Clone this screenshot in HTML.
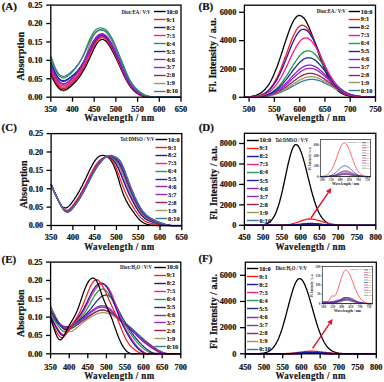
<!DOCTYPE html>
<html><head><meta charset="utf-8"><style>
html,body{margin:0;padding:0;background:#fff;}
svg{display:block;}
text{font-family:"Liberation Serif", serif;font-weight:bold;}
.b{stroke:#111;stroke-width:0.2px;}
</style></head><body>
<svg width="384" height="382" viewBox="0 0 384 382" fill="#111">
<rect width="384" height="382" fill="#fff"/>
<g><polyline fill="none" stroke="#9a9a60" stroke-width="1.25" stroke-linejoin="round" points="50.8,75.1 51.7,76.9 52.5,78.7 53.4,80.4 54.3,82.0 55.1,83.6 56.0,85.0 56.9,86.3 57.7,87.5 58.6,88.4 59.5,89.2 60.3,89.9 61.2,90.4 62.1,90.7 63.0,90.8 63.8,90.8 64.7,90.7 65.6,90.4 66.4,90.0 67.3,89.4 68.2,88.8 69.0,88.0 69.9,87.1 70.8,86.1 71.6,85.1 72.5,84.0 73.4,82.8 74.2,81.5 75.1,80.2 76.0,78.7 76.8,77.2 77.7,75.6 78.6,73.9 79.4,72.1 80.3,70.2 81.2,68.3 82.0,66.2 82.9,64.0 83.8,61.7 84.7,59.4 85.5,56.9 86.4,54.4 87.3,51.8 88.1,49.3 89.0,46.8 89.9,44.4 90.7,42.2 91.6,40.1 92.5,38.1 93.3,36.4 94.2,35.0 95.1,33.7 95.9,32.7 96.8,32.0 97.7,31.3 98.5,30.9 99.4,30.5 100.3,30.4 101.1,30.3 102.0,30.3 102.9,30.5 103.7,30.8 104.6,31.2 105.5,31.8 106.4,32.6 107.2,33.4 108.1,34.5 109.0,35.6 109.8,36.9 110.7,38.3 111.6,39.9 112.4,41.5 113.3,43.3 114.2,45.1 115.0,47.0 115.9,49.0 116.8,51.1 117.6,53.1 118.5,55.2 119.4,57.3 120.2,59.4 121.1,61.5 122.0,63.5 122.8,65.6 123.7,67.7 124.6,69.8 125.4,71.8 126.3,73.8 127.2,75.8 128.1,77.6 128.9,79.4 129.8,80.9 130.7,82.4 131.5,83.8 132.4,85.0 133.3,86.1 134.1,87.2 135.0,88.1 135.9,89.0 136.7,89.8 137.6,90.6 138.5,91.3 139.3,92.0 140.2,92.7 141.1,93.3 141.9,93.8 142.8,94.3 143.7,94.8 144.5,95.2 145.4,95.5 146.3,95.8 147.1,96.0 148.0,96.2 148.9,96.4 149.8,96.5 150.6,96.6 151.5,96.7 152.4,96.8 153.2,96.9 154.1,96.9 155.0,97.0 155.8,97.0 156.7,97.1 157.6,97.1 158.4,97.2 159.3,97.2 160.2,97.2 161.0,97.2 161.9,97.2 162.8,97.2 163.6,97.2 164.5,97.2 165.4,97.2 166.2,97.2 167.1,97.2 168.0,97.2 168.8,97.2 169.7,97.2 170.6,97.2 171.5,97.2 172.3,97.2 173.2,97.2 174.1,97.2 174.9,97.2 175.8,97.2 176.7,97.2 177.5,97.2 178.4,97.2 179.3,97.2 180.1,97.2 181.0,97.2"/>
<polyline fill="none" stroke="#000000" stroke-width="1.25" stroke-linejoin="round" points="50.8,74.1 51.7,76.0 52.5,77.8 53.4,79.5 54.3,81.2 55.1,82.8 56.0,84.3 56.9,85.6 57.7,86.7 58.6,87.7 59.5,88.5 60.3,89.2 61.2,89.6 62.1,90.0 63.0,90.1 63.8,90.1 64.7,90.0 65.6,89.7 66.4,89.3 67.3,88.8 68.2,88.2 69.0,87.6 69.9,86.9 70.8,86.2 71.6,85.5 72.5,84.8 73.4,84.0 74.2,83.1 75.1,82.2 76.0,81.3 76.8,80.3 77.7,79.2 78.6,78.1 79.4,76.9 80.3,75.6 81.2,74.3 82.0,72.9 82.9,71.4 83.8,69.9 84.7,68.4 85.5,66.7 86.4,65.1 87.3,63.3 88.1,61.5 89.0,59.7 89.9,57.8 90.7,55.9 91.6,53.9 92.5,52.0 93.3,50.1 94.2,48.3 95.1,46.6 95.9,45.1 96.8,43.7 97.7,42.4 98.5,41.4 99.4,40.6 100.3,40.0 101.1,39.6 102.0,39.4 102.9,39.5 103.7,39.7 104.6,40.2 105.5,40.8 106.4,41.7 107.2,42.6 108.1,43.8 109.0,45.0 109.8,46.4 110.7,47.9 111.6,49.4 112.4,51.0 113.3,52.7 114.2,54.4 115.0,56.1 115.9,57.9 116.8,59.7 117.6,61.5 118.5,63.4 119.4,65.3 120.2,67.3 121.1,69.3 122.0,71.2 122.8,73.1 123.7,74.9 124.6,76.7 125.4,78.5 126.3,80.1 127.2,81.7 128.1,83.2 128.9,84.6 129.8,85.9 130.7,87.1 131.5,88.2 132.4,89.3 133.3,90.2 134.1,91.1 135.0,91.9 135.9,92.6 136.7,93.2 137.6,93.8 138.5,94.3 139.3,94.8 140.2,95.2 141.1,95.5 141.9,95.9 142.8,96.1 143.7,96.3 144.5,96.5 145.4,96.7 146.3,96.8 147.1,96.9 148.0,97.0 148.9,97.1 149.8,97.1 150.6,97.2 151.5,97.2 152.4,97.2 153.2,97.2 154.1,97.2 155.0,97.2 155.8,97.2 156.7,97.2 157.6,97.2 158.4,97.2 159.3,97.2 160.2,97.2 161.0,97.2 161.9,97.2 162.8,97.2 163.6,97.2 164.5,97.2 165.4,97.2 166.2,97.2 167.1,97.2 168.0,97.2 168.8,97.2 169.7,97.2 170.6,97.2 171.5,97.2 172.3,97.2 173.2,97.2 174.1,97.2 174.9,97.2 175.8,97.2 176.7,97.2 177.5,97.2 178.4,97.2 179.3,97.2 180.1,97.2 181.0,97.2"/>
<polyline fill="none" stroke="#a02050" stroke-width="1.25" stroke-linejoin="round" points="50.8,72.2 51.7,74.1 52.5,76.0 53.4,77.8 54.3,79.5 55.1,81.2 56.0,82.7 56.9,84.0 57.7,85.2 58.6,86.2 59.5,87.0 60.3,87.7 61.2,88.2 62.1,88.5 63.0,88.7 63.8,88.7 64.7,88.5 65.6,88.2 66.4,87.8 67.3,87.3 68.2,86.7 69.0,86.1 69.9,85.4 70.8,84.6 71.6,83.9 72.5,83.1 73.4,82.2 74.2,81.3 75.1,80.4 76.0,79.4 76.8,78.3 77.7,77.1 78.6,75.9 79.4,74.6 80.3,73.3 81.2,71.9 82.0,70.4 82.9,68.8 83.8,67.2 84.7,65.5 85.5,63.7 86.4,61.9 87.3,60.0 88.1,58.1 89.0,56.2 89.9,54.2 90.7,52.2 91.6,50.3 92.5,48.4 93.3,46.6 94.2,44.9 95.1,43.4 95.9,42.0 96.8,40.7 97.7,39.7 98.5,38.8 99.4,38.1 100.3,37.6 101.1,37.2 102.0,37.1 102.9,37.2 103.7,37.5 104.6,38.0 105.5,38.6 106.4,39.4 107.2,40.3 108.1,41.4 109.0,42.7 109.8,44.0 110.7,45.5 111.6,47.0 112.4,48.6 113.3,50.3 114.2,52.1 115.0,53.8 115.9,55.7 116.8,57.5 117.6,59.4 118.5,61.4 119.4,63.3 120.2,65.3 121.1,67.3 122.0,69.3 122.8,71.2 123.7,73.1 124.6,75.0 125.4,76.8 126.3,78.6 127.2,80.2 128.1,81.8 128.9,83.3 129.8,84.7 130.7,85.9 131.5,87.1 132.4,88.2 133.3,89.2 134.1,90.1 135.0,90.9 135.9,91.7 136.7,92.4 137.6,93.0 138.5,93.6 139.3,94.1 140.2,94.6 141.1,95.0 141.9,95.3 142.8,95.7 143.7,96.0 144.5,96.2 145.4,96.4 146.3,96.6 147.1,96.7 148.0,96.8 148.9,96.9 149.8,97.0 150.6,97.0 151.5,97.1 152.4,97.1 153.2,97.1 154.1,97.1 155.0,97.1 155.8,97.2 156.7,97.2 157.6,97.2 158.4,97.2 159.3,97.2 160.2,97.2 161.0,97.2 161.9,97.2 162.8,97.2 163.6,97.2 164.5,97.2 165.4,97.2 166.2,97.2 167.1,97.2 168.0,97.2 168.8,97.2 169.7,97.2 170.6,97.2 171.5,97.2 172.3,97.2 173.2,97.2 174.1,97.2 174.9,97.2 175.8,97.2 176.7,97.2 177.5,97.2 178.4,97.2 179.3,97.2 180.1,97.2 181.0,97.2"/>
<polyline fill="none" stroke="#ff1a1a" stroke-width="1.25" stroke-linejoin="round" points="50.8,70.3 51.7,72.3 52.5,74.2 53.4,76.1 54.3,77.9 55.1,79.6 56.0,81.1 56.9,82.5 57.7,83.7 58.6,84.7 59.5,85.6 60.3,86.2 61.2,86.7 62.1,87.1 63.0,87.2 63.8,87.2 64.7,87.1 65.6,86.8 66.4,86.4 67.3,85.9 68.2,85.3 69.0,84.7 69.9,84.0 70.8,83.3 71.6,82.6 72.5,81.8 73.4,81.0 74.2,80.2 75.1,79.3 76.0,78.3 76.8,77.3 77.7,76.2 78.6,75.1 79.4,73.9 80.3,72.6 81.2,71.3 82.0,69.9 82.9,68.4 83.8,66.9 84.7,65.2 85.5,63.6 86.4,61.8 87.3,60.0 88.1,58.2 89.0,56.4 89.9,54.5 90.7,52.6 91.6,50.7 92.5,48.9 93.3,47.1 94.2,45.4 95.1,43.8 95.9,42.4 96.8,41.2 97.7,40.1 98.5,39.2 99.4,38.4 100.3,37.9 101.1,37.6 102.0,37.5 102.9,37.6 103.7,37.8 104.6,38.3 105.5,38.9 106.4,39.7 107.2,40.7 108.1,41.8 109.0,43.0 109.8,44.4 110.7,45.8 111.6,47.4 112.4,49.0 113.3,50.7 114.2,52.4 115.0,54.2 115.9,56.0 116.8,57.8 117.6,59.7 118.5,61.7 119.4,63.6 120.2,65.6 121.1,67.6 122.0,69.6 122.8,71.5 123.7,73.4 124.6,75.3 125.4,77.1 126.3,78.8 127.2,80.5 128.1,82.0 128.9,83.5 129.8,84.8 130.7,86.1 131.5,87.3 132.4,88.3 133.3,89.3 134.1,90.2 135.0,91.1 135.9,91.8 136.7,92.5 137.6,93.1 138.5,93.7 139.3,94.2 140.2,94.7 141.1,95.1 141.9,95.4 142.8,95.7 143.7,96.0 144.5,96.2 145.4,96.4 146.3,96.6 147.1,96.7 148.0,96.8 148.9,96.9 149.8,97.0 150.6,97.0 151.5,97.1 152.4,97.1 153.2,97.1 154.1,97.1 155.0,97.2 155.8,97.2 156.7,97.2 157.6,97.2 158.4,97.2 159.3,97.2 160.2,97.2 161.0,97.2 161.9,97.2 162.8,97.2 163.6,97.2 164.5,97.2 165.4,97.2 166.2,97.2 167.1,97.2 168.0,97.2 168.8,97.2 169.7,97.2 170.6,97.2 171.5,97.2 172.3,97.2 173.2,97.2 174.1,97.2 174.9,97.2 175.8,97.2 176.7,97.2 177.5,97.2 178.4,97.2 179.3,97.2 180.1,97.2 181.0,97.2"/>
<polyline fill="none" stroke="#ff1a8c" stroke-width="1.25" stroke-linejoin="round" points="50.8,68.4 51.7,70.4 52.5,72.4 53.4,74.4 54.3,76.2 55.1,78.0 56.0,79.6 56.9,81.0 57.7,82.2 58.6,83.3 59.5,84.1 60.3,84.8 61.2,85.3 62.1,85.6 63.0,85.8 63.8,85.8 64.7,85.6 65.6,85.3 66.4,84.9 67.3,84.4 68.2,83.8 69.0,83.2 69.9,82.5 70.8,81.8 71.6,81.1 72.5,80.3 73.4,79.5 74.2,78.7 75.1,77.8 76.0,76.9 76.8,75.9 77.7,74.8 78.6,73.7 79.4,72.5 80.3,71.2 81.2,69.9 82.0,68.4 82.9,66.9 83.8,65.4 84.7,63.7 85.5,62.0 86.4,60.3 87.3,58.5 88.1,56.6 89.0,54.8 89.9,52.9 90.7,51.0 91.6,49.2 92.5,47.4 93.3,45.7 94.2,44.0 95.1,42.6 95.9,41.2 96.8,40.0 97.7,39.0 98.5,38.1 99.4,37.4 100.3,37.0 101.1,36.7 102.0,36.6 102.9,36.7 103.7,36.9 104.6,37.4 105.5,38.0 106.4,38.8 107.2,39.8 108.1,40.9 109.0,42.1 109.8,43.4 110.7,44.9 111.6,46.4 112.4,48.0 113.3,49.7 114.2,51.5 115.0,53.3 115.9,55.1 116.8,57.0 117.6,58.9 118.5,60.9 119.4,62.8 120.2,64.8 121.1,66.8 122.0,68.8 122.8,70.8 123.7,72.7 124.6,74.6 125.4,76.4 126.3,78.2 127.2,79.9 128.1,81.5 128.9,83.0 129.8,84.3 130.7,85.6 131.5,86.8 132.4,87.9 133.3,88.9 134.1,89.8 135.0,90.7 135.9,91.5 136.7,92.2 137.6,92.8 138.5,93.4 139.3,93.9 140.2,94.4 141.1,94.8 141.9,95.2 142.8,95.6 143.7,95.9 144.5,96.1 145.4,96.3 146.3,96.5 147.1,96.6 148.0,96.8 148.9,96.9 149.8,96.9 150.6,97.0 151.5,97.0 152.4,97.1 153.2,97.1 154.1,97.1 155.0,97.1 155.8,97.1 156.7,97.2 157.6,97.2 158.4,97.2 159.3,97.2 160.2,97.2 161.0,97.2 161.9,97.2 162.8,97.2 163.6,97.2 164.5,97.2 165.4,97.2 166.2,97.2 167.1,97.2 168.0,97.2 168.8,97.2 169.7,97.2 170.6,97.2 171.5,97.2 172.3,97.2 173.2,97.2 174.1,97.2 174.9,97.2 175.8,97.2 176.7,97.2 177.5,97.2 178.4,97.2 179.3,97.2 180.1,97.2 181.0,97.2"/>
<polyline fill="none" stroke="#1a1aa8" stroke-width="1.25" stroke-linejoin="round" points="50.8,61.7 51.7,63.9 52.5,66.2 53.4,68.3 54.3,70.4 55.1,72.3 56.0,74.1 56.9,75.6 57.7,77.0 58.6,78.1 59.5,79.0 60.3,79.7 61.2,80.2 62.1,80.5 63.0,80.7 63.8,80.7 64.7,80.5 65.6,80.2 66.4,79.8 67.3,79.3 68.2,78.8 69.0,78.2 69.9,77.5 70.8,76.9 71.6,76.2 72.5,75.5 73.4,74.8 74.2,74.1 75.1,73.3 76.0,72.4 76.8,71.6 77.7,70.6 78.6,69.6 79.4,68.6 80.3,67.5 81.2,66.2 82.0,65.0 82.9,63.6 83.8,62.1 84.7,60.6 85.5,58.9 86.4,57.3 87.3,55.6 88.1,53.9 89.0,52.2 89.9,50.4 90.7,48.7 91.6,47.0 92.5,45.4 93.3,43.8 94.2,42.3 95.1,40.9 95.9,39.7 96.8,38.5 97.7,37.6 98.5,36.8 99.4,36.2 100.3,35.8 101.1,35.5 102.0,35.4 102.9,35.5 103.7,35.8 104.6,36.3 105.5,36.9 106.4,37.7 107.2,38.6 108.1,39.7 109.0,40.9 109.8,42.2 110.7,43.7 111.6,45.2 112.4,46.9 113.3,48.6 114.2,50.3 115.0,52.1 115.9,54.0 116.8,55.9 117.6,57.9 118.5,59.8 119.4,61.8 120.2,63.8 121.1,65.8 122.0,67.8 122.8,69.8 123.7,71.8 124.6,73.7 125.4,75.6 126.3,77.4 127.2,79.1 128.1,80.8 128.9,82.3 129.8,83.7 130.7,85.0 131.5,86.3 132.4,87.4 133.3,88.4 134.1,89.4 135.0,90.2 135.9,91.0 136.7,91.7 137.6,92.4 138.5,93.0 139.3,93.6 140.2,94.1 141.1,94.6 141.9,95.0 142.8,95.3 143.7,95.7 144.5,95.9 145.4,96.2 146.3,96.4 147.1,96.5 148.0,96.7 148.9,96.8 149.8,96.9 150.6,96.9 151.5,97.0 152.4,97.0 153.2,97.1 154.1,97.1 155.0,97.1 155.8,97.1 156.7,97.1 157.6,97.2 158.4,97.2 159.3,97.2 160.2,97.2 161.0,97.2 161.9,97.2 162.8,97.2 163.6,97.2 164.5,97.2 165.4,97.2 166.2,97.2 167.1,97.2 168.0,97.2 168.8,97.2 169.7,97.2 170.6,97.2 171.5,97.2 172.3,97.2 173.2,97.2 174.1,97.2 174.9,97.2 175.8,97.2 176.7,97.2 177.5,97.2 178.4,97.2 179.3,97.2 180.1,97.2 181.0,97.2"/>
<polyline fill="none" stroke="#1a2a9a" stroke-width="1.25" stroke-linejoin="round" points="50.8,62.6 51.7,64.9 52.5,67.1 53.4,69.2 54.3,71.2 55.1,73.1 56.0,74.9 56.9,76.4 57.7,77.7 58.6,78.8 59.5,79.7 60.3,80.4 61.2,80.9 62.1,81.3 63.0,81.4 63.8,81.4 64.7,81.2 65.6,81.0 66.4,80.5 67.3,80.0 68.2,79.5 69.0,78.8 69.9,78.2 70.8,77.5 71.6,76.8 72.5,76.0 73.4,75.2 74.2,74.4 75.1,73.5 76.0,72.6 76.8,71.7 77.7,70.6 78.6,69.6 79.4,68.4 80.3,67.2 81.2,65.8 82.0,64.4 82.9,62.9 83.8,61.4 84.7,59.7 85.5,57.9 86.4,56.2 87.3,54.3 88.1,52.5 89.0,50.7 89.9,48.9 90.7,47.1 91.6,45.3 92.5,43.7 93.3,42.1 94.2,40.6 95.1,39.3 95.9,38.1 96.8,37.1 97.7,36.2 98.5,35.5 99.4,34.9 100.3,34.6 101.1,34.3 102.0,34.3 102.9,34.4 103.7,34.7 104.6,35.2 105.5,35.8 106.4,36.5 107.2,37.5 108.1,38.5 109.0,39.7 109.8,41.1 110.7,42.5 111.6,44.0 112.4,45.7 113.3,47.4 114.2,49.2 115.0,51.0 115.9,52.9 116.8,54.8 117.6,56.8 118.5,58.8 119.4,60.8 120.2,62.8 121.1,64.9 122.0,66.9 122.8,68.9 123.7,70.9 124.6,72.8 125.4,74.7 126.3,76.6 127.2,78.4 128.1,80.1 128.9,81.6 129.8,83.1 130.7,84.5 131.5,85.7 132.4,86.9 133.3,87.9 134.1,88.9 135.0,89.8 135.9,90.6 136.7,91.3 137.6,92.0 138.5,92.6 139.3,93.2 140.2,93.8 141.1,94.3 141.9,94.7 142.8,95.1 143.7,95.5 144.5,95.8 145.4,96.0 146.3,96.2 147.1,96.4 148.0,96.6 148.9,96.7 149.8,96.8 150.6,96.9 151.5,96.9 152.4,97.0 153.2,97.0 154.1,97.1 155.0,97.1 155.8,97.1 156.7,97.1 157.6,97.2 158.4,97.2 159.3,97.2 160.2,97.2 161.0,97.2 161.9,97.2 162.8,97.2 163.6,97.2 164.5,97.2 165.4,97.2 166.2,97.2 167.1,97.2 168.0,97.2 168.8,97.2 169.7,97.2 170.6,97.2 171.5,97.2 172.3,97.2 173.2,97.2 174.1,97.2 174.9,97.2 175.8,97.2 176.7,97.2 177.5,97.2 178.4,97.2 179.3,97.2 180.1,97.2 181.0,97.2"/>
<polyline fill="none" stroke="#8a30c8" stroke-width="1.25" stroke-linejoin="round" points="50.8,66.5 51.7,68.6 52.5,70.6 53.4,72.6 54.3,74.5 55.1,76.3 56.0,78.0 56.9,79.5 57.7,80.7 58.6,81.8 59.5,82.7 60.3,83.3 61.2,83.8 62.1,84.2 63.0,84.3 63.8,84.3 64.7,84.2 65.6,83.9 66.4,83.5 67.3,82.9 68.2,82.4 69.0,81.7 69.9,81.0 70.8,80.3 71.6,79.5 72.5,78.7 73.4,77.8 74.2,76.9 75.1,75.9 76.0,74.9 76.8,73.9 77.7,72.7 78.6,71.5 79.4,70.2 80.3,68.9 81.2,67.5 82.0,65.9 82.9,64.3 83.8,62.6 84.7,60.8 85.5,59.0 86.4,57.1 87.3,55.2 88.1,53.2 89.0,51.3 89.9,49.3 90.7,47.4 91.6,45.6 92.5,43.8 93.3,42.2 94.2,40.7 95.1,39.3 95.9,38.1 96.8,37.1 97.7,36.2 98.5,35.5 99.4,34.9 100.3,34.6 101.1,34.3 102.0,34.3 102.9,34.4 103.7,34.7 104.6,35.2 105.5,35.8 106.4,36.5 107.2,37.5 108.1,38.5 109.0,39.7 109.8,41.1 110.7,42.5 111.6,44.0 112.4,45.7 113.3,47.4 114.2,49.2 115.0,51.0 115.9,52.9 116.8,54.8 117.6,56.8 118.5,58.8 119.4,60.8 120.2,62.8 121.1,64.9 122.0,66.9 122.8,68.9 123.7,70.9 124.6,72.8 125.4,74.7 126.3,76.6 127.2,78.4 128.1,80.1 128.9,81.6 129.8,83.1 130.7,84.5 131.5,85.7 132.4,86.9 133.3,87.9 134.1,88.9 135.0,89.8 135.9,90.6 136.7,91.3 137.6,92.0 138.5,92.6 139.3,93.2 140.2,93.8 141.1,94.3 141.9,94.7 142.8,95.1 143.7,95.5 144.5,95.8 145.4,96.0 146.3,96.2 147.1,96.4 148.0,96.6 148.9,96.7 149.8,96.8 150.6,96.9 151.5,96.9 152.4,97.0 153.2,97.0 154.1,97.1 155.0,97.1 155.8,97.1 156.7,97.1 157.6,97.2 158.4,97.2 159.3,97.2 160.2,97.2 161.0,97.2 161.9,97.2 162.8,97.2 163.6,97.2 164.5,97.2 165.4,97.2 166.2,97.2 167.1,97.2 168.0,97.2 168.8,97.2 169.7,97.2 170.6,97.2 171.5,97.2 172.3,97.2 173.2,97.2 174.1,97.2 174.9,97.2 175.8,97.2 176.7,97.2 177.5,97.2 178.4,97.2 179.3,97.2 180.1,97.2 181.0,97.2"/>
<polyline fill="none" stroke="#9020c0" stroke-width="1.25" stroke-linejoin="round" points="50.8,65.5 51.7,67.6 52.5,69.7 53.4,71.8 54.3,73.7 55.1,75.5 56.0,77.2 56.9,78.7 57.7,80.0 58.6,81.0 59.5,81.9 60.3,82.6 61.2,83.1 62.1,83.4 63.0,83.6 63.8,83.6 64.7,83.4 65.6,83.1 66.4,82.7 67.3,82.2 68.2,81.6 69.0,81.0 69.9,80.3 70.8,79.5 71.6,78.7 72.5,77.9 73.4,77.0 74.2,76.1 75.1,75.2 76.0,74.2 76.8,73.1 77.7,71.9 78.6,70.7 79.4,69.5 80.3,68.1 81.2,66.7 82.0,65.1 82.9,63.5 83.8,61.8 84.7,60.0 85.5,58.1 86.4,56.2 87.3,54.2 88.1,52.3 89.0,50.3 89.9,48.4 90.7,46.5 91.6,44.7 92.5,42.9 93.3,41.3 94.2,39.8 95.1,38.5 95.9,37.3 96.8,36.3 97.7,35.5 98.5,34.8 99.4,34.3 100.3,34.0 101.1,33.8 102.0,33.7 102.9,33.9 103.7,34.2 104.6,34.6 105.5,35.2 106.4,36.0 107.2,36.9 108.1,37.9 109.0,39.1 109.8,40.5 110.7,41.9 111.6,43.4 112.4,45.1 113.3,46.8 114.2,48.6 115.0,50.4 115.9,52.3 116.8,54.3 117.6,56.3 118.5,58.3 119.4,60.3 120.2,62.3 121.1,64.4 122.0,66.4 122.8,68.4 123.7,70.4 124.6,72.4 125.4,74.3 126.3,76.2 127.2,78.0 128.1,79.7 128.9,81.3 129.8,82.8 130.7,84.2 131.5,85.4 132.4,86.6 133.3,87.6 134.1,88.6 135.0,89.5 135.9,90.3 136.7,91.1 137.6,91.8 138.5,92.5 139.3,93.1 140.2,93.6 141.1,94.1 141.9,94.6 142.8,95.0 143.7,95.4 144.5,95.7 145.4,95.9 146.3,96.2 147.1,96.4 148.0,96.5 148.9,96.6 149.8,96.7 150.6,96.8 151.5,96.9 152.4,96.9 153.2,97.0 154.1,97.0 155.0,97.1 155.8,97.1 156.7,97.1 157.6,97.2 158.4,97.2 159.3,97.2 160.2,97.2 161.0,97.2 161.9,97.2 162.8,97.2 163.6,97.2 164.5,97.2 165.4,97.2 166.2,97.2 167.1,97.2 168.0,97.2 168.8,97.2 169.7,97.2 170.6,97.2 171.5,97.2 172.3,97.2 173.2,97.2 174.1,97.2 174.9,97.2 175.8,97.2 176.7,97.2 177.5,97.2 178.4,97.2 179.3,97.2 180.1,97.2 181.0,97.2"/>
<polyline fill="none" stroke="#1f9a50" stroke-width="1.25" stroke-linejoin="round" points="50.8,57.9 51.7,60.2 52.5,62.6 53.4,64.9 54.3,67.0 55.1,69.1 56.0,70.9 56.9,72.6 57.7,74.0 58.6,75.1 59.5,76.1 60.3,76.8 61.2,77.3 62.1,77.6 63.0,77.8 63.8,77.8 64.7,77.6 65.6,77.3 66.4,76.9 67.3,76.4 68.2,75.8 69.0,75.1 69.9,74.3 70.8,73.5 71.6,72.6 72.5,71.7 73.4,70.8 74.2,69.8 75.1,68.7 76.0,67.6 76.8,66.4 77.7,65.2 78.6,63.9 79.4,62.5 80.3,61.0 81.2,59.4 82.0,57.7 82.9,55.9 83.8,53.9 84.7,51.8 85.5,49.7 86.4,47.5 87.3,45.3 88.1,43.1 89.0,41.0 89.9,39.0 90.7,37.2 91.6,35.5 92.5,33.9 93.3,32.6 94.2,31.4 95.1,30.4 95.9,29.6 96.8,29.0 97.7,28.6 98.5,28.2 99.4,28.0 100.3,27.9 101.1,28.0 102.0,28.1 102.9,28.3 103.7,28.6 104.6,29.0 105.5,29.6 106.4,30.3 107.2,31.1 108.1,32.1 109.0,33.3 109.8,34.5 110.7,36.0 111.6,37.5 112.4,39.1 113.3,40.9 114.2,42.8 115.0,44.8 115.9,46.8 116.8,48.9 117.6,51.0 118.5,53.2 119.4,55.3 120.2,57.4 121.1,59.5 122.0,61.6 122.8,63.7 123.7,65.9 124.6,68.0 125.4,70.2 126.3,72.3 127.2,74.3 128.1,76.2 128.9,78.0 129.8,79.7 130.7,81.2 131.5,82.6 132.4,83.9 133.3,85.1 134.1,86.2 135.0,87.2 135.9,88.1 136.7,89.0 137.6,89.8 138.5,90.6 139.3,91.3 140.2,92.1 141.1,92.7 141.9,93.3 142.8,93.9 143.7,94.4 144.5,94.8 145.4,95.2 146.3,95.5 147.1,95.8 148.0,96.0 148.9,96.2 149.8,96.3 150.6,96.5 151.5,96.6 152.4,96.7 153.2,96.8 154.1,96.9 155.0,96.9 155.8,97.0 156.7,97.1 157.6,97.1 158.4,97.2 159.3,97.2 160.2,97.2 161.0,97.2 161.9,97.2 162.8,97.2 163.6,97.2 164.5,97.2 165.4,97.2 166.2,97.2 167.1,97.2 168.0,97.2 168.8,97.2 169.7,97.2 170.6,97.2 171.5,97.2 172.3,97.2 173.2,97.2 174.1,97.2 174.9,97.2 175.8,97.2 176.7,97.2 177.5,97.2 178.4,97.2 179.3,97.2 180.1,97.2 181.0,97.2"/>
<polyline fill="none" stroke="#3a7a98" stroke-width="1.25" stroke-linejoin="round" points="50.8,55.9 51.7,58.4 52.5,60.8 53.4,63.2 54.3,65.4 55.1,67.5 56.0,69.4 56.9,71.0 57.7,72.5 58.6,73.6 59.5,74.6 60.3,75.3 61.2,75.9 62.1,76.2 63.0,76.3 63.8,76.3 64.7,76.2 65.6,75.9 66.4,75.4 67.3,74.9 68.2,74.3 69.0,73.7 69.9,73.0 70.8,72.2 71.6,71.5 72.5,70.7 73.4,69.8 74.2,68.9 75.1,68.0 76.0,67.0 76.8,66.0 77.7,64.9 78.6,63.8 79.4,62.6 80.3,61.2 81.2,59.8 82.0,58.3 82.9,56.7 83.8,54.9 84.7,53.0 85.5,51.1 86.4,49.1 87.3,47.1 88.1,45.1 89.0,43.2 89.9,41.3 90.7,39.6 91.6,38.0 92.5,36.5 93.3,35.1 94.2,33.9 95.1,32.8 95.9,32.0 96.8,31.2 97.7,30.6 98.5,30.2 99.4,29.9 100.3,29.7 101.1,29.7 102.0,29.8 102.9,29.9 103.7,30.2 104.6,30.7 105.5,31.3 106.4,32.0 107.2,32.9 108.1,33.9 109.0,35.0 109.8,36.3 110.7,37.7 111.6,39.3 112.4,40.9 113.3,42.7 114.2,44.5 115.0,46.5 115.9,48.5 116.8,50.5 117.6,52.6 118.5,54.7 119.4,56.8 120.2,58.9 121.1,61.0 122.0,63.1 122.8,65.1 123.7,67.2 124.6,69.3 125.4,71.4 126.3,73.4 127.2,75.4 128.1,77.3 128.9,79.0 129.8,80.6 130.7,82.1 131.5,83.5 132.4,84.7 133.3,85.9 134.1,86.9 135.0,87.9 135.9,88.8 136.7,89.6 137.6,90.4 138.5,91.1 139.3,91.9 140.2,92.5 141.1,93.1 141.9,93.7 142.8,94.2 143.7,94.7 144.5,95.1 145.4,95.4 146.3,95.7 147.1,95.9 148.0,96.1 148.9,96.3 149.8,96.5 150.6,96.6 151.5,96.7 152.4,96.8 153.2,96.8 154.1,96.9 155.0,97.0 155.8,97.0 156.7,97.1 157.6,97.1 158.4,97.2 159.3,97.2 160.2,97.2 161.0,97.2 161.9,97.2 162.8,97.2 163.6,97.2 164.5,97.2 165.4,97.2 166.2,97.2 167.1,97.2 168.0,97.2 168.8,97.2 169.7,97.2 170.6,97.2 171.5,97.2 172.3,97.2 173.2,97.2 174.1,97.2 174.9,97.2 175.8,97.2 176.7,97.2 177.5,97.2 178.4,97.2 179.3,97.2 180.1,97.2 181.0,97.2"/>
<polyline fill="none" stroke="#000000" stroke-width="1.30" stroke-linejoin="round" points="244.4,97.1 245.4,97.0 246.4,97.0 247.4,96.9 248.4,96.8 249.5,96.7 250.5,96.6 251.5,96.4 252.5,96.2 253.5,96.0 254.5,95.8 255.5,95.5 256.5,95.1 257.5,94.7 258.6,94.2 259.6,93.7 260.6,93.1 261.6,92.4 262.6,91.6 263.6,90.7 264.6,89.8 265.6,88.7 266.6,87.4 267.7,86.1 268.7,84.6 269.7,83.0 270.7,81.2 271.7,79.3 272.7,77.2 273.7,75.0 274.7,72.6 275.7,70.1 276.8,67.5 277.8,64.8 278.8,61.9 279.8,58.9 280.8,55.9 281.8,52.8 282.8,49.7 283.8,46.5 284.8,43.4 285.9,40.3 286.9,37.2 287.9,34.3 288.9,31.4 289.9,28.8 290.9,26.3 291.9,24.0 292.9,21.9 293.9,20.1 295.0,18.5 296.0,17.3 297.0,16.3 298.0,15.7 299.0,15.4 300.0,15.5 301.0,15.8 302.0,16.4 303.0,17.2 304.1,18.3 305.1,19.7 306.1,21.3 307.1,23.2 308.1,25.2 309.1,27.5 310.1,29.9 311.1,32.4 312.1,35.1 313.2,37.8 314.2,40.7 315.2,43.5 316.2,46.5 317.2,49.4 318.2,52.3 319.2,55.2 320.2,58.0 321.2,60.8 322.3,63.5 323.3,66.1 324.3,68.6 325.3,70.9 326.3,73.2 327.3,75.4 328.3,77.4 329.3,79.3 330.4,81.1 331.4,82.7 332.4,84.3 333.4,85.7 334.4,87.0 335.4,88.2 336.4,89.2 337.4,90.2 338.4,91.1 339.5,91.9 340.5,92.6 341.5,93.2 342.5,93.8 343.5,94.2 344.5,94.7 345.5,95.1 346.5,95.4 347.5,95.7 348.6,95.9 349.6,96.1 350.6,96.3 351.6,96.5 352.6,96.6 353.6,96.7 354.6,96.8 355.6,96.9 356.6,97.0 357.7,97.0 358.7,97.1 359.7,97.1 360.7,97.2 361.7,97.2 362.7,97.2 363.7,97.2 364.7,97.2 365.7,97.3 366.8,97.3 367.8,97.3 368.8,97.3 369.8,97.3 370.8,97.3 371.8,97.3 372.8,97.3 373.8,97.3 374.8,97.3"/>
<polyline fill="none" stroke="#ff1a1a" stroke-width="1.30" stroke-linejoin="round" points="244.4,97.2 245.4,97.2 246.4,97.2 247.4,97.1 248.4,97.1 249.5,97.0 250.5,97.0 251.5,96.9 252.5,96.8 253.5,96.7 254.5,96.6 255.5,96.4 256.5,96.3 257.5,96.1 258.6,95.8 259.6,95.5 260.6,95.2 261.6,94.8 262.6,94.3 263.6,93.8 264.6,93.2 265.6,92.5 266.6,91.8 267.7,90.9 268.7,90.0 269.7,88.9 270.7,87.7 271.7,86.4 272.7,85.0 273.7,83.4 274.7,81.7 275.7,79.9 276.8,78.0 277.8,75.9 278.8,73.7 279.8,71.3 280.8,68.9 281.8,66.3 282.8,63.7 283.8,61.0 284.8,58.2 285.9,55.4 286.9,52.6 287.9,49.8 288.9,47.0 289.9,44.3 290.9,41.6 291.9,39.1 292.9,36.7 293.9,34.5 295.0,32.5 296.0,30.6 297.0,29.1 298.0,27.7 299.0,26.7 300.0,25.9 301.0,25.4 302.0,25.2 303.0,25.3 304.1,25.6 305.1,26.2 306.1,27.0 307.1,28.1 308.1,29.3 309.1,30.8 310.1,32.5 311.1,34.3 312.1,36.3 313.2,38.5 314.2,40.7 315.2,43.1 316.2,45.5 317.2,48.1 318.2,50.6 319.2,53.2 320.2,55.7 321.2,58.3 322.3,60.8 323.3,63.3 324.3,65.7 325.3,68.1 326.3,70.3 327.3,72.5 328.3,74.6 329.3,76.6 330.4,78.5 331.4,80.2 332.4,81.9 333.4,83.4 334.4,84.8 335.4,86.2 336.4,87.4 337.4,88.5 338.4,89.5 339.5,90.4 340.5,91.3 341.5,92.0 342.5,92.7 343.5,93.3 344.5,93.8 345.5,94.3 346.5,94.7 347.5,95.1 348.6,95.4 349.6,95.7 350.6,95.9 351.6,96.1 352.6,96.3 353.6,96.5 354.6,96.6 355.6,96.7 356.6,96.8 357.7,96.9 358.7,97.0 359.7,97.0 360.7,97.1 361.7,97.1 362.7,97.2 363.7,97.2 364.7,97.2 365.7,97.2 366.8,97.2 367.8,97.3 368.8,97.3 369.8,97.3 370.8,97.3 371.8,97.3 372.8,97.3 373.8,97.3 374.8,97.3"/>
<polyline fill="none" stroke="#3a7a98" stroke-width="1.30" stroke-linejoin="round" points="244.4,97.3 245.4,97.3 246.4,97.2 247.4,97.2 248.4,97.2 249.5,97.2 250.5,97.2 251.5,97.2 252.5,97.1 253.5,97.1 254.5,97.1 255.5,97.0 256.5,97.0 257.5,97.0 258.6,96.9 259.6,96.8 260.6,96.8 261.6,96.7 262.6,96.6 263.6,96.5 264.6,96.4 265.6,96.3 266.6,96.1 267.7,96.0 268.7,95.8 269.7,95.6 270.7,95.4 271.7,95.2 272.7,95.0 273.7,94.7 274.7,94.4 275.7,94.1 276.8,93.8 277.8,93.5 278.8,93.1 279.8,92.7 280.8,92.3 281.8,91.9 282.8,91.4 283.8,91.0 284.8,90.5 285.9,90.0 286.9,89.4 287.9,88.9 288.9,88.4 289.9,87.8 290.9,87.2 291.9,86.7 292.9,86.1 293.9,85.5 295.0,85.0 296.0,84.4 297.0,83.9 298.0,83.3 299.0,82.8 300.0,82.3 301.0,81.9 302.0,81.4 303.0,81.0 304.1,80.7 305.1,80.4 306.1,80.1 307.1,79.9 308.1,79.7 309.1,79.5 310.1,79.4 311.1,79.4 312.1,79.4 313.2,79.4 314.2,79.5 315.2,79.7 316.2,79.9 317.2,80.1 318.2,80.4 319.2,80.7 320.2,81.0 321.2,81.4 322.3,81.8 323.3,82.3 324.3,82.8 325.3,83.2 326.3,83.8 327.3,84.3 328.3,84.8 329.3,85.4 330.4,85.9 331.4,86.5 332.4,87.0 333.4,87.6 334.4,88.1 335.4,88.7 336.4,89.2 337.4,89.7 338.4,90.2 339.5,90.7 340.5,91.2 341.5,91.6 342.5,92.1 343.5,92.5 344.5,92.9 345.5,93.2 346.5,93.6 347.5,93.9 348.6,94.2 349.6,94.5 350.6,94.8 351.6,95.0 352.6,95.2 353.6,95.5 354.6,95.7 355.6,95.8 356.6,96.0 357.7,96.1 358.7,96.3 359.7,96.4 360.7,96.5 361.7,96.6 362.7,96.7 363.7,96.8 364.7,96.8 365.7,96.9 366.8,96.9 367.8,97.0 368.8,97.0 369.8,97.1 370.8,97.1 371.8,97.1 372.8,97.2 373.8,97.2 374.8,97.2"/>
<polyline fill="none" stroke="#9a9a60" stroke-width="1.30" stroke-linejoin="round" points="244.4,97.3 245.4,97.3 246.4,97.2 247.4,97.2 248.4,97.2 249.5,97.2 250.5,97.2 251.5,97.2 252.5,97.1 253.5,97.1 254.5,97.1 255.5,97.0 256.5,97.0 257.5,96.9 258.6,96.9 259.6,96.8 260.6,96.7 261.6,96.7 262.6,96.6 263.6,96.4 264.6,96.3 265.6,96.2 266.6,96.0 267.7,95.9 268.7,95.7 269.7,95.5 270.7,95.2 271.7,95.0 272.7,94.7 273.7,94.4 274.7,94.1 275.7,93.7 276.8,93.4 277.8,93.0 278.8,92.5 279.8,92.1 280.8,91.6 281.8,91.1 282.8,90.6 283.8,90.0 284.8,89.4 285.9,88.8 286.9,88.2 287.9,87.6 288.9,86.9 289.9,86.2 290.9,85.6 291.9,84.9 292.9,84.2 293.9,83.5 295.0,82.9 296.0,82.2 297.0,81.6 298.0,81.0 299.0,80.4 300.0,79.8 301.0,79.3 302.0,78.8 303.0,78.4 304.1,78.0 305.1,77.6 306.1,77.3 307.1,77.1 308.1,76.9 309.1,76.8 310.1,76.7 311.1,76.7 312.1,76.7 313.2,76.8 314.2,77.0 315.2,77.2 316.2,77.5 317.2,77.8 318.2,78.2 319.2,78.6 320.2,79.0 321.2,79.5 322.3,80.1 323.3,80.6 324.3,81.2 325.3,81.8 326.3,82.4 327.3,83.1 328.3,83.7 329.3,84.4 330.4,85.0 331.4,85.7 332.4,86.3 333.4,87.0 334.4,87.6 335.4,88.2 336.4,88.8 337.4,89.4 338.4,90.0 339.5,90.5 340.5,91.0 341.5,91.5 342.5,92.0 343.5,92.5 344.5,92.9 345.5,93.3 346.5,93.6 347.5,94.0 348.6,94.3 349.6,94.6 350.6,94.9 351.6,95.1 352.6,95.4 353.6,95.6 354.6,95.8 355.6,95.9 356.6,96.1 357.7,96.2 358.7,96.4 359.7,96.5 360.7,96.6 361.7,96.7 362.7,96.8 363.7,96.8 364.7,96.9 365.7,97.0 366.8,97.0 367.8,97.0 368.8,97.1 369.8,97.1 370.8,97.1 371.8,97.2 372.8,97.2 373.8,97.2 374.8,97.2"/>
<polyline fill="none" stroke="#a02050" stroke-width="1.30" stroke-linejoin="round" points="244.4,97.3 245.4,97.2 246.4,97.2 247.4,97.2 248.4,97.2 249.5,97.2 250.5,97.2 251.5,97.1 252.5,97.1 253.5,97.1 254.5,97.0 255.5,97.0 256.5,96.9 257.5,96.8 258.6,96.8 259.6,96.7 260.6,96.6 261.6,96.5 262.6,96.4 263.6,96.2 264.6,96.1 265.6,95.9 266.6,95.7 267.7,95.5 268.7,95.3 269.7,95.0 270.7,94.7 271.7,94.4 272.7,94.1 273.7,93.8 274.7,93.4 275.7,92.9 276.8,92.5 277.8,92.0 278.8,91.5 279.8,91.0 280.8,90.4 281.8,89.8 282.8,89.1 283.8,88.5 284.8,87.8 285.9,87.1 286.9,86.4 287.9,85.6 288.9,84.8 289.9,84.1 290.9,83.3 291.9,82.5 292.9,81.7 293.9,80.9 295.0,80.2 296.0,79.4 297.0,78.7 298.0,78.0 299.0,77.3 300.0,76.7 301.0,76.1 302.0,75.6 303.0,75.1 304.1,74.6 305.1,74.3 306.1,73.9 307.1,73.7 308.1,73.5 309.1,73.4 310.1,73.4 311.1,73.4 312.1,73.5 313.2,73.6 314.2,73.8 315.2,74.1 316.2,74.5 317.2,74.9 318.2,75.3 319.2,75.8 320.2,76.4 321.2,77.0 322.3,77.6 323.3,78.2 324.3,78.9 325.3,79.7 326.3,80.4 327.3,81.1 328.3,81.9 329.3,82.7 330.4,83.4 331.4,84.2 332.4,84.9 333.4,85.7 334.4,86.4 335.4,87.1 336.4,87.8 337.4,88.5 338.4,89.1 339.5,89.7 340.5,90.3 341.5,90.9 342.5,91.4 343.5,91.9 344.5,92.4 345.5,92.8 346.5,93.3 347.5,93.6 348.6,94.0 349.6,94.3 350.6,94.6 351.6,94.9 352.6,95.2 353.6,95.4 354.6,95.6 355.6,95.8 356.6,96.0 357.7,96.2 358.7,96.3 359.7,96.4 360.7,96.5 361.7,96.6 362.7,96.7 363.7,96.8 364.7,96.9 365.7,96.9 366.8,97.0 367.8,97.0 368.8,97.1 369.8,97.1 370.8,97.1 371.8,97.2 372.8,97.2 373.8,97.2 374.8,97.2"/>
<polyline fill="none" stroke="#8a30c8" stroke-width="1.30" stroke-linejoin="round" points="244.4,97.3 245.4,97.2 246.4,97.2 247.4,97.2 248.4,97.2 249.5,97.2 250.5,97.2 251.5,97.1 252.5,97.1 253.5,97.1 254.5,97.0 255.5,97.0 256.5,96.9 257.5,96.8 258.6,96.7 259.6,96.7 260.6,96.5 261.6,96.4 262.6,96.3 263.6,96.1 264.6,96.0 265.6,95.8 266.6,95.5 267.7,95.3 268.7,95.0 269.7,94.7 270.7,94.4 271.7,94.0 272.7,93.6 273.7,93.2 274.7,92.7 275.7,92.2 276.8,91.7 277.8,91.1 278.8,90.5 279.8,89.8 280.8,89.1 281.8,88.4 282.8,87.6 283.8,86.8 284.8,85.9 285.9,85.0 286.9,84.1 287.9,83.2 288.9,82.3 289.9,81.3 290.9,80.3 291.9,79.3 292.9,78.4 293.9,77.4 295.0,76.4 296.0,75.5 297.0,74.6 298.0,73.7 299.0,72.9 300.0,72.1 301.0,71.4 302.0,70.8 303.0,70.2 304.1,69.6 305.1,69.2 306.1,68.8 307.1,68.6 308.1,68.4 309.1,68.3 310.1,68.3 311.1,68.3 312.1,68.5 313.2,68.7 314.2,69.0 315.2,69.4 316.2,69.9 317.2,70.5 318.2,71.1 319.2,71.7 320.2,72.5 321.2,73.2 322.3,74.1 323.3,74.9 324.3,75.8 325.3,76.7 326.3,77.6 327.3,78.6 328.3,79.5 329.3,80.5 330.4,81.4 331.4,82.4 332.4,83.3 333.4,84.2 334.4,85.1 335.4,85.9 336.4,86.8 337.4,87.6 338.4,88.3 339.5,89.0 340.5,89.7 341.5,90.4 342.5,91.0 343.5,91.6 344.5,92.1 345.5,92.6 346.5,93.1 347.5,93.5 348.6,93.9 349.6,94.3 350.6,94.6 351.6,94.9 352.6,95.2 353.6,95.4 354.6,95.7 355.6,95.9 356.6,96.0 357.7,96.2 358.7,96.3 359.7,96.5 360.7,96.6 361.7,96.7 362.7,96.8 363.7,96.8 364.7,96.9 365.7,97.0 366.8,97.0 367.8,97.1 368.8,97.1 369.8,97.1 370.8,97.2 371.8,97.2 372.8,97.2 373.8,97.2 374.8,97.2"/>
<polyline fill="none" stroke="#9020c0" stroke-width="1.30" stroke-linejoin="round" points="244.4,97.2 245.4,97.2 246.4,97.2 247.4,97.2 248.4,97.2 249.5,97.2 250.5,97.1 251.5,97.1 252.5,97.1 253.5,97.0 254.5,97.0 255.5,96.9 256.5,96.8 257.5,96.7 258.6,96.6 259.6,96.5 260.6,96.4 261.6,96.3 262.6,96.1 263.6,95.9 264.6,95.7 265.6,95.5 266.6,95.2 267.7,94.9 268.7,94.6 269.7,94.3 270.7,93.9 271.7,93.5 272.7,93.0 273.7,92.5 274.7,92.0 275.7,91.4 276.8,90.8 277.8,90.1 278.8,89.4 279.8,88.6 280.8,87.8 281.8,87.0 282.8,86.1 283.8,85.2 284.8,84.2 285.9,83.2 286.9,82.2 287.9,81.1 288.9,80.1 289.9,79.0 290.9,77.9 291.9,76.8 292.9,75.7 293.9,74.7 295.0,73.6 296.0,72.6 297.0,71.6 298.0,70.7 299.0,69.8 300.0,69.0 301.0,68.2 302.0,67.5 303.0,66.9 304.1,66.4 305.1,65.9 306.1,65.6 307.1,65.3 308.1,65.1 309.1,65.1 310.1,65.1 311.1,65.2 312.1,65.4 313.2,65.8 314.2,66.2 315.2,66.6 316.2,67.2 317.2,67.8 318.2,68.6 319.2,69.3 320.2,70.2 321.2,71.0 322.3,72.0 323.3,72.9 324.3,73.9 325.3,75.0 326.3,76.0 327.3,77.1 328.3,78.1 329.3,79.2 330.4,80.2 331.4,81.3 332.4,82.3 333.4,83.3 334.4,84.2 335.4,85.2 336.4,86.1 337.4,86.9 338.4,87.7 339.5,88.5 340.5,89.3 341.5,90.0 342.5,90.6 343.5,91.3 344.5,91.8 345.5,92.4 346.5,92.9 347.5,93.3 348.6,93.7 349.6,94.1 350.6,94.5 351.6,94.8 352.6,95.1 353.6,95.4 354.6,95.6 355.6,95.8 356.6,96.0 357.7,96.2 358.7,96.3 359.7,96.4 360.7,96.6 361.7,96.7 362.7,96.8 363.7,96.8 364.7,96.9 365.7,97.0 366.8,97.0 367.8,97.1 368.8,97.1 369.8,97.1 370.8,97.2 371.8,97.2 372.8,97.2 373.8,97.2 374.8,97.2"/>
<polyline fill="none" stroke="#1f9a50" stroke-width="1.30" stroke-linejoin="round" points="244.4,97.2 245.4,97.2 246.4,97.2 247.4,97.2 248.4,97.2 249.5,97.2 250.5,97.1 251.5,97.1 252.5,97.0 253.5,97.0 254.5,96.9 255.5,96.9 256.5,96.8 257.5,96.7 258.6,96.6 259.6,96.4 260.6,96.3 261.6,96.1 262.6,95.9 263.6,95.6 264.6,95.4 265.6,95.1 266.6,94.7 267.7,94.3 268.7,93.9 269.7,93.4 270.7,92.9 271.7,92.3 272.7,91.6 273.7,90.9 274.7,90.1 275.7,89.3 276.8,88.3 277.8,87.3 278.8,86.3 279.8,85.1 280.8,83.9 281.8,82.7 282.8,81.3 283.8,79.9 284.8,78.4 285.9,76.9 286.9,75.4 287.9,73.8 288.9,72.1 289.9,70.5 290.9,68.8 291.9,67.2 292.9,65.5 293.9,63.9 295.0,62.3 296.0,60.8 297.0,59.3 298.0,57.9 299.0,56.7 300.0,55.5 301.0,54.4 302.0,53.4 303.0,52.6 304.1,51.9 305.1,51.4 306.1,51.0 307.1,50.8 308.1,50.8 309.1,50.9 310.1,51.1 311.1,51.5 312.1,52.0 313.2,52.7 314.2,53.5 315.2,54.5 316.2,55.5 317.2,56.7 318.2,58.0 319.2,59.3 320.2,60.7 321.2,62.2 322.3,63.7 323.3,65.3 324.3,66.9 325.3,68.5 326.3,70.1 327.3,71.7 328.3,73.3 329.3,74.9 330.4,76.4 331.4,77.9 332.4,79.3 333.4,80.7 334.4,82.1 335.4,83.3 336.4,84.5 337.4,85.7 338.4,86.7 339.5,87.8 340.5,88.7 341.5,89.6 342.5,90.4 343.5,91.1 344.5,91.8 345.5,92.4 346.5,93.0 347.5,93.5 348.6,94.0 349.6,94.4 350.6,94.7 351.6,95.1 352.6,95.4 353.6,95.6 354.6,95.9 355.6,96.1 356.6,96.2 357.7,96.4 358.7,96.5 359.7,96.7 360.7,96.8 361.7,96.8 362.7,96.9 363.7,97.0 364.7,97.0 365.7,97.1 366.8,97.1 367.8,97.1 368.8,97.2 369.8,97.2 370.8,97.2 371.8,97.2 372.8,97.2 373.8,97.3 374.8,97.3"/>
<polyline fill="none" stroke="#1a1aa8" stroke-width="1.30" stroke-linejoin="round" points="244.4,97.2 245.4,97.2 246.4,97.2 247.4,97.1 248.4,97.1 249.5,97.0 250.5,97.0 251.5,96.9 252.5,96.8 253.5,96.7 254.5,96.6 255.5,96.5 256.5,96.3 257.5,96.1 258.6,95.9 259.6,95.6 260.6,95.3 261.6,94.9 262.6,94.5 263.6,94.0 264.6,93.5 265.6,92.9 266.6,92.2 267.7,91.4 268.7,90.6 269.7,89.6 270.7,88.5 271.7,87.4 272.7,86.1 273.7,84.7 274.7,83.2 275.7,81.6 276.8,79.9 277.8,78.0 278.8,76.0 279.8,74.0 280.8,71.8 281.8,69.5 282.8,67.1 283.8,64.7 284.8,62.2 285.9,59.6 286.9,57.1 287.9,54.5 288.9,51.9 289.9,49.4 290.9,46.9 291.9,44.5 292.9,42.2 293.9,40.1 295.0,38.0 296.0,36.2 297.0,34.5 298.0,33.1 299.0,31.8 300.0,30.8 301.0,30.0 302.0,29.5 303.0,29.3 304.1,29.3 305.1,29.6 306.1,30.1 307.1,30.8 308.1,31.7 309.1,32.9 310.1,34.2 311.1,35.8 312.1,37.5 313.2,39.3 314.2,41.3 315.2,43.4 316.2,45.6 317.2,47.9 318.2,50.3 319.2,52.7 320.2,55.1 321.2,57.5 322.3,59.9 323.3,62.3 324.3,64.7 325.3,67.0 326.3,69.2 327.3,71.4 328.3,73.4 329.3,75.4 330.4,77.3 331.4,79.1 332.4,80.8 333.4,82.4 334.4,83.8 335.4,85.2 336.4,86.5 337.4,87.7 338.4,88.7 339.5,89.7 340.5,90.6 341.5,91.4 342.5,92.1 343.5,92.8 344.5,93.4 345.5,93.9 346.5,94.4 347.5,94.8 348.6,95.1 349.6,95.4 350.6,95.7 351.6,96.0 352.6,96.2 353.6,96.3 354.6,96.5 355.6,96.6 356.6,96.7 357.7,96.8 358.7,96.9 359.7,97.0 360.7,97.0 361.7,97.1 362.7,97.1 363.7,97.2 364.7,97.2 365.7,97.2 366.8,97.2 367.8,97.2 368.8,97.3 369.8,97.3 370.8,97.3 371.8,97.3 372.8,97.3 373.8,97.3 374.8,97.3"/>
<polyline fill="none" stroke="#1a2a9a" stroke-width="1.30" stroke-linejoin="round" points="244.4,97.2 245.4,97.2 246.4,97.2 247.4,97.2 248.4,97.2 249.5,97.2 250.5,97.1 251.5,97.1 252.5,97.0 253.5,97.0 254.5,96.9 255.5,96.9 256.5,96.8 257.5,96.7 258.6,96.6 259.6,96.4 260.6,96.3 261.6,96.1 262.6,95.9 263.6,95.7 264.6,95.5 265.6,95.2 266.6,94.9 267.7,94.6 268.7,94.2 269.7,93.8 270.7,93.3 271.7,92.8 272.7,92.2 273.7,91.6 274.7,90.9 275.7,90.2 276.8,89.4 277.8,88.6 278.8,87.7 279.8,86.8 280.8,85.7 281.8,84.7 282.8,83.6 283.8,82.4 284.8,81.2 285.9,79.9 286.9,78.6 287.9,77.3 288.9,76.0 289.9,74.6 290.9,73.3 291.9,71.9 292.9,70.5 293.9,69.2 295.0,67.9 296.0,66.6 297.0,65.4 298.0,64.2 299.0,63.1 300.0,62.1 301.0,61.2 302.0,60.4 303.0,59.6 304.1,59.0 305.1,58.5 306.1,58.2 307.1,57.9 308.1,57.8 309.1,57.8 310.1,57.9 311.1,58.2 312.1,58.5 313.2,59.0 314.2,59.6 315.2,60.3 316.2,61.1 317.2,62.0 318.2,63.0 319.2,64.0 320.2,65.1 321.2,66.3 322.3,67.5 323.3,68.8 324.3,70.1 325.3,71.4 326.3,72.7 327.3,74.1 328.3,75.4 329.3,76.7 330.4,78.0 331.4,79.3 332.4,80.5 333.4,81.7 334.4,82.9 335.4,84.0 336.4,85.0 337.4,86.1 338.4,87.0 339.5,87.9 340.5,88.8 341.5,89.6 342.5,90.3 343.5,91.0 344.5,91.7 345.5,92.3 346.5,92.8 347.5,93.3 348.6,93.8 349.6,94.2 350.6,94.5 351.6,94.9 352.6,95.2 353.6,95.5 354.6,95.7 355.6,95.9 356.6,96.1 357.7,96.3 358.7,96.4 359.7,96.5 360.7,96.6 361.7,96.7 362.7,96.8 363.7,96.9 364.7,97.0 365.7,97.0 366.8,97.1 367.8,97.1 368.8,97.1 369.8,97.2 370.8,97.2 371.8,97.2 372.8,97.2 373.8,97.2 374.8,97.2"/>
<polyline fill="none" stroke="#ff1a8c" stroke-width="1.30" stroke-linejoin="round" points="244.4,97.2 245.4,97.2 246.4,97.2 247.4,97.2 248.4,97.1 249.5,97.1 250.5,97.1 251.5,97.0 252.5,96.9 253.5,96.9 254.5,96.8 255.5,96.7 256.5,96.5 257.5,96.4 258.6,96.2 259.6,96.0 260.6,95.8 261.6,95.5 262.6,95.2 263.6,94.8 264.6,94.4 265.6,94.0 266.6,93.5 267.7,92.9 268.7,92.3 269.7,91.5 270.7,90.7 271.7,89.9 272.7,88.9 273.7,87.8 274.7,86.7 275.7,85.5 276.8,84.1 277.8,82.7 278.8,81.2 279.8,79.5 280.8,77.8 281.8,76.0 282.8,74.1 283.8,72.1 284.8,70.1 285.9,68.0 286.9,65.9 287.9,63.7 288.9,61.5 289.9,59.3 290.9,57.2 291.9,55.0 292.9,52.9 293.9,50.9 295.0,49.0 296.0,47.1 297.0,45.4 298.0,43.9 299.0,42.4 300.0,41.2 301.0,40.1 302.0,39.2 303.0,38.6 304.1,38.1 305.1,37.8 306.1,37.8 307.1,38.0 308.1,38.4 309.1,38.9 310.1,39.7 311.1,40.7 312.1,41.8 313.2,43.1 314.2,44.6 315.2,46.1 316.2,47.9 317.2,49.7 318.2,51.6 319.2,53.6 320.2,55.6 321.2,57.7 322.3,59.8 323.3,61.9 324.3,64.1 325.3,66.2 326.3,68.2 327.3,70.3 328.3,72.2 329.3,74.1 330.4,76.0 331.4,77.7 332.4,79.4 333.4,81.0 334.4,82.5 335.4,83.9 336.4,85.2 337.4,86.4 338.4,87.6 339.5,88.6 340.5,89.6 341.5,90.5 342.5,91.2 343.5,92.0 344.5,92.6 345.5,93.2 346.5,93.7 347.5,94.2 348.6,94.6 349.6,95.0 350.6,95.3 351.6,95.6 352.6,95.9 353.6,96.1 354.6,96.3 355.6,96.4 356.6,96.6 357.7,96.7 358.7,96.8 359.7,96.9 360.7,96.9 361.7,97.0 362.7,97.1 363.7,97.1 364.7,97.1 365.7,97.2 366.8,97.2 367.8,97.2 368.8,97.2 369.8,97.2 370.8,97.3 371.8,97.3 372.8,97.3 373.8,97.3 374.8,97.3"/>
<polyline fill="none" stroke="#000000" stroke-width="1.25" stroke-linejoin="round" points="51.1,184.3 52.0,186.3 52.8,188.4 53.7,190.4 54.6,192.4 55.5,194.3 56.3,196.3 57.2,198.2 58.1,200.0 58.9,201.8 59.8,203.3 60.7,204.7 61.6,205.8 62.4,206.7 63.3,207.3 64.2,207.7 65.0,207.9 65.9,207.9 66.8,207.6 67.7,207.1 68.5,206.4 69.4,205.6 70.3,204.7 71.1,203.6 72.0,202.4 72.9,201.2 73.8,200.0 74.6,198.7 75.5,197.4 76.4,196.0 77.2,194.6 78.1,193.1 79.0,191.6 79.9,190.0 80.7,188.4 81.6,186.8 82.5,185.1 83.3,183.3 84.2,181.6 85.1,179.8 86.0,177.9 86.8,176.1 87.7,174.3 88.6,172.4 89.4,170.6 90.3,168.8 91.2,167.1 92.1,165.5 92.9,163.9 93.8,162.4 94.7,161.1 95.5,159.9 96.4,158.8 97.3,157.8 98.2,157.1 99.0,156.4 99.9,156.0 100.8,155.7 101.6,155.5 102.5,155.4 103.4,155.4 104.3,155.5 105.1,155.8 106.0,156.1 106.9,156.5 107.7,157.1 108.6,157.9 109.5,158.7 110.4,159.8 111.2,161.0 112.1,162.4 113.0,164.0 113.8,165.8 114.7,167.9 115.6,170.1 116.5,172.5 117.3,175.2 118.2,178.0 119.1,181.0 119.9,184.0 120.8,186.9 121.7,189.6 122.5,192.1 123.4,194.4 124.3,196.6 125.2,198.5 126.0,200.3 126.9,201.9 127.8,203.5 128.6,204.9 129.5,206.3 130.4,207.6 131.3,208.9 132.1,210.2 133.0,211.4 133.9,212.7 134.7,213.9 135.6,215.1 136.5,216.2 137.4,217.3 138.2,218.4 139.1,219.3 140.0,220.2 140.8,220.9 141.7,221.6 142.6,222.3 143.5,222.8 144.3,223.3 145.2,223.7 146.1,224.0 146.9,224.3 147.8,224.5 148.7,224.7 149.6,224.9 150.4,225.0 151.3,225.1 152.2,225.2 153.0,225.3 153.9,225.4 154.8,225.4 155.7,225.4 156.5,225.5 157.4,225.5 158.3,225.5 159.1,225.5 160.0,225.5 160.9,225.5 161.8,225.5 162.6,225.5 163.5,225.5 164.4,225.5 165.2,225.5 166.1,225.5 167.0,225.5 167.9,225.5 168.7,225.5 169.6,225.5 170.5,225.5 171.3,225.5 172.2,225.5 173.1,225.5 174.0,225.5 174.8,225.5 175.7,225.5 176.6,225.5 177.4,225.5 178.3,225.5 179.2,225.5 180.1,225.5 180.9,225.5 181.8,225.5"/>
<polyline fill="none" stroke="#ff1a1a" stroke-width="1.25" stroke-linejoin="round" points="51.1,184.3 52.0,186.4 52.8,188.4 53.7,190.4 54.6,192.4 55.5,194.3 56.3,196.3 57.2,198.2 58.1,200.0 58.9,201.7 59.8,203.3 60.7,204.8 61.6,206.2 62.4,207.4 63.3,208.4 64.2,209.2 65.0,209.7 65.9,210.1 66.8,210.2 67.7,210.1 68.5,209.7 69.4,209.1 70.3,208.3 71.1,207.3 72.0,206.3 72.9,205.2 73.8,204.1 74.6,202.9 75.5,201.7 76.4,200.4 77.2,199.1 78.1,197.8 79.0,196.4 79.9,194.9 80.7,193.4 81.6,191.9 82.5,190.2 83.3,188.6 84.2,186.9 85.1,185.2 86.0,183.5 86.8,181.7 87.7,180.0 88.6,178.2 89.4,176.5 90.3,174.7 91.2,173.0 92.1,171.4 92.9,169.8 93.8,168.3 94.7,166.8 95.5,165.4 96.4,164.2 97.3,163.0 98.2,162.0 99.0,161.0 99.9,160.2 100.8,159.4 101.6,158.7 102.5,158.2 103.4,157.6 104.3,157.2 105.1,156.8 106.0,156.5 106.9,156.4 107.7,156.6 108.6,157.0 109.5,157.6 110.4,158.5 111.2,159.5 112.1,160.7 113.0,162.0 113.8,163.4 114.7,165.0 115.6,166.8 116.5,168.8 117.3,170.9 118.2,173.2 119.1,175.6 119.9,178.1 120.8,180.6 121.7,183.0 122.5,185.4 123.4,187.6 124.3,189.7 125.2,191.8 126.0,193.7 126.9,195.5 127.8,197.3 128.6,199.0 129.5,200.6 130.4,202.1 131.3,203.7 132.1,205.1 133.0,206.6 133.9,208.1 134.7,209.5 135.6,210.8 136.5,212.2 137.4,213.4 138.2,214.6 139.1,215.7 140.0,216.8 140.8,217.7 141.7,218.6 142.6,219.3 143.5,220.0 144.3,220.6 145.2,221.2 146.1,221.6 146.9,222.1 147.8,222.4 148.7,222.7 149.6,223.0 150.4,223.2 151.3,223.4 152.2,223.6 153.0,223.8 153.9,223.9 154.8,224.1 155.7,224.2 156.5,224.3 157.4,224.5 158.3,224.6 159.1,224.7 160.0,224.8 160.9,224.8 161.8,224.9 162.6,225.0 163.5,225.1 164.4,225.1 165.2,225.2 166.1,225.3 167.0,225.3 167.9,225.4 168.7,225.4 169.6,225.5 170.5,225.5 171.3,225.5 172.2,225.5 173.1,225.5 174.0,225.5 174.8,225.5 175.7,225.5 176.6,225.5 177.4,225.5 178.3,225.5 179.2,225.5 180.1,225.5 180.9,225.5 181.8,225.5"/>
<polyline fill="none" stroke="#ff1a8c" stroke-width="1.25" stroke-linejoin="round" points="51.1,184.3 52.0,186.4 52.8,188.4 53.7,190.4 54.6,192.4 55.5,194.4 56.3,196.3 57.2,198.1 58.1,200.0 58.9,201.7 59.8,203.3 60.7,204.9 61.6,206.3 62.4,207.5 63.3,208.6 64.2,209.5 65.0,210.2 65.9,210.7 66.8,210.9 67.7,210.8 68.5,210.5 69.4,209.9 70.3,209.2 71.1,208.3 72.0,207.3 72.9,206.2 73.8,205.1 74.6,203.9 75.5,202.8 76.4,201.5 77.2,200.3 78.1,198.9 79.0,197.6 79.9,196.1 80.7,194.7 81.6,193.1 82.5,191.5 83.3,189.9 84.2,188.3 85.1,186.6 86.0,184.9 86.8,183.1 87.7,181.4 88.6,179.7 89.4,177.9 90.3,176.2 91.2,174.5 92.1,172.9 92.9,171.2 93.8,169.7 94.7,168.2 95.5,166.8 96.4,165.5 97.3,164.3 98.2,163.2 99.0,162.2 99.9,161.2 100.8,160.3 101.6,159.6 102.5,158.8 103.4,158.2 104.3,157.6 105.1,157.1 106.0,156.6 106.9,156.4 107.7,156.3 108.6,156.4 109.5,156.7 110.4,157.2 111.2,157.9 112.1,158.6 113.0,159.5 113.8,160.5 114.7,161.6 115.6,162.9 116.5,164.2 117.3,165.7 118.2,167.3 119.1,169.1 119.9,171.0 120.8,173.0 121.7,175.1 122.5,177.2 123.4,179.4 124.3,181.5 125.2,183.7 126.0,185.8 126.9,187.9 127.8,189.9 128.6,191.8 129.5,193.7 130.4,195.6 131.3,197.4 132.1,199.1 133.0,200.8 133.9,202.5 134.7,204.2 135.6,205.8 136.5,207.3 137.4,208.8 138.2,210.2 139.1,211.5 140.0,212.7 140.8,213.8 141.7,214.9 142.6,215.8 143.5,216.7 144.3,217.5 145.2,218.2 146.1,218.8 146.9,219.4 147.8,219.9 148.7,220.3 149.6,220.7 150.4,221.1 151.3,221.4 152.2,221.7 153.0,222.0 153.9,222.2 154.8,222.5 155.7,222.8 156.5,223.0 157.4,223.2 158.3,223.4 159.1,223.7 160.0,223.9 160.9,224.1 161.8,224.2 162.6,224.4 163.5,224.6 164.4,224.7 165.2,224.9 166.1,225.0 167.0,225.1 167.9,225.2 168.7,225.3 169.6,225.4 170.5,225.5 171.3,225.5 172.2,225.5 173.1,225.5 174.0,225.5 174.8,225.5 175.7,225.5 176.6,225.5 177.4,225.5 178.3,225.5 179.2,225.5 180.1,225.5 180.9,225.5 181.8,225.5"/>
<polyline fill="none" stroke="#1a1aa8" stroke-width="1.25" stroke-linejoin="round" points="51.1,184.3 52.0,186.4 52.8,188.4 53.7,190.4 54.6,192.4 55.5,194.4 56.3,196.3 57.2,198.1 58.1,199.9 58.9,201.7 59.8,203.3 60.7,204.9 61.6,206.3 62.4,207.6 63.3,208.8 64.2,209.7 65.0,210.5 65.9,211.0 66.8,211.3 67.7,211.3 68.5,211.0 69.4,210.5 70.3,209.8 71.1,208.9 72.0,207.9 72.9,206.9 73.8,205.8 74.6,204.6 75.5,203.5 76.4,202.3 77.2,201.0 78.1,199.7 79.0,198.4 79.9,197.0 80.7,195.5 81.6,194.0 82.5,192.4 83.3,190.8 84.2,189.2 85.1,187.5 86.0,185.8 86.8,184.1 87.7,182.3 88.6,180.6 89.4,178.9 90.3,177.2 91.2,175.5 92.1,173.8 92.9,172.2 93.8,170.7 94.7,169.2 95.5,167.8 96.4,166.4 97.3,165.2 98.2,164.0 99.0,162.9 99.9,161.9 100.8,161.0 101.6,160.1 102.5,159.3 103.4,158.6 104.3,157.9 105.1,157.2 106.0,156.7 106.9,156.4 107.7,156.3 108.6,156.4 109.5,156.8 110.4,157.4 111.2,158.1 112.1,159.0 113.0,159.9 113.8,161.0 114.7,162.2 115.6,163.5 116.5,165.0 117.3,166.6 118.2,168.3 119.1,170.2 119.9,172.2 120.8,174.3 121.7,176.4 122.5,178.6 123.4,180.7 124.3,182.9 125.2,185.0 126.0,187.1 126.9,189.1 127.8,191.1 128.6,193.0 129.5,194.9 130.4,196.7 131.3,198.4 132.1,200.1 133.0,201.8 133.9,203.4 134.7,205.1 135.6,206.6 136.5,208.1 137.4,209.5 138.2,210.9 139.1,212.2 140.0,213.4 140.8,214.5 141.7,215.5 142.6,216.4 143.5,217.3 144.3,218.0 145.2,218.7 146.1,219.3 146.9,219.8 147.8,220.3 148.7,220.7 149.6,221.1 150.4,221.4 151.3,221.7 152.2,222.0 153.0,222.3 153.9,222.5 154.8,222.8 155.7,223.0 156.5,223.2 157.4,223.4 158.3,223.6 159.1,223.8 160.0,224.0 160.9,224.2 161.8,224.3 162.6,224.5 163.5,224.7 164.4,224.8 165.2,224.9 166.1,225.0 167.0,225.1 167.9,225.2 168.7,225.3 169.6,225.4 170.5,225.5 171.3,225.5 172.2,225.5 173.1,225.5 174.0,225.5 174.8,225.5 175.7,225.5 176.6,225.5 177.4,225.5 178.3,225.5 179.2,225.5 180.1,225.5 180.9,225.5 181.8,225.5"/>
<polyline fill="none" stroke="#1f9a50" stroke-width="1.25" stroke-linejoin="round" points="51.1,184.3 52.0,186.4 52.8,188.4 53.7,190.4 54.6,192.4 55.5,194.4 56.3,196.3 57.2,198.1 58.1,199.9 58.9,201.7 59.8,203.3 60.7,204.9 61.6,206.4 62.4,207.7 63.3,208.9 64.2,210.0 65.0,210.8 65.9,211.4 66.8,211.7 67.7,211.8 68.5,211.6 69.4,211.1 70.3,210.4 71.1,209.5 72.0,208.6 72.9,207.5 73.8,206.5 74.6,205.3 75.5,204.2 76.4,203.0 77.2,201.8 78.1,200.5 79.0,199.2 79.9,197.8 80.7,196.3 81.6,194.8 82.5,193.3 83.3,191.7 84.2,190.1 85.1,188.4 86.0,186.7 86.8,185.0 87.7,183.3 88.6,181.6 89.4,179.9 90.3,178.2 91.2,176.5 92.1,174.8 92.9,173.2 93.8,171.6 94.7,170.1 95.5,168.7 96.4,167.3 97.3,166.0 98.2,164.8 99.0,163.7 99.9,162.6 100.8,161.6 101.6,160.7 102.5,159.8 103.4,158.9 104.3,158.1 105.1,157.4 106.0,156.8 106.9,156.3 107.7,156.1 108.6,156.0 109.5,156.2 110.4,156.5 111.2,157.0 112.1,157.6 113.0,158.3 113.8,159.1 114.7,159.9 115.6,160.9 116.5,162.0 117.3,163.1 118.2,164.4 119.1,165.9 119.9,167.5 120.8,169.2 121.7,171.1 122.5,173.1 123.4,175.2 124.3,177.4 125.2,179.6 126.0,181.8 126.9,184.0 127.8,186.2 128.6,188.2 129.5,190.3 130.4,192.3 131.3,194.2 132.1,196.1 133.0,198.0 133.9,199.8 134.7,201.5 135.6,203.2 136.5,204.9 137.4,206.4 138.2,207.9 139.1,209.3 140.0,210.6 140.8,211.9 141.7,213.0 142.6,214.1 143.5,215.0 144.3,215.9 145.2,216.7 146.1,217.4 146.9,218.0 147.8,218.6 148.7,219.1 149.6,219.6 150.4,220.0 151.3,220.4 152.2,220.7 153.0,221.1 153.9,221.4 154.8,221.7 155.7,222.0 156.5,222.3 157.4,222.6 158.3,222.9 159.1,223.2 160.0,223.4 160.9,223.7 161.8,223.9 162.6,224.1 163.5,224.3 164.4,224.5 165.2,224.7 166.1,224.9 167.0,225.0 167.9,225.1 168.7,225.3 169.6,225.4 170.5,225.5 171.3,225.5 172.2,225.5 173.1,225.5 174.0,225.5 174.8,225.5 175.7,225.5 176.6,225.5 177.4,225.5 178.3,225.5 179.2,225.5 180.1,225.5 180.9,225.5 181.8,225.5"/>
<polyline fill="none" stroke="#9a9a60" stroke-width="1.25" stroke-linejoin="round" points="51.1,184.3 52.0,186.4 52.8,188.4 53.7,190.4 54.6,192.4 55.5,194.4 56.3,196.3 57.2,198.1 58.1,199.9 58.9,201.7 59.8,203.3 60.7,204.9 61.6,206.4 62.4,207.7 63.3,208.9 64.2,209.9 65.0,210.7 65.9,211.2 66.8,211.5 67.7,211.5 68.5,211.3 69.4,210.8 70.3,210.1 71.1,209.2 72.0,208.2 72.9,207.2 73.8,206.1 74.6,205.0 75.5,203.8 76.4,202.6 77.2,201.4 78.1,200.1 79.0,198.8 79.9,197.4 80.7,195.9 81.6,194.4 82.5,192.8 83.3,191.2 84.2,189.6 85.1,187.9 86.0,186.3 86.8,184.5 87.7,182.8 88.6,181.1 89.4,179.4 90.3,177.7 91.2,176.0 92.1,174.3 92.9,172.7 93.8,171.2 94.7,169.7 95.5,168.2 96.4,166.9 97.3,165.6 98.2,164.4 99.0,163.3 99.9,162.3 100.8,161.3 101.6,160.4 102.5,159.5 103.4,158.7 104.3,158.0 105.1,157.3 106.0,156.8 106.9,156.3 107.7,156.1 108.6,156.0 109.5,156.1 110.4,156.3 111.2,156.7 112.1,157.3 113.0,157.9 113.8,158.6 114.7,159.4 115.6,160.3 116.5,161.2 117.3,162.3 118.2,163.5 119.1,164.8 119.9,166.3 120.8,168.0 121.7,169.8 122.5,171.8 123.4,173.9 124.3,176.1 125.2,178.3 126.0,180.5 126.9,182.7 127.8,184.9 128.6,187.1 129.5,189.1 130.4,191.2 131.3,193.2 132.1,195.1 133.0,197.0 133.9,198.8 134.7,200.6 135.6,202.4 136.5,204.0 137.4,205.6 138.2,207.2 139.1,208.6 140.0,210.0 140.8,211.2 141.7,212.4 142.6,213.5 143.5,214.5 144.3,215.4 145.2,216.2 146.1,216.9 146.9,217.6 147.8,218.2 148.7,218.7 149.6,219.2 150.4,219.6 151.3,220.0 152.2,220.4 153.0,220.8 153.9,221.1 154.8,221.5 155.7,221.8 156.5,222.1 157.4,222.4 158.3,222.7 159.1,223.0 160.0,223.3 160.9,223.5 161.8,223.8 162.6,224.0 163.5,224.2 164.4,224.4 165.2,224.6 166.1,224.8 167.0,225.0 167.9,225.1 168.7,225.3 169.6,225.4 170.5,225.5 171.3,225.5 172.2,225.5 173.1,225.5 174.0,225.5 174.8,225.5 175.7,225.5 176.6,225.5 177.4,225.5 178.3,225.5 179.2,225.5 180.1,225.5 180.9,225.5 181.8,225.5"/>
<polyline fill="none" stroke="#a02050" stroke-width="1.25" stroke-linejoin="round" points="51.1,184.3 52.0,186.4 52.8,188.4 53.7,190.4 54.6,192.4 55.5,194.4 56.3,196.3 57.2,198.1 58.1,199.9 58.9,201.7 59.8,203.3 60.7,204.9 61.6,206.4 62.4,207.7 63.3,208.9 64.2,209.9 65.0,210.7 65.9,211.2 66.8,211.5 67.7,211.5 68.5,211.3 69.4,210.8 70.3,210.1 71.1,209.2 72.0,208.2 72.9,207.2 73.8,206.1 74.6,205.0 75.5,203.8 76.4,202.6 77.2,201.4 78.1,200.1 79.0,198.8 79.9,197.4 80.7,195.9 81.6,194.4 82.5,192.8 83.3,191.2 84.2,189.6 85.1,187.9 86.0,186.3 86.8,184.5 87.7,182.8 88.6,181.1 89.4,179.4 90.3,177.7 91.2,176.0 92.1,174.3 92.9,172.7 93.8,171.2 94.7,169.7 95.5,168.2 96.4,166.9 97.3,165.6 98.2,164.4 99.0,163.3 99.9,162.3 100.8,161.3 101.6,160.4 102.5,159.5 103.4,158.7 104.3,158.0 105.1,157.3 106.0,156.8 106.9,156.3 107.7,156.0 108.6,155.9 109.5,155.9 110.4,156.1 111.2,156.5 112.1,156.9 113.0,157.5 113.8,158.1 114.7,158.8 115.6,159.6 116.5,160.5 117.3,161.4 118.2,162.5 119.1,163.7 119.9,165.1 120.8,166.7 121.7,168.5 122.5,170.4 123.4,172.5 124.3,174.7 125.2,176.9 126.0,179.2 126.9,181.5 127.8,183.7 128.6,185.9 129.5,188.0 130.4,190.1 131.3,192.1 132.1,194.1 133.0,196.0 133.9,197.9 134.7,199.8 135.6,201.5 136.5,203.2 137.4,204.9 138.2,206.4 139.1,207.9 140.0,209.3 140.8,210.6 141.7,211.8 142.6,212.9 143.5,213.9 144.3,214.9 145.2,215.7 146.1,216.5 146.9,217.1 147.8,217.7 148.7,218.3 149.6,218.8 150.4,219.3 151.3,219.7 152.2,220.1 153.0,220.5 153.9,220.8 154.8,221.2 155.7,221.5 156.5,221.9 157.4,222.2 158.3,222.5 159.1,222.8 160.0,223.1 160.9,223.4 161.8,223.7 162.6,223.9 163.5,224.1 164.4,224.4 165.2,224.6 166.1,224.8 167.0,224.9 167.9,225.1 168.7,225.2 169.6,225.4 170.5,225.5 171.3,225.5 172.2,225.5 173.1,225.5 174.0,225.5 174.8,225.5 175.7,225.5 176.6,225.5 177.4,225.5 178.3,225.5 179.2,225.5 180.1,225.5 180.9,225.5 181.8,225.5"/>
<polyline fill="none" stroke="#1a2a9a" stroke-width="1.25" stroke-linejoin="round" points="51.1,184.3 52.0,186.4 52.8,188.4 53.7,190.4 54.6,192.4 55.5,194.4 56.3,196.3 57.2,198.1 58.1,199.9 58.9,201.7 59.8,203.3 60.7,204.9 61.6,206.4 62.4,207.8 63.3,209.0 64.2,210.1 65.0,211.0 65.9,211.6 66.8,212.0 67.7,212.0 68.5,211.8 69.4,211.4 70.3,210.7 71.1,209.8 72.0,208.9 72.9,207.9 73.8,206.8 74.6,205.7 75.5,204.6 76.4,203.4 77.2,202.2 78.1,200.9 79.0,199.6 79.9,198.2 80.7,196.7 81.6,195.2 82.5,193.7 83.3,192.1 84.2,190.5 85.1,188.8 86.0,187.2 86.8,185.5 87.7,183.8 88.6,182.1 89.4,180.4 90.3,178.7 91.2,177.0 92.1,175.3 92.9,173.7 93.8,172.1 94.7,170.6 95.5,169.2 96.4,167.8 97.3,166.5 98.2,165.2 99.0,164.1 99.9,163.0 100.8,161.9 101.6,160.9 102.5,160.0 103.4,159.1 104.3,158.3 105.1,157.5 106.0,156.8 106.9,156.3 107.7,155.9 108.6,155.7 109.5,155.7 110.4,155.9 111.2,156.2 112.1,156.6 113.0,157.1 113.8,157.6 114.7,158.3 115.6,158.9 116.5,159.7 117.3,160.6 118.2,161.5 119.1,162.7 119.9,164.0 120.8,165.5 121.7,167.2 122.5,169.1 123.4,171.1 124.3,173.3 125.2,175.6 126.0,177.9 126.9,180.2 127.8,182.5 128.6,184.7 129.5,186.8 130.4,189.0 131.3,191.1 132.1,193.1 133.0,195.1 133.9,197.0 134.7,198.9 135.6,200.7 136.5,202.4 137.4,204.1 138.2,205.7 139.1,207.2 140.0,208.6 140.8,209.9 141.7,211.2 142.6,212.3 143.5,213.4 144.3,214.3 145.2,215.2 146.1,216.0 146.9,216.7 147.8,217.3 148.7,217.9 149.6,218.4 150.4,218.9 151.3,219.3 152.2,219.8 153.0,220.2 153.9,220.5 154.8,220.9 155.7,221.3 156.5,221.7 157.4,222.0 158.3,222.3 159.1,222.7 160.0,223.0 160.9,223.3 161.8,223.5 162.6,223.8 163.5,224.1 164.4,224.3 165.2,224.5 166.1,224.7 167.0,224.9 167.9,225.1 168.7,225.2 169.6,225.3 170.5,225.5 171.3,225.5 172.2,225.5 173.1,225.5 174.0,225.5 174.8,225.5 175.7,225.5 176.6,225.5 177.4,225.5 178.3,225.5 179.2,225.5 180.1,225.5 180.9,225.5 181.8,225.5"/>
<polyline fill="none" stroke="#9020c0" stroke-width="1.25" stroke-linejoin="round" points="51.1,184.3 52.0,186.4 52.8,188.4 53.7,190.4 54.6,192.4 55.5,194.4 56.3,196.3 57.2,198.1 58.1,199.9 58.9,201.7 59.8,203.3 60.7,204.9 61.6,206.4 62.4,207.7 63.3,208.9 64.2,210.0 65.0,210.8 65.9,211.4 66.8,211.7 67.7,211.8 68.5,211.6 69.4,211.1 70.3,210.4 71.1,209.5 72.0,208.6 72.9,207.5 73.8,206.5 74.6,205.3 75.5,204.2 76.4,203.0 77.2,201.8 78.1,200.5 79.0,199.2 79.9,197.8 80.7,196.3 81.6,194.8 82.5,193.3 83.3,191.7 84.2,190.1 85.1,188.4 86.0,186.7 86.8,185.0 87.7,183.3 88.6,181.6 89.4,179.9 90.3,178.2 91.2,176.5 92.1,174.8 92.9,173.2 93.8,171.6 94.7,170.1 95.5,168.7 96.4,167.3 97.3,166.0 98.2,164.8 99.0,163.7 99.9,162.6 100.8,161.6 101.6,160.7 102.5,159.8 103.4,158.9 104.3,158.2 105.1,157.4 106.0,156.8 106.9,156.3 107.7,155.9 108.6,155.7 109.5,155.6 110.4,155.6 111.2,155.8 112.1,156.1 113.0,156.5 113.8,156.9 114.7,157.5 115.6,158.0 116.5,158.6 117.3,159.3 118.2,160.2 119.1,161.2 119.9,162.3 120.8,163.7 121.7,165.3 122.5,167.2 123.4,169.2 124.3,171.4 125.2,173.7 126.0,176.0 126.9,178.4 127.8,180.7 128.6,183.0 129.5,185.2 130.4,187.4 131.3,189.6 132.1,191.7 133.0,193.7 133.9,195.7 134.7,197.6 135.6,199.5 136.5,201.3 137.4,203.0 138.2,204.6 139.1,206.2 140.0,207.7 140.8,209.0 141.7,210.3 142.6,211.5 143.5,212.6 144.3,213.6 145.2,214.5 146.1,215.3 146.9,216.1 147.8,216.7 148.7,217.3 149.6,217.9 150.4,218.4 151.3,218.9 152.2,219.3 153.0,219.7 153.9,220.2 154.8,220.6 155.7,221.0 156.5,221.3 157.4,221.7 158.3,222.1 159.1,222.4 160.0,222.8 160.9,223.1 161.8,223.4 162.6,223.7 163.5,223.9 164.4,224.2 165.2,224.4 166.1,224.7 167.0,224.9 167.9,225.0 168.7,225.2 169.6,225.3 170.5,225.4 171.3,225.5 172.2,225.5 173.1,225.5 174.0,225.5 174.8,225.5 175.7,225.5 176.6,225.5 177.4,225.5 178.3,225.5 179.2,225.5 180.1,225.5 180.9,225.5 181.8,225.5"/>
<polyline fill="none" stroke="#8a30c8" stroke-width="1.25" stroke-linejoin="round" points="51.1,184.3 52.0,186.4 52.8,188.4 53.7,190.4 54.6,192.4 55.5,194.4 56.3,196.3 57.2,198.1 58.1,199.9 58.9,201.7 59.8,203.3 60.7,204.9 61.6,206.4 62.4,207.8 63.3,209.0 64.2,210.1 65.0,211.0 65.9,211.6 66.8,212.0 67.7,212.0 68.5,211.8 69.4,211.4 70.3,210.7 71.1,209.8 72.0,208.9 72.9,207.9 73.8,206.8 74.6,205.7 75.5,204.6 76.4,203.4 77.2,202.2 78.1,200.9 79.0,199.6 79.9,198.2 80.7,196.7 81.6,195.2 82.5,193.7 83.3,192.1 84.2,190.5 85.1,188.8 86.0,187.2 86.8,185.5 87.7,183.8 88.6,182.1 89.4,180.4 90.3,178.7 91.2,177.0 92.1,175.3 92.9,173.7 93.8,172.1 94.7,170.6 95.5,169.2 96.4,167.8 97.3,166.5 98.2,165.2 99.0,164.1 99.9,163.0 100.8,161.9 101.6,160.9 102.5,160.0 103.4,159.1 104.3,158.3 105.1,157.5 106.0,156.9 106.9,156.3 107.7,155.9 108.6,155.6 109.5,155.5 110.4,155.5 111.2,155.6 112.1,155.9 113.0,156.2 113.8,156.6 114.7,157.1 115.6,157.6 116.5,158.2 117.3,158.8 118.2,159.6 119.1,160.5 119.9,161.6 120.8,162.9 121.7,164.5 122.5,166.4 123.4,168.4 124.3,170.6 125.2,172.9 126.0,175.3 126.9,177.6 127.8,180.0 128.6,182.3 129.5,184.6 130.4,186.8 131.3,189.0 132.1,191.1 133.0,193.1 133.9,195.2 134.7,197.1 135.6,199.0 136.5,200.8 137.4,202.5 138.2,204.2 139.1,205.8 140.0,207.2 140.8,208.6 141.7,210.0 142.6,211.2 143.5,212.3 144.3,213.3 145.2,214.2 146.1,215.0 146.9,215.8 147.8,216.5 148.7,217.1 149.6,217.7 150.4,218.2 151.3,218.7 152.2,219.1 153.0,219.6 153.9,220.0 154.8,220.4 155.7,220.8 156.5,221.2 157.4,221.6 158.3,222.0 159.1,222.3 160.0,222.7 160.9,223.0 161.8,223.3 162.6,223.6 163.5,223.9 164.4,224.2 165.2,224.4 166.1,224.6 167.0,224.8 167.9,225.0 168.7,225.2 169.6,225.3 170.5,225.4 171.3,225.5 172.2,225.5 173.1,225.5 174.0,225.5 174.8,225.5 175.7,225.5 176.6,225.5 177.4,225.5 178.3,225.5 179.2,225.5 180.1,225.5 180.9,225.5 181.8,225.5"/>
<polyline fill="none" stroke="#3a7a98" stroke-width="1.25" stroke-linejoin="round" points="51.1,184.3 52.0,186.4 52.8,188.4 53.7,190.4 54.6,192.4 55.5,194.4 56.3,196.3 57.2,198.1 58.1,199.9 58.9,201.7 59.8,203.3 60.7,204.9 61.6,206.4 62.4,207.8 63.3,209.0 64.2,210.1 65.0,211.0 65.9,211.6 66.8,212.0 67.7,212.0 68.5,211.8 69.4,211.4 70.3,210.7 71.1,209.8 72.0,208.9 72.9,207.9 73.8,206.8 74.6,205.7 75.5,204.6 76.4,203.4 77.2,202.2 78.1,200.9 79.0,199.6 79.9,198.2 80.7,196.7 81.6,195.2 82.5,193.7 83.3,192.1 84.2,190.5 85.1,188.8 86.0,187.2 86.8,185.5 87.7,183.8 88.6,182.1 89.4,180.4 90.3,178.7 91.2,177.0 92.1,175.3 92.9,173.7 93.8,172.1 94.7,170.6 95.5,169.2 96.4,167.8 97.3,166.5 98.2,165.2 99.0,164.1 99.9,163.0 100.8,161.9 101.6,160.9 102.5,160.0 103.4,159.1 104.3,158.3 105.1,157.5 106.0,156.9 106.9,156.3 107.7,155.8 108.6,155.5 109.5,155.3 110.4,155.3 111.2,155.4 112.1,155.6 113.0,155.8 113.8,156.2 114.7,156.6 115.6,157.0 116.5,157.4 117.3,158.0 118.2,158.6 119.1,159.4 119.9,160.4 120.8,161.7 121.7,163.2 122.5,165.0 123.4,167.0 124.3,169.2 125.2,171.5 126.0,173.9 126.9,176.4 127.8,178.7 128.6,181.1 129.5,183.4 130.4,185.7 131.3,187.9 132.1,190.1 133.0,192.2 133.9,194.2 134.7,196.2 135.6,198.1 136.5,200.0 137.4,201.7 138.2,203.4 139.1,205.0 140.0,206.6 140.8,208.0 141.7,209.3 142.6,210.6 143.5,211.7 144.3,212.8 145.2,213.7 146.1,214.6 146.9,215.4 147.8,216.1 148.7,216.7 149.6,217.3 150.4,217.8 151.3,218.3 152.2,218.8 153.0,219.3 153.9,219.7 154.8,220.1 155.7,220.6 156.5,221.0 157.4,221.4 158.3,221.8 159.1,222.2 160.0,222.5 160.9,222.9 161.8,223.2 162.6,223.5 163.5,223.8 164.4,224.1 165.2,224.3 166.1,224.6 167.0,224.8 167.9,225.0 168.7,225.2 169.6,225.3 170.5,225.4 171.3,225.5 172.2,225.5 173.1,225.5 174.0,225.5 174.8,225.5 175.7,225.5 176.6,225.5 177.4,225.5 178.3,225.5 179.2,225.5 180.1,225.5 180.9,225.5 181.8,225.5"/>
<polyline fill="none" stroke="#000000" stroke-width="1.30" stroke-linejoin="round" points="244.4,225.3 245.2,225.3 245.9,225.3 246.7,225.3 247.4,225.3 248.2,225.3 248.9,225.3 249.7,225.3 250.4,225.3 251.2,225.3 251.9,225.3 252.7,225.3 253.4,225.3 254.2,225.3 254.9,225.3 255.7,225.3 256.4,225.2 257.2,225.2 257.9,225.2 258.7,225.2 259.4,225.1 260.2,225.1 260.9,225.0 261.7,225.0 262.4,224.9 263.2,224.8 263.9,224.6 264.7,224.5 265.4,224.2 266.2,224.0 266.9,223.7 267.7,223.3 268.4,222.9 269.2,222.4 269.9,221.8 270.7,221.1 271.4,220.4 272.2,219.4 272.9,218.4 273.7,217.2 274.4,215.9 275.2,214.4 275.9,212.7 276.7,210.8 277.4,208.8 278.2,206.6 278.9,204.1 279.7,201.5 280.4,198.7 281.2,195.8 281.9,192.6 282.7,189.4 283.4,186.0 284.2,182.5 284.9,179.0 285.7,175.4 286.4,171.9 287.2,168.4 287.9,165.0 288.7,161.7 289.5,158.6 290.2,155.7 291.0,153.1 291.7,150.8 292.5,148.8 293.2,147.1 294.0,145.9 294.7,145.0 295.5,144.6 296.2,144.6 297.0,144.9 297.7,145.5 298.5,146.5 299.2,147.7 300.0,149.2 300.7,150.9 301.5,152.9 302.2,155.2 303.0,157.6 303.7,160.2 304.5,162.9 305.2,165.8 306.0,168.7 306.7,171.7 307.5,174.8 308.2,177.8 309.0,180.9 309.7,183.9 310.5,186.9 311.2,189.8 312.0,192.6 312.7,195.3 313.5,197.8 314.2,200.3 315.0,202.6 315.7,204.8 316.5,206.9 317.2,208.8 318.0,210.5 318.7,212.2 319.5,213.7 320.2,215.0 321.0,216.3 321.7,217.4 322.5,218.4 323.2,219.3 324.0,220.1 324.7,220.8 325.5,221.5 326.2,222.0 327.0,222.5 327.7,222.9 328.5,223.3 329.2,223.6 330.0,223.9 330.7,224.1 331.5,224.3 332.3,224.5 333.0,224.6 333.8,224.7 334.5,224.8 335.3,224.9 336.0,225.0 336.8,225.1 337.5,225.1 338.3,225.1 339.0,225.2 339.8,225.2 340.5,225.2 341.3,225.2 342.0,225.3 342.8,225.3 343.5,225.3 344.3,225.3 345.0,225.3 345.8,225.3 346.5,225.3 347.3,225.3 348.0,225.3 348.8,225.3 349.5,225.3 350.3,225.3 351.0,225.3 351.8,225.3 352.5,225.3 353.3,225.3 354.0,225.3 354.8,225.3 355.5,225.3 356.3,225.3 357.0,225.3 357.8,225.3 358.5,225.3 359.3,225.3 360.0,225.3 360.8,225.3 361.5,225.3 362.3,225.3 363.0,225.3 363.8,225.3 364.5,225.3 365.3,225.3 366.0,225.3 366.8,225.3 367.5,225.3 368.3,225.3 369.0,225.3 369.8,225.3 370.5,225.3 371.3,225.3 372.0,225.3 372.8,225.3 373.5,225.3 374.3,225.3 375.0,225.3 375.8,225.3"/>
<polyline fill="none" stroke="#3a7a98" stroke-width="1.30" stroke-linejoin="round" points="244.4,225.3 245.2,225.3 245.9,225.3 246.7,225.3 247.4,225.3 248.2,225.3 248.9,225.3 249.7,225.3 250.4,225.3 251.2,225.3 251.9,225.3 252.7,225.3 253.4,225.3 254.2,225.3 254.9,225.3 255.7,225.3 256.4,225.3 257.2,225.3 257.9,225.3 258.7,225.3 259.4,225.3 260.2,225.3 260.9,225.3 261.7,225.3 262.4,225.3 263.2,225.3 263.9,225.3 264.7,225.3 265.4,225.3 266.2,225.3 266.9,225.3 267.7,225.3 268.4,225.3 269.2,225.3 269.9,225.3 270.7,225.3 271.4,225.3 272.2,225.3 272.9,225.3 273.7,225.3 274.4,225.3 275.2,225.3 275.9,225.3 276.7,225.3 277.4,225.3 278.2,225.3 278.9,225.3 279.7,225.3 280.4,225.3 281.2,225.3 281.9,225.3 282.7,225.3 283.4,225.3 284.2,225.3 284.9,225.3 285.7,225.3 286.4,225.3 287.2,225.3 287.9,225.3 288.7,225.3 289.5,225.3 290.2,225.3 291.0,225.2 291.7,225.2 292.5,225.2 293.2,225.2 294.0,225.2 294.7,225.2 295.5,225.2 296.2,225.1 297.0,225.1 297.7,225.1 298.5,225.1 299.2,225.0 300.0,225.0 300.7,225.0 301.5,224.9 302.2,224.9 303.0,224.9 303.7,224.9 304.5,224.8 305.2,224.8 306.0,224.8 306.7,224.8 307.5,224.7 308.2,224.7 309.0,224.7 309.7,224.7 310.5,224.7 311.2,224.7 312.0,224.7 312.7,224.7 313.5,224.7 314.2,224.7 315.0,224.7 315.7,224.7 316.5,224.8 317.2,224.8 318.0,224.8 318.7,224.8 319.5,224.8 320.2,224.9 321.0,224.9 321.7,224.9 322.5,225.0 323.2,225.0 324.0,225.0 324.7,225.0 325.5,225.1 326.2,225.1 327.0,225.1 327.7,225.1 328.5,225.1 329.2,225.2 330.0,225.2 330.7,225.2 331.5,225.2 332.3,225.2 333.0,225.2 333.8,225.2 334.5,225.2 335.3,225.3 336.0,225.3 336.8,225.3 337.5,225.3 338.3,225.3 339.0,225.3 339.8,225.3 340.5,225.3 341.3,225.3 342.0,225.3 342.8,225.3 343.5,225.3 344.3,225.3 345.0,225.3 345.8,225.3 346.5,225.3 347.3,225.3 348.0,225.3 348.8,225.3 349.5,225.3 350.3,225.3 351.0,225.3 351.8,225.3 352.5,225.3 353.3,225.3 354.0,225.3 354.8,225.3 355.5,225.3 356.3,225.3 357.0,225.3 357.8,225.3 358.5,225.3 359.3,225.3 360.0,225.3 360.8,225.3 361.5,225.3 362.3,225.3 363.0,225.3 363.8,225.3 364.5,225.3 365.3,225.3 366.0,225.3 366.8,225.3 367.5,225.3 368.3,225.3 369.0,225.3 369.8,225.3 370.5,225.3 371.3,225.3 372.0,225.3 372.8,225.3 373.5,225.3 374.3,225.3 375.0,225.3 375.8,225.3"/>
<polyline fill="none" stroke="#9a9a60" stroke-width="1.30" stroke-linejoin="round" points="244.4,225.3 245.2,225.3 245.9,225.3 246.7,225.3 247.4,225.3 248.2,225.3 248.9,225.3 249.7,225.3 250.4,225.3 251.2,225.3 251.9,225.3 252.7,225.3 253.4,225.3 254.2,225.3 254.9,225.3 255.7,225.3 256.4,225.3 257.2,225.3 257.9,225.3 258.7,225.3 259.4,225.3 260.2,225.3 260.9,225.3 261.7,225.3 262.4,225.3 263.2,225.3 263.9,225.3 264.7,225.3 265.4,225.3 266.2,225.3 266.9,225.3 267.7,225.3 268.4,225.3 269.2,225.3 269.9,225.3 270.7,225.3 271.4,225.3 272.2,225.3 272.9,225.3 273.7,225.3 274.4,225.3 275.2,225.3 275.9,225.3 276.7,225.3 277.4,225.3 278.2,225.3 278.9,225.3 279.7,225.3 280.4,225.3 281.2,225.3 281.9,225.3 282.7,225.3 283.4,225.3 284.2,225.3 284.9,225.3 285.7,225.3 286.4,225.3 287.2,225.3 287.9,225.3 288.7,225.3 289.5,225.3 290.2,225.3 291.0,225.2 291.7,225.2 292.5,225.2 293.2,225.2 294.0,225.2 294.7,225.2 295.5,225.2 296.2,225.1 297.0,225.1 297.7,225.1 298.5,225.1 299.2,225.0 300.0,225.0 300.7,225.0 301.5,224.9 302.2,224.9 303.0,224.9 303.7,224.9 304.5,224.8 305.2,224.8 306.0,224.8 306.7,224.8 307.5,224.7 308.2,224.7 309.0,224.7 309.7,224.7 310.5,224.7 311.2,224.7 312.0,224.7 312.7,224.7 313.5,224.7 314.2,224.7 315.0,224.7 315.7,224.7 316.5,224.8 317.2,224.8 318.0,224.8 318.7,224.8 319.5,224.8 320.2,224.9 321.0,224.9 321.7,224.9 322.5,225.0 323.2,225.0 324.0,225.0 324.7,225.0 325.5,225.1 326.2,225.1 327.0,225.1 327.7,225.1 328.5,225.1 329.2,225.2 330.0,225.2 330.7,225.2 331.5,225.2 332.3,225.2 333.0,225.2 333.8,225.2 334.5,225.2 335.3,225.3 336.0,225.3 336.8,225.3 337.5,225.3 338.3,225.3 339.0,225.3 339.8,225.3 340.5,225.3 341.3,225.3 342.0,225.3 342.8,225.3 343.5,225.3 344.3,225.3 345.0,225.3 345.8,225.3 346.5,225.3 347.3,225.3 348.0,225.3 348.8,225.3 349.5,225.3 350.3,225.3 351.0,225.3 351.8,225.3 352.5,225.3 353.3,225.3 354.0,225.3 354.8,225.3 355.5,225.3 356.3,225.3 357.0,225.3 357.8,225.3 358.5,225.3 359.3,225.3 360.0,225.3 360.8,225.3 361.5,225.3 362.3,225.3 363.0,225.3 363.8,225.3 364.5,225.3 365.3,225.3 366.0,225.3 366.8,225.3 367.5,225.3 368.3,225.3 369.0,225.3 369.8,225.3 370.5,225.3 371.3,225.3 372.0,225.3 372.8,225.3 373.5,225.3 374.3,225.3 375.0,225.3 375.8,225.3"/>
<polyline fill="none" stroke="#a02050" stroke-width="1.30" stroke-linejoin="round" points="244.4,225.3 245.2,225.3 245.9,225.3 246.7,225.3 247.4,225.3 248.2,225.3 248.9,225.3 249.7,225.3 250.4,225.3 251.2,225.3 251.9,225.3 252.7,225.3 253.4,225.3 254.2,225.3 254.9,225.3 255.7,225.3 256.4,225.3 257.2,225.3 257.9,225.3 258.7,225.3 259.4,225.3 260.2,225.3 260.9,225.3 261.7,225.3 262.4,225.3 263.2,225.3 263.9,225.3 264.7,225.3 265.4,225.3 266.2,225.3 266.9,225.3 267.7,225.3 268.4,225.3 269.2,225.3 269.9,225.3 270.7,225.3 271.4,225.3 272.2,225.3 272.9,225.3 273.7,225.3 274.4,225.3 275.2,225.3 275.9,225.3 276.7,225.3 277.4,225.3 278.2,225.3 278.9,225.3 279.7,225.3 280.4,225.3 281.2,225.3 281.9,225.3 282.7,225.3 283.4,225.3 284.2,225.3 284.9,225.3 285.7,225.3 286.4,225.3 287.2,225.3 287.9,225.3 288.7,225.3 289.5,225.3 290.2,225.2 291.0,225.2 291.7,225.2 292.5,225.2 293.2,225.2 294.0,225.2 294.7,225.1 295.5,225.1 296.2,225.1 297.0,225.1 297.7,225.0 298.5,225.0 299.2,225.0 300.0,225.0 300.7,224.9 301.5,224.9 302.2,224.8 303.0,224.8 303.7,224.8 304.5,224.7 305.2,224.7 306.0,224.7 306.7,224.7 307.5,224.6 308.2,224.6 309.0,224.6 309.7,224.6 310.5,224.6 311.2,224.6 312.0,224.6 312.7,224.6 313.5,224.6 314.2,224.6 315.0,224.6 315.7,224.6 316.5,224.7 317.2,224.7 318.0,224.7 318.7,224.7 319.5,224.8 320.2,224.8 321.0,224.8 321.7,224.9 322.5,224.9 323.2,224.9 324.0,225.0 324.7,225.0 325.5,225.0 326.2,225.0 327.0,225.1 327.7,225.1 328.5,225.1 329.2,225.1 330.0,225.2 330.7,225.2 331.5,225.2 332.3,225.2 333.0,225.2 333.8,225.2 334.5,225.2 335.3,225.2 336.0,225.3 336.8,225.3 337.5,225.3 338.3,225.3 339.0,225.3 339.8,225.3 340.5,225.3 341.3,225.3 342.0,225.3 342.8,225.3 343.5,225.3 344.3,225.3 345.0,225.3 345.8,225.3 346.5,225.3 347.3,225.3 348.0,225.3 348.8,225.3 349.5,225.3 350.3,225.3 351.0,225.3 351.8,225.3 352.5,225.3 353.3,225.3 354.0,225.3 354.8,225.3 355.5,225.3 356.3,225.3 357.0,225.3 357.8,225.3 358.5,225.3 359.3,225.3 360.0,225.3 360.8,225.3 361.5,225.3 362.3,225.3 363.0,225.3 363.8,225.3 364.5,225.3 365.3,225.3 366.0,225.3 366.8,225.3 367.5,225.3 368.3,225.3 369.0,225.3 369.8,225.3 370.5,225.3 371.3,225.3 372.0,225.3 372.8,225.3 373.5,225.3 374.3,225.3 375.0,225.3 375.8,225.3"/>
<polyline fill="none" stroke="#8a30c8" stroke-width="1.30" stroke-linejoin="round" points="244.4,225.3 245.2,225.3 245.9,225.3 246.7,225.3 247.4,225.3 248.2,225.3 248.9,225.3 249.7,225.3 250.4,225.3 251.2,225.3 251.9,225.3 252.7,225.3 253.4,225.3 254.2,225.3 254.9,225.3 255.7,225.3 256.4,225.3 257.2,225.3 257.9,225.3 258.7,225.3 259.4,225.3 260.2,225.3 260.9,225.3 261.7,225.3 262.4,225.3 263.2,225.3 263.9,225.3 264.7,225.3 265.4,225.3 266.2,225.3 266.9,225.3 267.7,225.3 268.4,225.3 269.2,225.3 269.9,225.3 270.7,225.3 271.4,225.3 272.2,225.3 272.9,225.3 273.7,225.3 274.4,225.3 275.2,225.3 275.9,225.3 276.7,225.3 277.4,225.3 278.2,225.3 278.9,225.3 279.7,225.3 280.4,225.3 281.2,225.3 281.9,225.3 282.7,225.3 283.4,225.3 284.2,225.3 284.9,225.3 285.7,225.3 286.4,225.3 287.2,225.3 287.9,225.3 288.7,225.3 289.5,225.2 290.2,225.2 291.0,225.2 291.7,225.2 292.5,225.2 293.2,225.2 294.0,225.1 294.7,225.1 295.5,225.1 296.2,225.1 297.0,225.0 297.7,225.0 298.5,225.0 299.2,224.9 300.0,224.9 300.7,224.9 301.5,224.8 302.2,224.8 303.0,224.7 303.7,224.7 304.5,224.7 305.2,224.6 306.0,224.6 306.7,224.6 307.5,224.5 308.2,224.5 309.0,224.5 309.7,224.5 310.5,224.5 311.2,224.5 312.0,224.5 312.7,224.5 313.5,224.5 314.2,224.5 315.0,224.5 315.7,224.6 316.5,224.6 317.2,224.6 318.0,224.6 318.7,224.7 319.5,224.7 320.2,224.7 321.0,224.8 321.7,224.8 322.5,224.8 323.2,224.9 324.0,224.9 324.7,224.9 325.5,225.0 326.2,225.0 327.0,225.0 327.7,225.1 328.5,225.1 329.2,225.1 330.0,225.1 330.7,225.2 331.5,225.2 332.3,225.2 333.0,225.2 333.8,225.2 334.5,225.2 335.3,225.2 336.0,225.2 336.8,225.3 337.5,225.3 338.3,225.3 339.0,225.3 339.8,225.3 340.5,225.3 341.3,225.3 342.0,225.3 342.8,225.3 343.5,225.3 344.3,225.3 345.0,225.3 345.8,225.3 346.5,225.3 347.3,225.3 348.0,225.3 348.8,225.3 349.5,225.3 350.3,225.3 351.0,225.3 351.8,225.3 352.5,225.3 353.3,225.3 354.0,225.3 354.8,225.3 355.5,225.3 356.3,225.3 357.0,225.3 357.8,225.3 358.5,225.3 359.3,225.3 360.0,225.3 360.8,225.3 361.5,225.3 362.3,225.3 363.0,225.3 363.8,225.3 364.5,225.3 365.3,225.3 366.0,225.3 366.8,225.3 367.5,225.3 368.3,225.3 369.0,225.3 369.8,225.3 370.5,225.3 371.3,225.3 372.0,225.3 372.8,225.3 373.5,225.3 374.3,225.3 375.0,225.3 375.8,225.3"/>
<polyline fill="none" stroke="#9020c0" stroke-width="1.30" stroke-linejoin="round" points="244.4,225.3 245.2,225.3 245.9,225.3 246.7,225.3 247.4,225.3 248.2,225.3 248.9,225.3 249.7,225.3 250.4,225.3 251.2,225.3 251.9,225.3 252.7,225.3 253.4,225.3 254.2,225.3 254.9,225.3 255.7,225.3 256.4,225.3 257.2,225.3 257.9,225.3 258.7,225.3 259.4,225.3 260.2,225.3 260.9,225.3 261.7,225.3 262.4,225.3 263.2,225.3 263.9,225.3 264.7,225.3 265.4,225.3 266.2,225.3 266.9,225.3 267.7,225.3 268.4,225.3 269.2,225.3 269.9,225.3 270.7,225.3 271.4,225.3 272.2,225.3 272.9,225.3 273.7,225.3 274.4,225.3 275.2,225.3 275.9,225.3 276.7,225.3 277.4,225.3 278.2,225.3 278.9,225.3 279.7,225.3 280.4,225.3 281.2,225.3 281.9,225.3 282.7,225.3 283.4,225.3 284.2,225.3 284.9,225.3 285.7,225.3 286.4,225.3 287.2,225.3 287.9,225.3 288.7,225.2 289.5,225.2 290.2,225.2 291.0,225.2 291.7,225.2 292.5,225.2 293.2,225.2 294.0,225.1 294.7,225.1 295.5,225.1 296.2,225.0 297.0,225.0 297.7,225.0 298.5,224.9 299.2,224.9 300.0,224.9 300.7,224.8 301.5,224.8 302.2,224.7 303.0,224.7 303.7,224.6 304.5,224.6 305.2,224.6 306.0,224.5 306.7,224.5 307.5,224.5 308.2,224.4 309.0,224.4 309.7,224.4 310.5,224.4 311.2,224.4 312.0,224.4 312.7,224.4 313.5,224.4 314.2,224.4 315.0,224.4 315.7,224.5 316.5,224.5 317.2,224.5 318.0,224.6 318.7,224.6 319.5,224.6 320.2,224.7 321.0,224.7 321.7,224.7 322.5,224.8 323.2,224.8 324.0,224.9 324.7,224.9 325.5,224.9 326.2,225.0 327.0,225.0 327.7,225.0 328.5,225.1 329.2,225.1 330.0,225.1 330.7,225.1 331.5,225.2 332.3,225.2 333.0,225.2 333.8,225.2 334.5,225.2 335.3,225.2 336.0,225.2 336.8,225.3 337.5,225.3 338.3,225.3 339.0,225.3 339.8,225.3 340.5,225.3 341.3,225.3 342.0,225.3 342.8,225.3 343.5,225.3 344.3,225.3 345.0,225.3 345.8,225.3 346.5,225.3 347.3,225.3 348.0,225.3 348.8,225.3 349.5,225.3 350.3,225.3 351.0,225.3 351.8,225.3 352.5,225.3 353.3,225.3 354.0,225.3 354.8,225.3 355.5,225.3 356.3,225.3 357.0,225.3 357.8,225.3 358.5,225.3 359.3,225.3 360.0,225.3 360.8,225.3 361.5,225.3 362.3,225.3 363.0,225.3 363.8,225.3 364.5,225.3 365.3,225.3 366.0,225.3 366.8,225.3 367.5,225.3 368.3,225.3 369.0,225.3 369.8,225.3 370.5,225.3 371.3,225.3 372.0,225.3 372.8,225.3 373.5,225.3 374.3,225.3 375.0,225.3 375.8,225.3"/>
<polyline fill="none" stroke="#1f9a50" stroke-width="1.30" stroke-linejoin="round" points="244.4,225.3 245.2,225.3 245.9,225.3 246.7,225.3 247.4,225.3 248.2,225.3 248.9,225.3 249.7,225.3 250.4,225.3 251.2,225.3 251.9,225.3 252.7,225.3 253.4,225.3 254.2,225.3 254.9,225.3 255.7,225.3 256.4,225.3 257.2,225.3 257.9,225.3 258.7,225.3 259.4,225.3 260.2,225.3 260.9,225.3 261.7,225.3 262.4,225.3 263.2,225.3 263.9,225.3 264.7,225.3 265.4,225.3 266.2,225.3 266.9,225.3 267.7,225.3 268.4,225.3 269.2,225.3 269.9,225.3 270.7,225.3 271.4,225.3 272.2,225.3 272.9,225.3 273.7,225.3 274.4,225.3 275.2,225.3 275.9,225.3 276.7,225.3 277.4,225.3 278.2,225.3 278.9,225.3 279.7,225.3 280.4,225.3 281.2,225.3 281.9,225.3 282.7,225.3 283.4,225.3 284.2,225.3 284.9,225.3 285.7,225.3 286.4,225.3 287.2,225.3 287.9,225.2 288.7,225.2 289.5,225.2 290.2,225.2 291.0,225.2 291.7,225.2 292.5,225.1 293.2,225.1 294.0,225.1 294.7,225.1 295.5,225.0 296.2,225.0 297.0,224.9 297.7,224.9 298.5,224.9 299.2,224.8 300.0,224.8 300.7,224.7 301.5,224.6 302.2,224.6 303.0,224.5 303.7,224.5 304.5,224.4 305.2,224.4 306.0,224.3 306.7,224.3 307.5,224.3 308.2,224.2 309.0,224.2 309.7,224.2 310.5,224.2 311.2,224.2 312.0,224.2 312.7,224.2 313.5,224.2 314.2,224.2 315.0,224.2 315.7,224.3 316.5,224.3 317.2,224.3 318.0,224.4 318.7,224.4 319.5,224.5 320.2,224.5 321.0,224.6 321.7,224.6 322.5,224.7 323.2,224.7 324.0,224.8 324.7,224.8 325.5,224.9 326.2,224.9 327.0,224.9 327.7,225.0 328.5,225.0 329.2,225.0 330.0,225.1 330.7,225.1 331.5,225.1 332.3,225.1 333.0,225.2 333.8,225.2 334.5,225.2 335.3,225.2 336.0,225.2 336.8,225.2 337.5,225.3 338.3,225.3 339.0,225.3 339.8,225.3 340.5,225.3 341.3,225.3 342.0,225.3 342.8,225.3 343.5,225.3 344.3,225.3 345.0,225.3 345.8,225.3 346.5,225.3 347.3,225.3 348.0,225.3 348.8,225.3 349.5,225.3 350.3,225.3 351.0,225.3 351.8,225.3 352.5,225.3 353.3,225.3 354.0,225.3 354.8,225.3 355.5,225.3 356.3,225.3 357.0,225.3 357.8,225.3 358.5,225.3 359.3,225.3 360.0,225.3 360.8,225.3 361.5,225.3 362.3,225.3 363.0,225.3 363.8,225.3 364.5,225.3 365.3,225.3 366.0,225.3 366.8,225.3 367.5,225.3 368.3,225.3 369.0,225.3 369.8,225.3 370.5,225.3 371.3,225.3 372.0,225.3 372.8,225.3 373.5,225.3 374.3,225.3 375.0,225.3 375.8,225.3"/>
<polyline fill="none" stroke="#ff1a8c" stroke-width="1.30" stroke-linejoin="round" points="244.4,225.3 245.2,225.3 245.9,225.3 246.7,225.3 247.4,225.3 248.2,225.3 248.9,225.3 249.7,225.3 250.4,225.3 251.2,225.3 251.9,225.3 252.7,225.3 253.4,225.3 254.2,225.3 254.9,225.3 255.7,225.3 256.4,225.3 257.2,225.3 257.9,225.3 258.7,225.3 259.4,225.3 260.2,225.3 260.9,225.3 261.7,225.3 262.4,225.3 263.2,225.3 263.9,225.3 264.7,225.3 265.4,225.3 266.2,225.3 266.9,225.3 267.7,225.3 268.4,225.3 269.2,225.3 269.9,225.3 270.7,225.3 271.4,225.3 272.2,225.3 272.9,225.3 273.7,225.3 274.4,225.3 275.2,225.3 275.9,225.3 276.7,225.3 277.4,225.3 278.2,225.3 278.9,225.3 279.7,225.3 280.4,225.3 281.2,225.3 281.9,225.3 282.7,225.3 283.4,225.3 284.2,225.3 284.9,225.3 285.7,225.3 286.4,225.3 287.2,225.3 287.9,225.2 288.7,225.2 289.5,225.2 290.2,225.2 291.0,225.2 291.7,225.2 292.5,225.1 293.2,225.1 294.0,225.1 294.7,225.0 295.5,225.0 296.2,225.0 297.0,224.9 297.7,224.9 298.5,224.8 299.2,224.8 300.0,224.7 300.7,224.6 301.5,224.6 302.2,224.5 303.0,224.5 303.7,224.4 304.5,224.4 305.2,224.3 306.0,224.3 306.7,224.2 307.5,224.2 308.2,224.1 309.0,224.1 309.7,224.1 310.5,224.1 311.2,224.1 312.0,224.1 312.7,224.1 313.5,224.1 314.2,224.1 315.0,224.1 315.7,224.2 316.5,224.2 317.2,224.3 318.0,224.3 318.7,224.3 319.5,224.4 320.2,224.5 321.0,224.5 321.7,224.6 322.5,224.6 323.2,224.7 324.0,224.7 324.7,224.8 325.5,224.8 326.2,224.9 327.0,224.9 327.7,224.9 328.5,225.0 329.2,225.0 330.0,225.1 330.7,225.1 331.5,225.1 332.3,225.1 333.0,225.2 333.8,225.2 334.5,225.2 335.3,225.2 336.0,225.2 336.8,225.2 337.5,225.2 338.3,225.3 339.0,225.3 339.8,225.3 340.5,225.3 341.3,225.3 342.0,225.3 342.8,225.3 343.5,225.3 344.3,225.3 345.0,225.3 345.8,225.3 346.5,225.3 347.3,225.3 348.0,225.3 348.8,225.3 349.5,225.3 350.3,225.3 351.0,225.3 351.8,225.3 352.5,225.3 353.3,225.3 354.0,225.3 354.8,225.3 355.5,225.3 356.3,225.3 357.0,225.3 357.8,225.3 358.5,225.3 359.3,225.3 360.0,225.3 360.8,225.3 361.5,225.3 362.3,225.3 363.0,225.3 363.8,225.3 364.5,225.3 365.3,225.3 366.0,225.3 366.8,225.3 367.5,225.3 368.3,225.3 369.0,225.3 369.8,225.3 370.5,225.3 371.3,225.3 372.0,225.3 372.8,225.3 373.5,225.3 374.3,225.3 375.0,225.3 375.8,225.3"/>
<polyline fill="none" stroke="#ff1a1a" stroke-width="1.30" stroke-linejoin="round" points="244.4,225.3 245.2,225.3 245.9,225.3 246.7,225.3 247.4,225.3 248.2,225.3 248.9,225.3 249.7,225.3 250.4,225.3 251.2,225.3 251.9,225.3 252.7,225.3 253.4,225.3 254.2,225.3 254.9,225.3 255.7,225.3 256.4,225.3 257.2,225.3 257.9,225.3 258.7,225.3 259.4,225.3 260.2,225.3 260.9,225.3 261.7,225.3 262.4,225.3 263.2,225.3 263.9,225.3 264.7,225.3 265.4,225.3 266.2,225.3 266.9,225.3 267.7,225.3 268.4,225.3 269.2,225.3 269.9,225.3 270.7,225.3 271.4,225.3 272.2,225.3 272.9,225.3 273.7,225.3 274.4,225.3 275.2,225.3 275.9,225.3 276.7,225.3 277.4,225.3 278.2,225.2 278.9,225.2 279.7,225.2 280.4,225.2 281.2,225.2 281.9,225.2 282.7,225.1 283.4,225.1 284.2,225.0 284.9,225.0 285.7,224.9 286.4,224.8 287.2,224.8 287.9,224.7 288.7,224.6 289.5,224.4 290.2,224.3 291.0,224.2 291.7,224.0 292.5,223.8 293.2,223.6 294.0,223.4 294.7,223.2 295.5,222.9 296.2,222.7 297.0,222.4 297.7,222.2 298.5,221.9 299.2,221.6 300.0,221.3 300.7,221.0 301.5,220.8 302.2,220.5 303.0,220.2 303.7,220.0 304.5,219.8 305.2,219.6 306.0,219.4 306.7,219.2 307.5,219.1 308.2,219.0 309.0,219.0 309.7,219.0 310.5,219.0 311.2,219.0 312.0,219.1 312.7,219.2 313.5,219.3 314.2,219.4 315.0,219.5 315.7,219.7 316.5,219.9 317.2,220.1 318.0,220.3 318.7,220.5 319.5,220.7 320.2,221.0 321.0,221.2 321.7,221.5 322.5,221.7 323.2,221.9 324.0,222.2 324.7,222.4 325.5,222.6 326.2,222.8 327.0,223.0 327.7,223.2 328.5,223.4 329.2,223.6 330.0,223.8 330.7,223.9 331.5,224.1 332.3,224.2 333.0,224.3 333.8,224.4 334.5,224.5 335.3,224.6 336.0,224.7 336.8,224.8 337.5,224.9 338.3,224.9 339.0,225.0 339.8,225.0 340.5,225.1 341.3,225.1 342.0,225.1 342.8,225.2 343.5,225.2 344.3,225.2 345.0,225.2 345.8,225.2 346.5,225.2 347.3,225.3 348.0,225.3 348.8,225.3 349.5,225.3 350.3,225.3 351.0,225.3 351.8,225.3 352.5,225.3 353.3,225.3 354.0,225.3 354.8,225.3 355.5,225.3 356.3,225.3 357.0,225.3 357.8,225.3 358.5,225.3 359.3,225.3 360.0,225.3 360.8,225.3 361.5,225.3 362.3,225.3 363.0,225.3 363.8,225.3 364.5,225.3 365.3,225.3 366.0,225.3 366.8,225.3 367.5,225.3 368.3,225.3 369.0,225.3 369.8,225.3 370.5,225.3 371.3,225.3 372.0,225.3 372.8,225.3 373.5,225.3 374.3,225.3 375.0,225.3 375.8,225.3"/>
<polyline fill="none" stroke="#1a2a9a" stroke-width="1.30" stroke-linejoin="round" points="244.4,225.3 245.2,225.3 245.9,225.3 246.7,225.3 247.4,225.3 248.2,225.3 248.9,225.3 249.7,225.3 250.4,225.3 251.2,225.3 251.9,225.3 252.7,225.3 253.4,225.3 254.2,225.3 254.9,225.3 255.7,225.3 256.4,225.3 257.2,225.3 257.9,225.3 258.7,225.3 259.4,225.3 260.2,225.3 260.9,225.3 261.7,225.3 262.4,225.3 263.2,225.3 263.9,225.3 264.7,225.3 265.4,225.3 266.2,225.3 266.9,225.3 267.7,225.3 268.4,225.3 269.2,225.3 269.9,225.3 270.7,225.3 271.4,225.3 272.2,225.3 272.9,225.3 273.7,225.3 274.4,225.3 275.2,225.3 275.9,225.3 276.7,225.3 277.4,225.3 278.2,225.3 278.9,225.3 279.7,225.3 280.4,225.3 281.2,225.3 281.9,225.3 282.7,225.3 283.4,225.3 284.2,225.3 284.9,225.3 285.7,225.3 286.4,225.3 287.2,225.2 287.9,225.2 288.7,225.2 289.5,225.2 290.2,225.2 291.0,225.2 291.7,225.1 292.5,225.1 293.2,225.1 294.0,225.1 294.7,225.0 295.5,225.0 296.2,224.9 297.0,224.9 297.7,224.8 298.5,224.8 299.2,224.7 300.0,224.7 300.7,224.6 301.5,224.5 302.2,224.5 303.0,224.4 303.7,224.3 304.5,224.3 305.2,224.2 306.0,224.2 306.7,224.1 307.5,224.1 308.2,224.0 309.0,224.0 309.7,224.0 310.5,224.0 311.2,224.0 312.0,224.0 312.7,224.0 313.5,224.0 314.2,224.0 315.0,224.1 315.7,224.1 316.5,224.1 317.2,224.2 318.0,224.2 318.7,224.3 319.5,224.3 320.2,224.4 321.0,224.4 321.7,224.5 322.5,224.6 323.2,224.6 324.0,224.7 324.7,224.7 325.5,224.8 326.2,224.8 327.0,224.9 327.7,224.9 328.5,225.0 329.2,225.0 330.0,225.0 330.7,225.1 331.5,225.1 332.3,225.1 333.0,225.1 333.8,225.2 334.5,225.2 335.3,225.2 336.0,225.2 336.8,225.2 337.5,225.2 338.3,225.3 339.0,225.3 339.8,225.3 340.5,225.3 341.3,225.3 342.0,225.3 342.8,225.3 343.5,225.3 344.3,225.3 345.0,225.3 345.8,225.3 346.5,225.3 347.3,225.3 348.0,225.3 348.8,225.3 349.5,225.3 350.3,225.3 351.0,225.3 351.8,225.3 352.5,225.3 353.3,225.3 354.0,225.3 354.8,225.3 355.5,225.3 356.3,225.3 357.0,225.3 357.8,225.3 358.5,225.3 359.3,225.3 360.0,225.3 360.8,225.3 361.5,225.3 362.3,225.3 363.0,225.3 363.8,225.3 364.5,225.3 365.3,225.3 366.0,225.3 366.8,225.3 367.5,225.3 368.3,225.3 369.0,225.3 369.8,225.3 370.5,225.3 371.3,225.3 372.0,225.3 372.8,225.3 373.5,225.3 374.3,225.3 375.0,225.3 375.8,225.3"/>
<polyline fill="none" stroke="#1a1aa8" stroke-width="1.30" stroke-linejoin="round" points="244.4,225.3 245.2,225.3 245.9,225.3 246.7,225.3 247.4,225.3 248.2,225.3 248.9,225.3 249.7,225.3 250.4,225.3 251.2,225.3 251.9,225.3 252.7,225.3 253.4,225.3 254.2,225.3 254.9,225.3 255.7,225.3 256.4,225.3 257.2,225.3 257.9,225.3 258.7,225.3 259.4,225.3 260.2,225.3 260.9,225.3 261.7,225.3 262.4,225.3 263.2,225.3 263.9,225.3 264.7,225.3 265.4,225.3 266.2,225.3 266.9,225.3 267.7,225.3 268.4,225.3 269.2,225.3 269.9,225.3 270.7,225.3 271.4,225.3 272.2,225.3 272.9,225.3 273.7,225.3 274.4,225.3 275.2,225.3 275.9,225.3 276.7,225.3 277.4,225.3 278.2,225.3 278.9,225.3 279.7,225.3 280.4,225.3 281.2,225.3 281.9,225.3 282.7,225.3 283.4,225.3 284.2,225.3 284.9,225.2 285.7,225.2 286.4,225.2 287.2,225.2 287.9,225.2 288.7,225.2 289.5,225.1 290.2,225.1 291.0,225.1 291.7,225.0 292.5,225.0 293.2,224.9 294.0,224.9 294.7,224.8 295.5,224.8 296.2,224.7 297.0,224.6 297.7,224.5 298.5,224.4 299.2,224.4 300.0,224.3 300.7,224.2 301.5,224.1 302.2,224.0 303.0,223.9 303.7,223.8 304.5,223.8 305.2,223.7 306.0,223.6 306.7,223.6 307.5,223.5 308.2,223.5 309.0,223.5 309.7,223.5 310.5,223.5 311.2,223.5 312.0,223.5 312.7,223.5 313.5,223.6 314.2,223.6 315.0,223.6 315.7,223.7 316.5,223.8 317.2,223.8 318.0,223.9 318.7,224.0 319.5,224.1 320.2,224.1 321.0,224.2 321.7,224.3 322.5,224.4 323.2,224.5 324.0,224.5 324.7,224.6 325.5,224.7 326.2,224.7 327.0,224.8 327.7,224.9 328.5,224.9 329.2,224.9 330.0,225.0 330.7,225.0 331.5,225.1 332.3,225.1 333.0,225.1 333.8,225.2 334.5,225.2 335.3,225.2 336.0,225.2 336.8,225.2 337.5,225.2 338.3,225.2 339.0,225.3 339.8,225.3 340.5,225.3 341.3,225.3 342.0,225.3 342.8,225.3 343.5,225.3 344.3,225.3 345.0,225.3 345.8,225.3 346.5,225.3 347.3,225.3 348.0,225.3 348.8,225.3 349.5,225.3 350.3,225.3 351.0,225.3 351.8,225.3 352.5,225.3 353.3,225.3 354.0,225.3 354.8,225.3 355.5,225.3 356.3,225.3 357.0,225.3 357.8,225.3 358.5,225.3 359.3,225.3 360.0,225.3 360.8,225.3 361.5,225.3 362.3,225.3 363.0,225.3 363.8,225.3 364.5,225.3 365.3,225.3 366.0,225.3 366.8,225.3 367.5,225.3 368.3,225.3 369.0,225.3 369.8,225.3 370.5,225.3 371.3,225.3 372.0,225.3 372.8,225.3 373.5,225.3 374.3,225.3 375.0,225.3 375.8,225.3"/>
<polyline fill="none" stroke="#9a9a60" stroke-width="1.25" stroke-linejoin="round" points="50.6,305.7 51.3,307.4 52.1,309.1 52.8,310.7 53.6,312.4 54.3,314.0 55.1,315.5 55.8,317.1 56.6,318.5 57.3,320.0 58.0,321.3 58.8,322.6 59.5,323.8 60.3,325.0 61.0,326.1 61.8,327.1 62.5,328.0 63.2,328.8 64.0,329.5 64.7,330.1 65.5,330.7 66.2,331.1 67.0,331.4 67.7,331.7 68.5,331.8 69.2,331.8 69.9,331.7 70.7,331.5 71.4,331.3 72.2,331.0 72.9,330.6 73.7,330.1 74.4,329.6 75.2,329.0 75.9,328.5 76.6,327.8 77.4,327.2 78.1,326.6 78.9,326.0 79.6,325.4 80.4,324.7 81.1,324.1 81.8,323.5 82.6,323.0 83.3,322.4 84.1,321.8 84.8,321.3 85.6,320.7 86.3,320.2 87.1,319.6 87.8,319.1 88.5,318.6 89.3,318.1 90.0,317.6 90.8,317.1 91.5,316.7 92.3,316.2 93.0,315.8 93.8,315.4 94.5,315.0 95.2,314.7 96.0,314.3 96.7,314.0 97.5,313.7 98.2,313.5 99.0,313.2 99.7,313.0 100.4,312.9 101.2,312.8 101.9,312.7 102.7,312.6 103.4,312.6 104.2,312.6 104.9,312.7 105.7,312.8 106.4,312.9 107.1,313.1 107.9,313.3 108.6,313.6 109.4,313.9 110.1,314.2 110.9,314.5 111.6,314.9 112.4,315.3 113.1,315.8 113.8,316.3 114.6,316.7 115.3,317.2 116.1,317.8 116.8,318.3 117.6,318.8 118.3,319.4 119.0,319.9 119.8,320.5 120.5,321.0 121.3,321.5 122.0,322.0 122.8,322.6 123.5,323.1 124.3,323.6 125.0,324.1 125.7,324.6 126.5,325.1 127.2,325.6 128.0,326.1 128.7,326.6 129.5,327.2 130.2,327.8 131.0,328.3 131.7,328.9 132.4,329.6 133.2,330.2 133.9,330.8 134.7,331.5 135.4,332.2 136.2,332.8 136.9,333.5 137.6,334.2 138.4,334.9 139.1,335.5 139.9,336.2 140.6,336.9 141.4,337.5 142.1,338.2 142.9,338.8 143.6,339.4 144.3,340.1 145.1,340.7 145.8,341.3 146.6,341.9 147.3,342.5 148.1,343.1 148.8,343.7 149.6,344.3 150.3,344.9 151.0,345.5 151.8,346.1 152.5,346.6 153.3,347.2 154.0,347.7 154.8,348.2 155.5,348.8 156.2,349.2 157.0,349.7 157.7,350.2 158.5,350.6 159.2,351.0 160.0,351.4 160.7,351.7 161.5,352.0 162.2,352.3 162.9,352.6 163.7,352.8 164.4,353.0 165.2,353.2 165.9,353.3 166.7,353.5 167.4,353.6 168.2,353.7 168.9,353.7 169.6,353.8 170.4,353.8 171.1,353.8 171.9,353.8 172.6,353.8 173.4,353.8 174.1,353.8 174.8,353.8 175.6,353.8 176.3,353.8 177.1,353.8 177.8,353.8 178.6,353.8 179.3,353.8 180.1,353.8 180.8,353.8"/>
<polyline fill="none" stroke="#3a7a98" stroke-width="1.25" stroke-linejoin="round" points="50.6,306.8 51.3,308.4 52.1,310.0 52.8,311.5 53.6,313.1 54.3,314.6 55.1,316.0 55.8,317.5 56.6,318.8 57.3,320.2 58.0,321.4 58.8,322.6 59.5,323.7 60.3,324.8 61.0,325.7 61.8,326.6 62.5,327.4 63.2,328.1 64.0,328.7 64.7,329.1 65.5,329.5 66.2,329.8 67.0,329.9 67.7,330.0 68.5,329.9 69.2,329.7 69.9,329.4 70.7,329.0 71.4,328.6 72.2,328.1 72.9,327.5 73.7,327.0 74.4,326.4 75.2,325.7 75.9,325.1 76.6,324.5 77.4,323.8 78.1,323.2 78.9,322.7 79.6,322.1 80.4,321.5 81.1,321.0 81.8,320.5 82.6,319.9 83.3,319.4 84.1,318.9 84.8,318.4 85.6,317.9 86.3,317.4 87.1,316.9 87.8,316.5 88.5,316.0 89.3,315.5 90.0,315.1 90.8,314.6 91.5,314.1 92.3,313.7 93.0,313.2 93.8,312.8 94.5,312.4 95.2,312.0 96.0,311.6 96.7,311.3 97.5,311.0 98.2,310.7 99.0,310.5 99.7,310.3 100.4,310.2 101.2,310.1 101.9,310.1 102.7,310.1 103.4,310.1 104.2,310.2 104.9,310.4 105.7,310.6 106.4,310.8 107.1,311.0 107.9,311.3 108.6,311.6 109.4,312.0 110.1,312.4 110.9,312.8 111.6,313.2 112.4,313.6 113.1,314.1 113.8,314.6 114.6,315.1 115.3,315.6 116.1,316.1 116.8,316.7 117.6,317.2 118.3,317.8 119.0,318.4 119.8,318.9 120.5,319.5 121.3,320.1 122.0,320.6 122.8,321.2 123.5,321.7 124.3,322.3 125.0,322.9 125.7,323.4 126.5,324.0 127.2,324.6 128.0,325.2 128.7,325.8 129.5,326.4 130.2,327.0 131.0,327.7 131.7,328.3 132.4,329.0 133.2,329.6 133.9,330.3 134.7,331.0 135.4,331.7 136.2,332.4 136.9,333.1 137.6,333.8 138.4,334.5 139.1,335.1 139.9,335.8 140.6,336.5 141.4,337.2 142.1,337.8 142.9,338.5 143.6,339.1 144.3,339.7 145.1,340.4 145.8,341.0 146.6,341.6 147.3,342.2 148.1,342.8 148.8,343.4 149.6,344.0 150.3,344.6 151.0,345.1 151.8,345.7 152.5,346.2 153.3,346.8 154.0,347.3 154.8,347.8 155.5,348.3 156.2,348.8 157.0,349.3 157.7,349.7 158.5,350.2 159.2,350.6 160.0,350.9 160.7,351.3 161.5,351.7 162.2,352.0 162.9,352.3 163.7,352.5 164.4,352.8 165.2,353.0 165.9,353.2 166.7,353.3 167.4,353.5 168.2,353.6 168.9,353.7 169.6,353.8 170.4,353.8 171.1,353.8 171.9,353.8 172.6,353.8 173.4,353.8 174.1,353.8 174.8,353.8 175.6,353.8 176.3,353.8 177.1,353.8 177.8,353.8 178.6,353.8 179.3,353.8 180.1,353.8 180.8,353.8"/>
<polyline fill="none" stroke="#a02050" stroke-width="1.25" stroke-linejoin="round" points="50.6,309.8 51.3,311.1 52.1,312.3 52.8,313.6 53.6,314.8 54.3,316.0 55.1,317.2 55.8,318.4 56.6,319.5 57.3,320.6 58.0,321.6 58.8,322.6 59.5,323.6 60.3,324.4 61.0,325.2 61.8,326.0 62.5,326.6 63.2,327.2 64.0,327.7 64.7,328.2 65.5,328.5 66.2,328.8 67.0,328.9 67.7,329.0 68.5,329.0 69.2,328.9 69.9,328.7 70.7,328.5 71.4,328.2 72.2,327.9 72.9,327.5 73.7,327.1 74.4,326.7 75.2,326.2 75.9,325.7 76.6,325.2 77.4,324.7 78.1,324.2 78.9,323.7 79.6,323.1 80.4,322.6 81.1,322.1 81.8,321.6 82.6,321.0 83.3,320.5 84.1,320.0 84.8,319.5 85.6,318.9 86.3,318.4 87.1,317.9 87.8,317.3 88.5,316.8 89.3,316.3 90.0,315.8 90.8,315.2 91.5,314.7 92.3,314.2 93.0,313.7 93.8,313.3 94.5,312.8 95.2,312.4 96.0,312.0 96.7,311.6 97.5,311.3 98.2,311.0 99.0,310.7 99.7,310.5 100.4,310.3 101.2,310.2 101.9,310.1 102.7,310.1 103.4,310.1 104.2,310.2 104.9,310.3 105.7,310.5 106.4,310.7 107.1,311.0 107.9,311.3 108.6,311.6 109.4,311.9 110.1,312.4 110.9,312.8 111.6,313.3 112.4,313.7 113.1,314.3 113.8,314.8 114.6,315.4 115.3,315.9 116.1,316.5 116.8,317.1 117.6,317.7 118.3,318.3 119.0,318.9 119.8,319.6 120.5,320.2 121.3,320.8 122.0,321.4 122.8,322.0 123.5,322.6 124.3,323.2 125.0,323.8 125.7,324.4 126.5,325.0 127.2,325.6 128.0,326.2 128.7,326.8 129.5,327.5 130.2,328.1 131.0,328.8 131.7,329.5 132.4,330.2 133.2,330.9 133.9,331.6 134.7,332.4 135.4,333.1 136.2,333.8 136.9,334.5 137.6,335.2 138.4,335.9 139.1,336.6 139.9,337.3 140.6,337.9 141.4,338.6 142.1,339.2 142.9,339.8 143.6,340.4 144.3,340.9 145.1,341.5 145.8,342.1 146.6,342.6 147.3,343.1 148.1,343.7 148.8,344.2 149.6,344.7 150.3,345.3 151.0,345.8 151.8,346.3 152.5,346.8 153.3,347.4 154.0,347.9 154.8,348.4 155.5,348.9 156.2,349.3 157.0,349.8 157.7,350.2 158.5,350.7 159.2,351.1 160.0,351.4 160.7,351.8 161.5,352.1 162.2,352.4 162.9,352.6 163.7,352.9 164.4,353.1 165.2,353.3 165.9,353.5 166.7,353.6 167.4,353.7 168.2,353.8 168.9,353.8 169.6,353.8 170.4,353.8 171.1,353.8 171.9,353.8 172.6,353.8 173.4,353.8 174.1,353.8 174.8,353.8 175.6,353.8 176.3,353.8 177.1,353.8 177.8,353.8 178.6,353.8 179.3,353.8 180.1,353.8 180.8,353.8"/>
<polyline fill="none" stroke="#8a30c8" stroke-width="1.25" stroke-linejoin="round" points="50.6,317.1 51.3,317.8 52.1,318.5 52.8,319.2 53.6,319.9 54.3,320.6 55.1,321.3 55.8,321.9 56.6,322.5 57.3,323.1 58.0,323.7 58.8,324.3 59.5,324.8 60.3,325.2 61.0,325.7 61.8,326.1 62.5,326.4 63.2,326.7 64.0,327.0 64.7,327.2 65.5,327.3 66.2,327.4 67.0,327.4 67.7,327.3 68.5,327.2 69.2,327.1 69.9,326.9 70.7,326.6 71.4,326.3 72.2,326.0 72.9,325.6 73.7,325.2 74.4,324.8 75.2,324.3 75.9,323.8 76.6,323.4 77.4,322.8 78.1,322.3 78.9,321.8 79.6,321.3 80.4,320.7 81.1,320.1 81.8,319.6 82.6,319.0 83.3,318.4 84.1,317.8 84.8,317.3 85.6,316.7 86.3,316.1 87.1,315.5 87.8,314.9 88.5,314.3 89.3,313.7 90.0,313.2 90.8,312.6 91.5,312.0 92.3,311.5 93.0,310.9 93.8,310.4 94.5,309.9 95.2,309.5 96.0,309.0 96.7,308.7 97.5,308.3 98.2,308.0 99.0,307.7 99.7,307.5 100.4,307.3 101.2,307.2 101.9,307.2 102.7,307.2 103.4,307.3 104.2,307.4 104.9,307.6 105.7,307.9 106.4,308.2 107.1,308.6 107.9,309.0 108.6,309.4 109.4,310.0 110.1,310.5 110.9,311.1 111.6,311.8 112.4,312.5 113.1,313.2 113.8,313.9 114.6,314.7 115.3,315.4 116.1,316.2 116.8,317.0 117.6,317.8 118.3,318.6 119.0,319.3 119.8,320.1 120.5,320.8 121.3,321.5 122.0,322.2 122.8,322.8 123.5,323.5 124.3,324.1 125.0,324.6 125.7,325.2 126.5,325.8 127.2,326.4 128.0,327.0 128.7,327.6 129.5,328.2 130.2,328.9 131.0,329.5 131.7,330.2 132.4,330.9 133.2,331.7 133.9,332.4 134.7,333.2 135.4,333.9 136.2,334.7 136.9,335.4 137.6,336.2 138.4,336.9 139.1,337.7 139.9,338.4 140.6,339.1 141.4,339.8 142.1,340.4 142.9,341.1 143.6,341.7 144.3,342.3 145.1,342.9 145.8,343.5 146.6,344.0 147.3,344.6 148.1,345.1 148.8,345.7 149.6,346.2 150.3,346.7 151.0,347.2 151.8,347.7 152.5,348.2 153.3,348.7 154.0,349.2 154.8,349.6 155.5,350.1 156.2,350.5 157.0,350.9 157.7,351.2 158.5,351.6 159.2,351.9 160.0,352.2 160.7,352.5 161.5,352.7 162.2,352.9 162.9,353.1 163.7,353.2 164.4,353.4 165.2,353.5 165.9,353.6 166.7,353.7 167.4,353.8 168.2,353.8 168.9,353.8 169.6,353.8 170.4,353.8 171.1,353.8 171.9,353.8 172.6,353.8 173.4,353.8 174.1,353.8 174.8,353.8 175.6,353.8 176.3,353.8 177.1,353.8 177.8,353.8 178.6,353.8 179.3,353.8 180.1,353.8 180.8,353.8"/>
<polyline fill="none" stroke="#9020c0" stroke-width="1.25" stroke-linejoin="round" points="50.6,315.3 51.3,316.1 52.1,316.9 52.8,317.6 53.6,318.4 54.3,319.2 55.1,319.9 55.8,320.6 56.6,321.3 57.3,322.0 58.0,322.6 58.8,323.2 59.5,323.8 60.3,324.3 61.0,324.8 61.8,325.2 62.5,325.6 63.2,325.9 64.0,326.2 64.7,326.4 65.5,326.5 66.2,326.6 67.0,326.7 67.7,326.6 68.5,326.5 69.2,326.4 69.9,326.2 70.7,325.9 71.4,325.6 72.2,325.3 72.9,324.9 73.7,324.5 74.4,324.1 75.2,323.6 75.9,323.1 76.6,322.6 77.4,322.1 78.1,321.6 78.9,321.0 79.6,320.5 80.4,319.9 81.1,319.3 81.8,318.7 82.6,318.1 83.3,317.5 84.1,316.9 84.8,316.3 85.6,315.7 86.3,315.1 87.1,314.5 87.8,313.9 88.5,313.3 89.3,312.7 90.0,312.0 90.8,311.4 91.5,310.9 92.3,310.3 93.0,309.7 93.8,309.2 94.5,308.7 95.2,308.2 96.0,307.7 96.7,307.3 97.5,306.9 98.2,306.6 99.0,306.3 99.7,306.1 100.4,305.9 101.2,305.8 101.9,305.7 102.7,305.7 103.4,305.8 104.2,305.9 104.9,306.1 105.7,306.4 106.4,306.7 107.1,307.0 107.9,307.5 108.6,307.9 109.4,308.5 110.1,309.1 110.9,309.7 111.6,310.4 112.4,311.1 113.1,311.8 113.8,312.6 114.6,313.4 115.3,314.2 116.1,315.1 116.8,315.9 117.6,316.7 118.3,317.6 119.0,318.4 119.8,319.2 120.5,320.0 121.3,320.8 122.0,321.5 122.8,322.2 123.5,322.9 124.3,323.6 125.0,324.3 125.7,324.9 126.5,325.6 127.2,326.2 128.0,326.9 128.7,327.5 129.5,328.2 130.2,328.9 131.0,329.6 131.7,330.3 132.4,331.0 133.2,331.7 133.9,332.5 134.7,333.2 135.4,334.0 136.2,334.7 136.9,335.5 137.6,336.2 138.4,337.0 139.1,337.7 139.9,338.4 140.6,339.1 141.4,339.8 142.1,340.4 142.9,341.0 143.6,341.7 144.3,342.3 145.1,342.9 145.8,343.5 146.6,344.0 147.3,344.6 148.1,345.1 148.8,345.7 149.6,346.2 150.3,346.7 151.0,347.2 151.8,347.7 152.5,348.2 153.3,348.7 154.0,349.2 154.8,349.6 155.5,350.1 156.2,350.5 157.0,350.9 157.7,351.2 158.5,351.6 159.2,351.9 160.0,352.2 160.7,352.5 161.5,352.7 162.2,352.9 162.9,353.1 163.7,353.2 164.4,353.4 165.2,353.5 165.9,353.6 166.7,353.7 167.4,353.8 168.2,353.8 168.9,353.8 169.6,353.8 170.4,353.8 171.1,353.8 171.9,353.8 172.6,353.8 173.4,353.8 174.1,353.8 174.8,353.8 175.6,353.8 176.3,353.8 177.1,353.8 177.8,353.8 178.6,353.8 179.3,353.8 180.1,353.8 180.8,353.8"/>
<polyline fill="none" stroke="#1a2a9a" stroke-width="1.25" stroke-linejoin="round" points="50.6,311.6 51.3,312.8 52.1,313.9 52.8,315.0 53.6,316.1 54.3,317.3 55.1,318.4 55.8,319.4 56.6,320.5 57.3,321.6 58.0,322.6 58.8,323.6 59.5,324.6 60.3,325.6 61.0,326.4 61.8,327.2 62.5,327.9 63.2,328.5 64.0,329.0 64.7,329.4 65.5,329.6 66.2,329.7 67.0,329.6 67.7,329.4 68.5,329.0 69.2,328.6 69.9,328.1 70.7,327.5 71.4,326.9 72.2,326.2 72.9,325.5 73.7,324.8 74.4,324.1 75.2,323.4 75.9,322.7 76.6,322.0 77.4,321.4 78.1,320.8 78.9,320.1 79.6,319.5 80.4,318.9 81.1,318.3 81.8,317.7 82.6,317.1 83.3,316.4 84.1,315.8 84.8,315.1 85.6,314.4 86.3,313.7 87.1,313.0 87.8,312.2 88.5,311.4 89.3,310.6 90.0,309.7 90.8,308.8 91.5,307.9 92.3,306.9 93.0,305.9 93.8,305.0 94.5,304.0 95.2,303.0 96.0,302.1 96.7,301.2 97.5,300.3 98.2,299.5 99.0,298.8 99.7,298.0 100.4,297.4 101.2,296.8 101.9,296.3 102.7,295.9 103.4,295.6 104.2,295.3 104.9,295.2 105.7,295.1 106.4,295.1 107.1,295.2 107.9,295.5 108.6,295.8 109.4,296.3 110.1,296.8 110.9,297.5 111.6,298.3 112.4,299.3 113.1,300.3 113.8,301.5 114.6,302.8 115.3,304.1 116.1,305.5 116.8,306.9 117.6,308.3 118.3,309.8 119.0,311.2 119.8,312.6 120.5,314.0 121.3,315.4 122.0,316.8 122.8,318.2 123.5,319.5 124.3,320.8 125.0,322.1 125.7,323.3 126.5,324.6 127.2,325.8 128.0,327.0 128.7,328.1 129.5,329.3 130.2,330.4 131.0,331.5 131.7,332.6 132.4,333.6 133.2,334.7 133.9,335.7 134.7,336.6 135.4,337.6 136.2,338.5 136.9,339.4 137.6,340.3 138.4,341.1 139.1,342.0 139.9,342.8 140.6,343.6 141.4,344.3 142.1,345.1 142.9,345.8 143.6,346.5 144.3,347.1 145.1,347.8 145.8,348.4 146.6,349.0 147.3,349.5 148.1,350.1 148.8,350.6 149.6,351.1 150.3,351.5 151.0,352.0 151.8,352.4 152.5,352.8 153.3,353.1 154.0,353.5 154.8,353.8 155.5,353.8 156.2,353.8 157.0,353.8 157.7,353.8 158.5,353.8 159.2,353.8 160.0,353.8 160.7,353.8 161.5,353.8 162.2,353.8 162.9,353.8 163.7,353.8 164.4,353.8 165.2,353.8 165.9,353.8 166.7,353.8 167.4,353.8 168.2,353.8 168.9,353.8 169.6,353.8 170.4,353.8 171.1,353.8 171.9,353.8 172.6,353.8 173.4,353.8 174.1,353.8 174.8,353.8 175.6,353.8 176.3,353.8 177.1,353.8 177.8,353.8 178.6,353.8 179.3,353.8 180.1,353.8 180.8,353.8"/>
<polyline fill="none" stroke="#1f9a50" stroke-width="1.25" stroke-linejoin="round" points="50.6,313.5 51.3,314.7 52.1,316.0 52.8,317.2 53.6,318.5 54.3,319.7 55.1,320.9 55.8,322.1 56.6,323.3 57.3,324.5 58.0,325.6 58.8,326.7 59.5,327.7 60.3,328.6 61.0,329.5 61.8,330.2 62.5,330.9 63.2,331.3 64.0,331.7 64.7,331.8 65.5,331.7 66.2,331.5 67.0,331.1 67.7,330.6 68.5,330.0 69.2,329.3 69.9,328.6 70.7,327.7 71.4,326.9 72.2,326.0 72.9,325.2 73.7,324.4 74.4,323.6 75.2,322.8 75.9,322.1 76.6,321.4 77.4,320.6 78.1,319.9 78.9,319.2 79.6,318.4 80.4,317.7 81.1,316.9 81.8,316.1 82.6,315.2 83.3,314.3 84.1,313.4 84.8,312.4 85.6,311.3 86.3,310.2 87.1,308.9 87.8,307.7 88.5,306.4 89.3,305.0 90.0,303.7 90.8,302.3 91.5,300.9 92.3,299.6 93.0,298.3 93.8,297.0 94.5,295.8 95.2,294.7 96.0,293.7 96.7,292.7 97.5,291.9 98.2,291.1 99.0,290.5 99.7,290.0 100.4,289.6 101.2,289.4 101.9,289.2 102.7,289.2 103.4,289.4 104.2,289.6 104.9,290.0 105.7,290.5 106.4,291.2 107.1,291.9 107.9,292.8 108.6,293.8 109.4,294.9 110.1,296.1 110.9,297.4 111.6,298.7 112.4,300.2 113.1,301.6 113.8,303.1 114.6,304.6 115.3,306.1 116.1,307.6 116.8,309.1 117.6,310.5 118.3,312.0 119.0,313.4 119.8,314.8 120.5,316.2 121.3,317.6 122.0,319.0 122.8,320.3 123.5,321.7 124.3,323.0 125.0,324.3 125.7,325.6 126.5,326.9 127.2,328.2 128.0,329.5 128.7,330.7 129.5,331.9 130.2,333.1 131.0,334.2 131.7,335.3 132.4,336.4 133.2,337.4 133.9,338.5 134.7,339.4 135.4,340.4 136.2,341.3 136.9,342.2 137.6,343.1 138.4,343.9 139.1,344.7 139.9,345.4 140.6,346.2 141.4,346.9 142.1,347.5 142.9,348.1 143.6,348.7 144.3,349.3 145.1,349.8 145.8,350.3 146.6,350.8 147.3,351.3 148.1,351.7 148.8,352.1 149.6,352.4 150.3,352.8 151.0,353.1 151.8,353.4 152.5,353.7 153.3,353.8 154.0,353.8 154.8,353.8 155.5,353.8 156.2,353.8 157.0,353.8 157.7,353.8 158.5,353.8 159.2,353.8 160.0,353.8 160.7,353.8 161.5,353.8 162.2,353.8 162.9,353.8 163.7,353.8 164.4,353.8 165.2,353.8 165.9,353.8 166.7,353.8 167.4,353.8 168.2,353.8 168.9,353.8 169.6,353.8 170.4,353.8 171.1,353.8 171.9,353.8 172.6,353.8 173.4,353.8 174.1,353.8 174.8,353.8 175.6,353.8 176.3,353.8 177.1,353.8 177.8,353.8 178.6,353.8 179.3,353.8 180.1,353.8 180.8,353.8"/>
<polyline fill="none" stroke="#ff1a8c" stroke-width="1.25" stroke-linejoin="round" points="50.6,316.4 51.3,317.7 52.1,319.0 52.8,320.3 53.6,321.6 54.3,322.9 55.1,324.2 55.8,325.5 56.6,326.8 57.3,328.0 58.0,329.2 58.8,330.4 59.5,331.5 60.3,332.4 61.0,333.3 61.8,333.9 62.5,334.4 63.2,334.7 64.0,334.7 64.7,334.5 65.5,334.1 66.2,333.5 67.0,332.7 67.7,331.8 68.5,330.8 69.2,329.8 69.9,328.7 70.7,327.5 71.4,326.5 72.2,325.4 72.9,324.4 73.7,323.5 74.4,322.6 75.2,321.7 75.9,320.8 76.6,320.0 77.4,319.1 78.1,318.3 78.9,317.4 79.6,316.5 80.4,315.6 81.1,314.6 81.8,313.6 82.6,312.5 83.3,311.4 84.1,310.2 84.8,308.8 85.6,307.5 86.3,306.0 87.1,304.6 87.8,303.1 88.5,301.5 89.3,300.0 90.0,298.5 90.8,297.0 91.5,295.5 92.3,294.1 93.0,292.8 93.8,291.6 94.5,290.4 95.2,289.3 96.0,288.3 96.7,287.5 97.5,286.7 98.2,286.0 99.0,285.4 99.7,284.9 100.4,284.5 101.2,284.3 101.9,284.1 102.7,284.1 103.4,284.2 104.2,284.4 104.9,284.7 105.7,285.2 106.4,285.8 107.1,286.5 107.9,287.4 108.6,288.4 109.4,289.6 110.1,291.0 110.9,292.5 111.6,294.1 112.4,295.8 113.1,297.6 113.8,299.5 114.6,301.5 115.3,303.4 116.1,305.4 116.8,307.4 117.6,309.4 118.3,311.4 119.0,313.3 119.8,315.3 120.5,317.1 121.3,318.9 122.0,320.7 122.8,322.4 123.5,324.0 124.3,325.6 125.0,327.2 125.7,328.7 126.5,330.1 127.2,331.5 128.0,332.9 128.7,334.2 129.5,335.5 130.2,336.7 131.0,337.9 131.7,339.0 132.4,340.2 133.2,341.2 133.9,342.3 134.7,343.3 135.4,344.2 136.2,345.1 136.9,346.0 137.6,346.8 138.4,347.6 139.1,348.3 139.9,349.0 140.6,349.6 141.4,350.2 142.1,350.8 142.9,351.3 143.6,351.8 144.3,352.3 145.1,352.7 145.8,353.1 146.6,353.5 147.3,353.8 148.1,353.8 148.8,353.8 149.6,353.8 150.3,353.8 151.0,353.8 151.8,353.8 152.5,353.8 153.3,353.8 154.0,353.8 154.8,353.8 155.5,353.8 156.2,353.8 157.0,353.8 157.7,353.8 158.5,353.8 159.2,353.8 160.0,353.8 160.7,353.8 161.5,353.8 162.2,353.8 162.9,353.8 163.7,353.8 164.4,353.8 165.2,353.8 165.9,353.8 166.7,353.8 167.4,353.8 168.2,353.8 168.9,353.8 169.6,353.8 170.4,353.8 171.1,353.8 171.9,353.8 172.6,353.8 173.4,353.8 174.1,353.8 174.8,353.8 175.6,353.8 176.3,353.8 177.1,353.8 177.8,353.8 178.6,353.8 179.3,353.8 180.1,353.8 180.8,353.8"/>
<polyline fill="none" stroke="#1a1aa8" stroke-width="1.25" stroke-linejoin="round" points="50.6,317.1 51.3,318.5 52.1,319.9 52.8,321.3 53.6,322.7 54.3,324.1 55.1,325.5 55.8,326.8 56.6,328.1 57.3,329.4 58.0,330.7 58.8,331.8 59.5,332.9 60.3,333.8 61.0,334.5 61.8,335.1 62.5,335.4 63.2,335.5 64.0,335.3 64.7,334.8 65.5,334.2 66.2,333.4 67.0,332.5 67.7,331.4 68.5,330.3 69.2,329.2 69.9,328.0 70.7,326.9 71.4,325.7 72.2,324.7 72.9,323.7 73.7,322.7 74.4,321.8 75.2,320.9 75.9,320.0 76.6,319.1 77.4,318.2 78.1,317.2 78.9,316.3 79.6,315.3 80.4,314.3 81.1,313.2 81.8,312.0 82.6,310.8 83.3,309.5 84.1,308.1 84.8,306.6 85.6,305.1 86.3,303.6 87.1,302.0 87.8,300.4 88.5,298.8 89.3,297.3 90.0,295.7 90.8,294.2 91.5,292.8 92.3,291.4 93.0,290.2 93.8,289.0 94.5,287.9 95.2,286.9 96.0,286.0 96.7,285.2 97.5,284.5 98.2,283.9 99.0,283.5 99.7,283.2 100.4,283.0 101.2,283.0 101.9,283.1 102.7,283.3 103.4,283.7 104.2,284.2 104.9,284.9 105.7,285.7 106.4,286.7 107.1,287.7 107.9,289.0 108.6,290.3 109.4,291.8 110.1,293.3 110.9,295.0 111.6,296.8 112.4,298.6 113.1,300.5 113.8,302.4 114.6,304.4 115.3,306.4 116.1,308.4 116.8,310.4 117.6,312.3 118.3,314.3 119.0,316.2 119.8,318.0 120.5,319.8 121.3,321.6 122.0,323.2 122.8,324.9 123.5,326.4 124.3,328.0 125.0,329.4 125.7,330.9 126.5,332.3 127.2,333.6 128.0,334.9 128.7,336.2 129.5,337.4 130.2,338.6 131.0,339.8 131.7,340.9 132.4,342.0 133.2,343.0 133.9,344.0 134.7,345.0 135.4,345.9 136.2,346.7 136.9,347.5 137.6,348.3 138.4,349.0 139.1,349.7 139.9,350.3 140.6,350.9 141.4,351.4 142.1,351.9 142.9,352.4 143.6,352.8 144.3,353.2 145.1,353.6 145.8,353.8 146.6,353.8 147.3,353.8 148.1,353.8 148.8,353.8 149.6,353.8 150.3,353.8 151.0,353.8 151.8,353.8 152.5,353.8 153.3,353.8 154.0,353.8 154.8,353.8 155.5,353.8 156.2,353.8 157.0,353.8 157.7,353.8 158.5,353.8 159.2,353.8 160.0,353.8 160.7,353.8 161.5,353.8 162.2,353.8 162.9,353.8 163.7,353.8 164.4,353.8 165.2,353.8 165.9,353.8 166.7,353.8 167.4,353.8 168.2,353.8 168.9,353.8 169.6,353.8 170.4,353.8 171.1,353.8 171.9,353.8 172.6,353.8 173.4,353.8 174.1,353.8 174.8,353.8 175.6,353.8 176.3,353.8 177.1,353.8 177.8,353.8 178.6,353.8 179.3,353.8 180.1,353.8 180.8,353.8"/>
<polyline fill="none" stroke="#ff1a1a" stroke-width="1.25" stroke-linejoin="round" points="50.6,319.0 51.3,320.7 52.1,322.4 52.8,324.0 53.6,325.7 54.3,327.3 55.1,328.8 55.8,330.3 56.6,331.8 57.3,333.1 58.0,334.3 58.8,335.4 59.5,336.3 60.3,337.0 61.0,337.4 61.8,337.7 62.5,337.6 63.2,337.2 64.0,336.6 64.7,335.9 65.5,334.9 66.2,333.8 67.0,332.6 67.7,331.4 68.5,330.1 69.2,328.9 69.9,327.7 70.7,326.5 71.4,325.4 72.2,324.3 72.9,323.2 73.7,322.2 74.4,321.1 75.2,320.0 75.9,318.9 76.6,317.7 77.4,316.5 78.1,315.2 78.9,313.9 79.6,312.5 80.4,310.9 81.1,309.3 81.8,307.6 82.6,305.8 83.3,304.0 84.1,302.1 84.8,300.1 85.6,298.2 86.3,296.3 87.1,294.4 87.8,292.5 88.5,290.7 89.3,289.0 90.0,287.4 90.8,285.8 91.5,284.4 92.3,283.2 93.0,282.1 93.8,281.2 94.5,280.5 95.2,280.0 96.0,279.7 96.7,279.7 97.5,279.9 98.2,280.3 99.0,280.9 99.7,281.6 100.4,282.6 101.2,283.6 101.9,284.8 102.7,286.2 103.4,287.6 104.2,289.1 104.9,290.6 105.7,292.2 106.4,293.9 107.1,295.6 107.9,297.3 108.6,298.9 109.4,300.6 110.1,302.3 110.9,303.9 111.6,305.5 112.4,307.1 113.1,308.7 113.8,310.3 114.6,311.9 115.3,313.6 116.1,315.3 116.8,317.1 117.6,319.0 118.3,320.8 119.0,322.8 119.8,324.7 120.5,326.6 121.3,328.6 122.0,330.4 122.8,332.3 123.5,334.0 124.3,335.7 125.0,337.3 125.7,338.8 126.5,340.1 127.2,341.4 128.0,342.5 128.7,343.6 129.5,344.6 130.2,345.5 131.0,346.3 131.7,347.1 132.4,347.8 133.2,348.5 133.9,349.1 134.7,349.7 135.4,350.2 136.2,350.8 136.9,351.2 137.6,351.7 138.4,352.1 139.1,352.5 139.9,352.9 140.6,353.3 141.4,353.6 142.1,353.8 142.9,353.8 143.6,353.8 144.3,353.8 145.1,353.8 145.8,353.8 146.6,353.8 147.3,353.8 148.1,353.8 148.8,353.8 149.6,353.8 150.3,353.8 151.0,353.8 151.8,353.8 152.5,353.8 153.3,353.8 154.0,353.8 154.8,353.8 155.5,353.8 156.2,353.8 157.0,353.8 157.7,353.8 158.5,353.8 159.2,353.8 160.0,353.8 160.7,353.8 161.5,353.8 162.2,353.8 162.9,353.8 163.7,353.8 164.4,353.8 165.2,353.8 165.9,353.8 166.7,353.8 167.4,353.8 168.2,353.8 168.9,353.8 169.6,353.8 170.4,353.8 171.1,353.8 171.9,353.8 172.6,353.8 173.4,353.8 174.1,353.8 174.8,353.8 175.6,353.8 176.3,353.8 177.1,353.8 177.8,353.8 178.6,353.8 179.3,353.8 180.1,353.8 180.8,353.8"/>
<polyline fill="none" stroke="#000000" stroke-width="1.25" stroke-linejoin="round" points="50.6,317.1 51.3,319.7 52.1,322.3 52.8,324.9 53.6,327.3 54.3,329.6 55.1,331.8 55.8,333.8 56.6,335.6 57.3,337.1 58.0,338.3 58.8,339.2 59.5,339.7 60.3,339.9 61.0,339.6 61.8,339.0 62.5,338.1 63.2,337.0 64.0,335.7 64.7,334.3 65.5,332.7 66.2,331.2 67.0,329.6 67.7,328.1 68.5,326.7 69.2,325.4 69.9,324.1 70.7,322.9 71.4,321.6 72.2,320.4 72.9,319.2 73.7,317.9 74.4,316.5 75.2,315.1 75.9,313.6 76.6,311.9 77.4,310.2 78.1,308.2 78.9,306.2 79.6,304.1 80.4,301.9 81.1,299.7 81.8,297.5 82.6,295.3 83.3,293.1 84.1,291.1 84.8,289.1 85.6,287.2 86.3,285.6 87.1,284.0 87.8,282.6 88.5,281.4 89.3,280.4 90.0,279.6 90.8,278.9 91.5,278.4 92.3,278.1 93.0,278.0 93.8,278.2 94.5,278.6 95.2,279.2 96.0,280.1 96.7,281.2 97.5,282.7 98.2,284.4 99.0,286.3 99.7,288.3 100.4,290.5 101.2,292.7 101.9,294.8 102.7,296.9 103.4,298.9 104.2,300.8 104.9,302.6 105.7,304.3 106.4,306.0 107.1,307.6 107.9,309.3 108.6,310.9 109.4,312.6 110.1,314.4 110.9,316.2 111.6,318.1 112.4,320.1 113.1,322.1 113.8,324.3 114.6,326.4 115.3,328.5 116.1,330.6 116.8,332.7 117.6,334.7 118.3,336.6 119.0,338.5 119.8,340.2 120.5,341.8 121.3,343.4 122.0,344.8 122.8,346.1 123.5,347.3 124.3,348.4 125.0,349.4 125.7,350.3 126.5,351.0 127.2,351.7 128.0,352.2 128.7,352.7 129.5,353.0 130.2,353.3 131.0,353.5 131.7,353.7 132.4,353.8 133.2,353.8 133.9,353.8 134.7,353.8 135.4,353.8 136.2,353.8 136.9,353.8 137.6,353.7 138.4,353.7 139.1,353.7 139.9,353.7 140.6,353.6 141.4,353.6 142.1,353.6 142.9,353.6 143.6,353.6 144.3,353.5 145.1,353.5 145.8,353.5 146.6,353.5 147.3,353.5 148.1,353.5 148.8,353.5 149.6,353.5 150.3,353.4 151.0,353.4 151.8,353.4 152.5,353.4 153.3,353.4 154.0,353.4 154.8,353.4 155.5,353.4 156.2,353.4 157.0,353.4 157.7,353.4 158.5,353.4 159.2,353.4 160.0,353.4 160.7,353.4 161.5,353.5 162.2,353.5 162.9,353.5 163.7,353.5 164.4,353.5 165.2,353.5 165.9,353.5 166.7,353.5 167.4,353.5 168.2,353.5 168.9,353.6 169.6,353.6 170.4,353.6 171.1,353.6 171.9,353.6 172.6,353.6 173.4,353.6 174.1,353.7 174.8,353.7 175.6,353.7 176.3,353.7 177.1,353.7 177.8,353.7 178.6,353.8 179.3,353.8 180.1,353.8 180.8,353.8"/>
<polyline fill="none" stroke="#000000" stroke-width="1.30" stroke-linejoin="round" points="245.3,353.8 246.0,353.8 246.8,353.8 247.5,353.8 248.3,353.8 249.0,353.8 249.8,353.8 250.5,353.8 251.3,353.8 252.0,353.8 252.8,353.8 253.5,353.8 254.3,353.8 255.0,353.7 255.8,353.7 256.5,353.7 257.3,353.7 258.0,353.6 258.8,353.6 259.5,353.6 260.3,353.5 261.0,353.4 261.8,353.4 262.5,353.3 263.3,353.1 264.0,353.0 264.8,352.8 265.5,352.6 266.3,352.4 267.0,352.1 267.8,351.8 268.5,351.5 269.3,351.0 270.0,350.6 270.8,350.0 271.5,349.4 272.2,348.7 273.0,347.9 273.7,347.0 274.5,346.0 275.2,344.8 276.0,343.6 276.7,342.3 277.5,340.8 278.2,339.2 279.0,337.4 279.7,335.5 280.5,333.5 281.2,331.4 282.0,329.1 282.7,326.7 283.5,324.2 284.2,321.5 285.0,318.8 285.7,316.1 286.5,313.2 287.2,310.3 288.0,307.4 288.7,304.5 289.5,301.7 290.2,298.9 291.0,296.2 291.7,293.6 292.5,291.1 293.2,288.8 294.0,286.6 294.7,284.7 295.5,283.0 296.2,281.6 297.0,280.4 297.7,279.5 298.4,278.9 299.2,278.6 299.9,278.6 300.7,278.8 301.4,279.4 302.2,280.1 302.9,281.1 303.7,282.4 304.4,283.9 305.2,285.5 305.9,287.4 306.7,289.4 307.4,291.6 308.2,293.9 308.9,296.4 309.7,298.9 310.4,301.5 311.2,304.1 311.9,306.8 312.7,309.5 313.4,312.2 314.2,314.8 314.9,317.4 315.7,320.0 316.4,322.5 317.2,324.9 317.9,327.2 318.7,329.4 319.4,331.5 320.2,333.5 320.9,335.3 321.7,337.1 322.4,338.8 323.2,340.3 323.9,341.7 324.6,343.0 325.4,344.2 326.1,345.3 326.9,346.3 327.6,347.2 328.4,348.0 329.1,348.7 329.9,349.4 330.6,350.0 331.4,350.5 332.1,351.0 332.9,351.4 333.6,351.7 334.4,352.0 335.1,352.3 335.9,352.5 336.6,352.7 337.4,352.9 338.1,353.0 338.9,353.2 339.6,353.3 340.4,353.4 341.1,353.4 341.9,353.5 342.6,353.6 343.4,353.6 344.1,353.6 344.9,353.7 345.6,353.7 346.4,353.7 347.1,353.7 347.9,353.7 348.6,353.8 349.4,353.8 350.1,353.8 350.8,353.8 351.6,353.8 352.3,353.8 353.1,353.8 353.8,353.8 354.6,353.8 355.3,353.8 356.1,353.8 356.8,353.8 357.6,353.8 358.3,353.8 359.1,353.8 359.8,353.8 360.6,353.8 361.3,353.8 362.1,353.8 362.8,353.8 363.6,353.8 364.3,353.8 365.1,353.8 365.8,353.8 366.6,353.8 367.3,353.8 368.1,353.8 368.8,353.8 369.6,353.8 370.3,353.8 371.1,353.8 371.8,353.8 372.6,353.8 373.3,353.8 374.1,353.8 374.8,353.8 375.6,353.8 376.3,353.8"/>
<polyline fill="none" stroke="#3a7a98" stroke-width="1.30" stroke-linejoin="round" points="245.3,353.8 246.0,353.8 246.8,353.8 247.5,353.8 248.3,353.8 249.0,353.8 249.8,353.8 250.5,353.8 251.3,353.8 252.0,353.8 252.8,353.8 253.5,353.8 254.3,353.8 255.0,353.8 255.8,353.8 256.5,353.8 257.3,353.8 258.0,353.8 258.8,353.8 259.5,353.8 260.3,353.8 261.0,353.8 261.8,353.8 262.5,353.8 263.3,353.8 264.0,353.8 264.8,353.8 265.5,353.8 266.3,353.8 267.0,353.8 267.8,353.8 268.5,353.8 269.3,353.8 270.0,353.8 270.8,353.8 271.5,353.8 272.2,353.8 273.0,353.8 273.7,353.8 274.5,353.8 275.2,353.8 276.0,353.8 276.7,353.8 277.5,353.8 278.2,353.8 279.0,353.8 279.7,353.8 280.5,353.8 281.2,353.8 282.0,353.8 282.7,353.8 283.5,353.8 284.2,353.8 285.0,353.8 285.7,353.8 286.5,353.8 287.2,353.8 288.0,353.8 288.7,353.8 289.5,353.7 290.2,353.7 291.0,353.7 291.7,353.7 292.5,353.7 293.2,353.7 294.0,353.7 294.7,353.7 295.5,353.6 296.2,353.6 297.0,353.6 297.7,353.6 298.4,353.6 299.2,353.5 299.9,353.5 300.7,353.5 301.4,353.5 302.2,353.5 302.9,353.4 303.7,353.4 304.4,353.4 305.2,353.4 305.9,353.4 306.7,353.3 307.4,353.3 308.2,353.3 308.9,353.3 309.7,353.3 310.4,353.3 311.2,353.3 311.9,353.3 312.7,353.3 313.4,353.3 314.2,353.3 314.9,353.3 315.7,353.3 316.4,353.3 317.2,353.3 317.9,353.3 318.7,353.4 319.4,353.4 320.2,353.4 320.9,353.4 321.7,353.4 322.4,353.5 323.2,353.5 323.9,353.5 324.6,353.5 325.4,353.5 326.1,353.6 326.9,353.6 327.6,353.6 328.4,353.6 329.1,353.6 329.9,353.7 330.6,353.7 331.4,353.7 332.1,353.7 332.9,353.7 333.6,353.7 334.4,353.7 335.1,353.7 335.9,353.7 336.6,353.8 337.4,353.8 338.1,353.8 338.9,353.8 339.6,353.8 340.4,353.8 341.1,353.8 341.9,353.8 342.6,353.8 343.4,353.8 344.1,353.8 344.9,353.8 345.6,353.8 346.4,353.8 347.1,353.8 347.9,353.8 348.6,353.8 349.4,353.8 350.1,353.8 350.8,353.8 351.6,353.8 352.3,353.8 353.1,353.8 353.8,353.8 354.6,353.8 355.3,353.8 356.1,353.8 356.8,353.8 357.6,353.8 358.3,353.8 359.1,353.8 359.8,353.8 360.6,353.8 361.3,353.8 362.1,353.8 362.8,353.8 363.6,353.8 364.3,353.8 365.1,353.8 365.8,353.8 366.6,353.8 367.3,353.8 368.1,353.8 368.8,353.8 369.6,353.8 370.3,353.8 371.1,353.8 371.8,353.8 372.6,353.8 373.3,353.8 374.1,353.8 374.8,353.8 375.6,353.8 376.3,353.8"/>
<polyline fill="none" stroke="#9a9a60" stroke-width="1.30" stroke-linejoin="round" points="245.3,353.8 246.0,353.8 246.8,353.8 247.5,353.8 248.3,353.8 249.0,353.8 249.8,353.8 250.5,353.8 251.3,353.8 252.0,353.8 252.8,353.8 253.5,353.8 254.3,353.8 255.0,353.8 255.8,353.8 256.5,353.8 257.3,353.8 258.0,353.8 258.8,353.8 259.5,353.8 260.3,353.8 261.0,353.8 261.8,353.8 262.5,353.8 263.3,353.8 264.0,353.8 264.8,353.8 265.5,353.8 266.3,353.8 267.0,353.8 267.8,353.8 268.5,353.8 269.3,353.8 270.0,353.8 270.8,353.8 271.5,353.8 272.2,353.8 273.0,353.8 273.7,353.8 274.5,353.8 275.2,353.8 276.0,353.8 276.7,353.8 277.5,353.8 278.2,353.8 279.0,353.8 279.7,353.8 280.5,353.8 281.2,353.8 282.0,353.8 282.7,353.8 283.5,353.8 284.2,353.8 285.0,353.8 285.7,353.8 286.5,353.8 287.2,353.8 288.0,353.8 288.7,353.8 289.5,353.7 290.2,353.7 291.0,353.7 291.7,353.7 292.5,353.7 293.2,353.7 294.0,353.7 294.7,353.7 295.5,353.6 296.2,353.6 297.0,353.6 297.7,353.6 298.4,353.6 299.2,353.5 299.9,353.5 300.7,353.5 301.4,353.5 302.2,353.5 302.9,353.4 303.7,353.4 304.4,353.4 305.2,353.4 305.9,353.4 306.7,353.3 307.4,353.3 308.2,353.3 308.9,353.3 309.7,353.3 310.4,353.3 311.2,353.3 311.9,353.3 312.7,353.3 313.4,353.3 314.2,353.3 314.9,353.3 315.7,353.3 316.4,353.3 317.2,353.3 317.9,353.3 318.7,353.4 319.4,353.4 320.2,353.4 320.9,353.4 321.7,353.4 322.4,353.5 323.2,353.5 323.9,353.5 324.6,353.5 325.4,353.5 326.1,353.6 326.9,353.6 327.6,353.6 328.4,353.6 329.1,353.6 329.9,353.7 330.6,353.7 331.4,353.7 332.1,353.7 332.9,353.7 333.6,353.7 334.4,353.7 335.1,353.7 335.9,353.7 336.6,353.8 337.4,353.8 338.1,353.8 338.9,353.8 339.6,353.8 340.4,353.8 341.1,353.8 341.9,353.8 342.6,353.8 343.4,353.8 344.1,353.8 344.9,353.8 345.6,353.8 346.4,353.8 347.1,353.8 347.9,353.8 348.6,353.8 349.4,353.8 350.1,353.8 350.8,353.8 351.6,353.8 352.3,353.8 353.1,353.8 353.8,353.8 354.6,353.8 355.3,353.8 356.1,353.8 356.8,353.8 357.6,353.8 358.3,353.8 359.1,353.8 359.8,353.8 360.6,353.8 361.3,353.8 362.1,353.8 362.8,353.8 363.6,353.8 364.3,353.8 365.1,353.8 365.8,353.8 366.6,353.8 367.3,353.8 368.1,353.8 368.8,353.8 369.6,353.8 370.3,353.8 371.1,353.8 371.8,353.8 372.6,353.8 373.3,353.8 374.1,353.8 374.8,353.8 375.6,353.8 376.3,353.8"/>
<polyline fill="none" stroke="#a02050" stroke-width="1.30" stroke-linejoin="round" points="245.3,353.8 246.0,353.8 246.8,353.8 247.5,353.8 248.3,353.8 249.0,353.8 249.8,353.8 250.5,353.8 251.3,353.8 252.0,353.8 252.8,353.8 253.5,353.8 254.3,353.8 255.0,353.8 255.8,353.8 256.5,353.8 257.3,353.8 258.0,353.8 258.8,353.8 259.5,353.8 260.3,353.8 261.0,353.8 261.8,353.8 262.5,353.8 263.3,353.8 264.0,353.8 264.8,353.8 265.5,353.8 266.3,353.8 267.0,353.8 267.8,353.8 268.5,353.8 269.3,353.8 270.0,353.8 270.8,353.8 271.5,353.8 272.2,353.8 273.0,353.8 273.7,353.8 274.5,353.8 275.2,353.8 276.0,353.8 276.7,353.8 277.5,353.8 278.2,353.8 279.0,353.8 279.7,353.8 280.5,353.8 281.2,353.8 282.0,353.8 282.7,353.8 283.5,353.8 284.2,353.8 285.0,353.8 285.7,353.8 286.5,353.8 287.2,353.8 288.0,353.8 288.7,353.7 289.5,353.7 290.2,353.7 291.0,353.7 291.7,353.7 292.5,353.7 293.2,353.7 294.0,353.6 294.7,353.6 295.5,353.6 296.2,353.6 297.0,353.6 297.7,353.5 298.4,353.5 299.2,353.5 299.9,353.5 300.7,353.4 301.4,353.4 302.2,353.4 302.9,353.3 303.7,353.3 304.4,353.3 305.2,353.3 305.9,353.2 306.7,353.2 307.4,353.2 308.2,353.2 308.9,353.2 309.7,353.2 310.4,353.2 311.2,353.1 311.9,353.1 312.7,353.1 313.4,353.2 314.2,353.2 314.9,353.2 315.7,353.2 316.4,353.2 317.2,353.2 317.9,353.2 318.7,353.3 319.4,353.3 320.2,353.3 320.9,353.3 321.7,353.4 322.4,353.4 323.2,353.4 323.9,353.4 324.6,353.5 325.4,353.5 326.1,353.5 326.9,353.5 327.6,353.6 328.4,353.6 329.1,353.6 329.9,353.6 330.6,353.6 331.4,353.7 332.1,353.7 332.9,353.7 333.6,353.7 334.4,353.7 335.1,353.7 335.9,353.7 336.6,353.7 337.4,353.7 338.1,353.8 338.9,353.8 339.6,353.8 340.4,353.8 341.1,353.8 341.9,353.8 342.6,353.8 343.4,353.8 344.1,353.8 344.9,353.8 345.6,353.8 346.4,353.8 347.1,353.8 347.9,353.8 348.6,353.8 349.4,353.8 350.1,353.8 350.8,353.8 351.6,353.8 352.3,353.8 353.1,353.8 353.8,353.8 354.6,353.8 355.3,353.8 356.1,353.8 356.8,353.8 357.6,353.8 358.3,353.8 359.1,353.8 359.8,353.8 360.6,353.8 361.3,353.8 362.1,353.8 362.8,353.8 363.6,353.8 364.3,353.8 365.1,353.8 365.8,353.8 366.6,353.8 367.3,353.8 368.1,353.8 368.8,353.8 369.6,353.8 370.3,353.8 371.1,353.8 371.8,353.8 372.6,353.8 373.3,353.8 374.1,353.8 374.8,353.8 375.6,353.8 376.3,353.8"/>
<polyline fill="none" stroke="#8a30c8" stroke-width="1.30" stroke-linejoin="round" points="245.3,353.8 246.0,353.8 246.8,353.8 247.5,353.8 248.3,353.8 249.0,353.8 249.8,353.8 250.5,353.8 251.3,353.8 252.0,353.8 252.8,353.8 253.5,353.8 254.3,353.8 255.0,353.8 255.8,353.8 256.5,353.8 257.3,353.8 258.0,353.8 258.8,353.8 259.5,353.8 260.3,353.8 261.0,353.8 261.8,353.8 262.5,353.8 263.3,353.8 264.0,353.8 264.8,353.8 265.5,353.8 266.3,353.8 267.0,353.8 267.8,353.8 268.5,353.8 269.3,353.8 270.0,353.8 270.8,353.8 271.5,353.8 272.2,353.8 273.0,353.8 273.7,353.8 274.5,353.8 275.2,353.8 276.0,353.8 276.7,353.8 277.5,353.8 278.2,353.8 279.0,353.8 279.7,353.8 280.5,353.8 281.2,353.8 282.0,353.8 282.7,353.8 283.5,353.8 284.2,353.8 285.0,353.8 285.7,353.8 286.5,353.8 287.2,353.8 288.0,353.8 288.7,353.7 289.5,353.7 290.2,353.7 291.0,353.7 291.7,353.7 292.5,353.7 293.2,353.7 294.0,353.6 294.7,353.6 295.5,353.6 296.2,353.6 297.0,353.6 297.7,353.5 298.4,353.5 299.2,353.5 299.9,353.5 300.7,353.4 301.4,353.4 302.2,353.4 302.9,353.3 303.7,353.3 304.4,353.3 305.2,353.3 305.9,353.2 306.7,353.2 307.4,353.2 308.2,353.2 308.9,353.2 309.7,353.2 310.4,353.2 311.2,353.1 311.9,353.1 312.7,353.1 313.4,353.2 314.2,353.2 314.9,353.2 315.7,353.2 316.4,353.2 317.2,353.2 317.9,353.2 318.7,353.3 319.4,353.3 320.2,353.3 320.9,353.3 321.7,353.4 322.4,353.4 323.2,353.4 323.9,353.4 324.6,353.5 325.4,353.5 326.1,353.5 326.9,353.5 327.6,353.6 328.4,353.6 329.1,353.6 329.9,353.6 330.6,353.6 331.4,353.7 332.1,353.7 332.9,353.7 333.6,353.7 334.4,353.7 335.1,353.7 335.9,353.7 336.6,353.7 337.4,353.7 338.1,353.8 338.9,353.8 339.6,353.8 340.4,353.8 341.1,353.8 341.9,353.8 342.6,353.8 343.4,353.8 344.1,353.8 344.9,353.8 345.6,353.8 346.4,353.8 347.1,353.8 347.9,353.8 348.6,353.8 349.4,353.8 350.1,353.8 350.8,353.8 351.6,353.8 352.3,353.8 353.1,353.8 353.8,353.8 354.6,353.8 355.3,353.8 356.1,353.8 356.8,353.8 357.6,353.8 358.3,353.8 359.1,353.8 359.8,353.8 360.6,353.8 361.3,353.8 362.1,353.8 362.8,353.8 363.6,353.8 364.3,353.8 365.1,353.8 365.8,353.8 366.6,353.8 367.3,353.8 368.1,353.8 368.8,353.8 369.6,353.8 370.3,353.8 371.1,353.8 371.8,353.8 372.6,353.8 373.3,353.8 374.1,353.8 374.8,353.8 375.6,353.8 376.3,353.8"/>
<polyline fill="none" stroke="#9020c0" stroke-width="1.30" stroke-linejoin="round" points="245.3,353.8 246.0,353.8 246.8,353.8 247.5,353.8 248.3,353.8 249.0,353.8 249.8,353.8 250.5,353.8 251.3,353.8 252.0,353.8 252.8,353.8 253.5,353.8 254.3,353.8 255.0,353.8 255.8,353.8 256.5,353.8 257.3,353.8 258.0,353.8 258.8,353.8 259.5,353.8 260.3,353.8 261.0,353.8 261.8,353.8 262.5,353.8 263.3,353.8 264.0,353.8 264.8,353.8 265.5,353.8 266.3,353.8 267.0,353.8 267.8,353.8 268.5,353.8 269.3,353.8 270.0,353.8 270.8,353.8 271.5,353.8 272.2,353.8 273.0,353.8 273.7,353.8 274.5,353.8 275.2,353.8 276.0,353.8 276.7,353.8 277.5,353.8 278.2,353.8 279.0,353.8 279.7,353.8 280.5,353.8 281.2,353.8 282.0,353.8 282.7,353.8 283.5,353.8 284.2,353.8 285.0,353.8 285.7,353.8 286.5,353.8 287.2,353.8 288.0,353.7 288.7,353.7 289.5,353.7 290.2,353.7 291.0,353.7 291.7,353.7 292.5,353.7 293.2,353.6 294.0,353.6 294.7,353.6 295.5,353.6 296.2,353.5 297.0,353.5 297.7,353.5 298.4,353.5 299.2,353.4 299.9,353.4 300.7,353.4 301.4,353.3 302.2,353.3 302.9,353.3 303.7,353.2 304.4,353.2 305.2,353.2 305.9,353.1 306.7,353.1 307.4,353.1 308.2,353.1 308.9,353.0 309.7,353.0 310.4,353.0 311.2,353.0 311.9,353.0 312.7,353.0 313.4,353.0 314.2,353.0 314.9,353.0 315.7,353.1 316.4,353.1 317.2,353.1 317.9,353.1 318.7,353.1 319.4,353.2 320.2,353.2 320.9,353.2 321.7,353.3 322.4,353.3 323.2,353.3 323.9,353.4 324.6,353.4 325.4,353.4 326.1,353.4 326.9,353.5 327.6,353.5 328.4,353.5 329.1,353.6 329.9,353.6 330.6,353.6 331.4,353.6 332.1,353.6 332.9,353.7 333.6,353.7 334.4,353.7 335.1,353.7 335.9,353.7 336.6,353.7 337.4,353.7 338.1,353.7 338.9,353.8 339.6,353.8 340.4,353.8 341.1,353.8 341.9,353.8 342.6,353.8 343.4,353.8 344.1,353.8 344.9,353.8 345.6,353.8 346.4,353.8 347.1,353.8 347.9,353.8 348.6,353.8 349.4,353.8 350.1,353.8 350.8,353.8 351.6,353.8 352.3,353.8 353.1,353.8 353.8,353.8 354.6,353.8 355.3,353.8 356.1,353.8 356.8,353.8 357.6,353.8 358.3,353.8 359.1,353.8 359.8,353.8 360.6,353.8 361.3,353.8 362.1,353.8 362.8,353.8 363.6,353.8 364.3,353.8 365.1,353.8 365.8,353.8 366.6,353.8 367.3,353.8 368.1,353.8 368.8,353.8 369.6,353.8 370.3,353.8 371.1,353.8 371.8,353.8 372.6,353.8 373.3,353.8 374.1,353.8 374.8,353.8 375.6,353.8 376.3,353.8"/>
<polyline fill="none" stroke="#1f9a50" stroke-width="1.30" stroke-linejoin="round" points="245.3,353.8 246.0,353.8 246.8,353.8 247.5,353.8 248.3,353.8 249.0,353.8 249.8,353.8 250.5,353.8 251.3,353.8 252.0,353.8 252.8,353.8 253.5,353.8 254.3,353.8 255.0,353.8 255.8,353.8 256.5,353.8 257.3,353.8 258.0,353.8 258.8,353.8 259.5,353.8 260.3,353.8 261.0,353.8 261.8,353.8 262.5,353.8 263.3,353.8 264.0,353.8 264.8,353.8 265.5,353.8 266.3,353.8 267.0,353.8 267.8,353.8 268.5,353.8 269.3,353.8 270.0,353.8 270.8,353.8 271.5,353.8 272.2,353.8 273.0,353.8 273.7,353.8 274.5,353.8 275.2,353.8 276.0,353.8 276.7,353.8 277.5,353.8 278.2,353.8 279.0,353.8 279.7,353.8 280.5,353.8 281.2,353.8 282.0,353.8 282.7,353.8 283.5,353.8 284.2,353.8 285.0,353.8 285.7,353.8 286.5,353.8 287.2,353.7 288.0,353.7 288.7,353.7 289.5,353.7 290.2,353.7 291.0,353.7 291.7,353.7 292.5,353.6 293.2,353.6 294.0,353.6 294.7,353.6 295.5,353.5 296.2,353.5 297.0,353.5 297.7,353.4 298.4,353.4 299.2,353.4 299.9,353.3 300.7,353.3 301.4,353.2 302.2,353.2 302.9,353.2 303.7,353.1 304.4,353.1 305.2,353.1 305.9,353.0 306.7,353.0 307.4,353.0 308.2,352.9 308.9,352.9 309.7,352.9 310.4,352.9 311.2,352.9 311.9,352.9 312.7,352.9 313.4,352.9 314.2,352.9 314.9,352.9 315.7,352.9 316.4,353.0 317.2,353.0 317.9,353.0 318.7,353.0 319.4,353.1 320.2,353.1 320.9,353.1 321.7,353.2 322.4,353.2 323.2,353.2 323.9,353.3 324.6,353.3 325.4,353.4 326.1,353.4 326.9,353.4 327.6,353.5 328.4,353.5 329.1,353.5 329.9,353.5 330.6,353.6 331.4,353.6 332.1,353.6 332.9,353.6 333.6,353.7 334.4,353.7 335.1,353.7 335.9,353.7 336.6,353.7 337.4,353.7 338.1,353.7 338.9,353.7 339.6,353.8 340.4,353.8 341.1,353.8 341.9,353.8 342.6,353.8 343.4,353.8 344.1,353.8 344.9,353.8 345.6,353.8 346.4,353.8 347.1,353.8 347.9,353.8 348.6,353.8 349.4,353.8 350.1,353.8 350.8,353.8 351.6,353.8 352.3,353.8 353.1,353.8 353.8,353.8 354.6,353.8 355.3,353.8 356.1,353.8 356.8,353.8 357.6,353.8 358.3,353.8 359.1,353.8 359.8,353.8 360.6,353.8 361.3,353.8 362.1,353.8 362.8,353.8 363.6,353.8 364.3,353.8 365.1,353.8 365.8,353.8 366.6,353.8 367.3,353.8 368.1,353.8 368.8,353.8 369.6,353.8 370.3,353.8 371.1,353.8 371.8,353.8 372.6,353.8 373.3,353.8 374.1,353.8 374.8,353.8 375.6,353.8 376.3,353.8"/>
<polyline fill="none" stroke="#ff1a8c" stroke-width="1.30" stroke-linejoin="round" points="245.3,353.8 246.0,353.8 246.8,353.8 247.5,353.8 248.3,353.8 249.0,353.8 249.8,353.8 250.5,353.8 251.3,353.8 252.0,353.8 252.8,353.8 253.5,353.8 254.3,353.8 255.0,353.8 255.8,353.8 256.5,353.8 257.3,353.8 258.0,353.8 258.8,353.8 259.5,353.8 260.3,353.8 261.0,353.8 261.8,353.8 262.5,353.8 263.3,353.8 264.0,353.8 264.8,353.8 265.5,353.8 266.3,353.8 267.0,353.8 267.8,353.8 268.5,353.8 269.3,353.8 270.0,353.8 270.8,353.8 271.5,353.8 272.2,353.8 273.0,353.8 273.7,353.8 274.5,353.8 275.2,353.8 276.0,353.8 276.7,353.8 277.5,353.8 278.2,353.8 279.0,353.8 279.7,353.8 280.5,353.8 281.2,353.8 282.0,353.8 282.7,353.8 283.5,353.8 284.2,353.8 285.0,353.8 285.7,353.8 286.5,353.7 287.2,353.7 288.0,353.7 288.7,353.7 289.5,353.7 290.2,353.7 291.0,353.7 291.7,353.6 292.5,353.6 293.2,353.6 294.0,353.6 294.7,353.5 295.5,353.5 296.2,353.5 297.0,353.4 297.7,353.4 298.4,353.3 299.2,353.3 299.9,353.3 300.7,353.2 301.4,353.2 302.2,353.1 302.9,353.1 303.7,353.0 304.4,353.0 305.2,352.9 305.9,352.9 306.7,352.9 307.4,352.8 308.2,352.8 308.9,352.8 309.7,352.8 310.4,352.8 311.2,352.8 311.9,352.8 312.7,352.8 313.4,352.8 314.2,352.8 314.9,352.8 315.7,352.8 316.4,352.8 317.2,352.9 317.9,352.9 318.7,352.9 319.4,353.0 320.2,353.0 320.9,353.0 321.7,353.1 322.4,353.1 323.2,353.2 323.9,353.2 324.6,353.2 325.4,353.3 326.1,353.3 326.9,353.4 327.6,353.4 328.4,353.4 329.1,353.5 329.9,353.5 330.6,353.5 331.4,353.6 332.1,353.6 332.9,353.6 333.6,353.6 334.4,353.7 335.1,353.7 335.9,353.7 336.6,353.7 337.4,353.7 338.1,353.7 338.9,353.7 339.6,353.8 340.4,353.8 341.1,353.8 341.9,353.8 342.6,353.8 343.4,353.8 344.1,353.8 344.9,353.8 345.6,353.8 346.4,353.8 347.1,353.8 347.9,353.8 348.6,353.8 349.4,353.8 350.1,353.8 350.8,353.8 351.6,353.8 352.3,353.8 353.1,353.8 353.8,353.8 354.6,353.8 355.3,353.8 356.1,353.8 356.8,353.8 357.6,353.8 358.3,353.8 359.1,353.8 359.8,353.8 360.6,353.8 361.3,353.8 362.1,353.8 362.8,353.8 363.6,353.8 364.3,353.8 365.1,353.8 365.8,353.8 366.6,353.8 367.3,353.8 368.1,353.8 368.8,353.8 369.6,353.8 370.3,353.8 371.1,353.8 371.8,353.8 372.6,353.8 373.3,353.8 374.1,353.8 374.8,353.8 375.6,353.8 376.3,353.8"/>
<polyline fill="none" stroke="#ff1a1a" stroke-width="1.30" stroke-linejoin="round" points="245.3,353.8 246.0,353.8 246.8,353.8 247.5,353.8 248.3,353.8 249.0,353.8 249.8,353.8 250.5,353.8 251.3,353.8 252.0,353.8 252.8,353.8 253.5,353.8 254.3,353.8 255.0,353.8 255.8,353.8 256.5,353.8 257.3,353.8 258.0,353.8 258.8,353.8 259.5,353.8 260.3,353.8 261.0,353.8 261.8,353.8 262.5,353.8 263.3,353.8 264.0,353.8 264.8,353.8 265.5,353.8 266.3,353.8 267.0,353.8 267.8,353.8 268.5,353.8 269.3,353.8 270.0,353.8 270.8,353.8 271.5,353.8 272.2,353.8 273.0,353.8 273.7,353.8 274.5,353.8 275.2,353.8 276.0,353.8 276.7,353.8 277.5,353.8 278.2,353.8 279.0,353.8 279.7,353.7 280.5,353.7 281.2,353.7 282.0,353.7 282.7,353.7 283.5,353.7 284.2,353.6 285.0,353.6 285.7,353.6 286.5,353.5 287.2,353.5 288.0,353.5 288.7,353.4 289.5,353.4 290.2,353.3 291.0,353.3 291.7,353.2 292.5,353.1 293.2,353.0 294.0,353.0 294.7,352.9 295.5,352.8 296.2,352.7 297.0,352.6 297.7,352.5 298.4,352.4 299.2,352.3 299.9,352.2 300.7,352.1 301.4,352.0 302.2,351.8 302.9,351.8 303.7,351.7 304.4,351.6 305.2,351.5 305.9,351.4 306.7,351.4 307.4,351.3 308.2,351.3 308.9,351.2 309.7,351.2 310.4,351.2 311.2,351.2 311.9,351.2 312.7,351.2 313.4,351.2 314.2,351.3 314.9,351.3 315.7,351.4 316.4,351.4 317.2,351.5 317.9,351.6 318.7,351.6 319.4,351.7 320.2,351.8 320.9,351.9 321.7,352.0 322.4,352.1 323.2,352.2 323.9,352.3 324.6,352.4 325.4,352.4 326.1,352.5 326.9,352.6 327.6,352.7 328.4,352.8 329.1,352.9 329.9,353.0 330.6,353.0 331.4,353.1 332.1,353.2 332.9,353.2 333.6,353.3 334.4,353.3 335.1,353.4 335.9,353.4 336.6,353.5 337.4,353.5 338.1,353.5 338.9,353.6 339.6,353.6 340.4,353.6 341.1,353.6 341.9,353.7 342.6,353.7 343.4,353.7 344.1,353.7 344.9,353.7 345.6,353.7 346.4,353.7 347.1,353.8 347.9,353.8 348.6,353.8 349.4,353.8 350.1,353.8 350.8,353.8 351.6,353.8 352.3,353.8 353.1,353.8 353.8,353.8 354.6,353.8 355.3,353.8 356.1,353.8 356.8,353.8 357.6,353.8 358.3,353.8 359.1,353.8 359.8,353.8 360.6,353.8 361.3,353.8 362.1,353.8 362.8,353.8 363.6,353.8 364.3,353.8 365.1,353.8 365.8,353.8 366.6,353.8 367.3,353.8 368.1,353.8 368.8,353.8 369.6,353.8 370.3,353.8 371.1,353.8 371.8,353.8 372.6,353.8 373.3,353.8 374.1,353.8 374.8,353.8 375.6,353.8 376.3,353.8"/>
<polyline fill="none" stroke="#1a2a9a" stroke-width="1.30" stroke-linejoin="round" points="245.3,353.8 246.0,353.8 246.8,353.8 247.5,353.8 248.3,353.8 249.0,353.8 249.8,353.8 250.5,353.8 251.3,353.8 252.0,353.8 252.8,353.8 253.5,353.8 254.3,353.8 255.0,353.8 255.8,353.8 256.5,353.8 257.3,353.8 258.0,353.8 258.8,353.8 259.5,353.8 260.3,353.8 261.0,353.8 261.8,353.8 262.5,353.8 263.3,353.8 264.0,353.8 264.8,353.8 265.5,353.8 266.3,353.8 267.0,353.8 267.8,353.8 268.5,353.8 269.3,353.8 270.0,353.8 270.8,353.8 271.5,353.8 272.2,353.8 273.0,353.8 273.7,353.8 274.5,353.8 275.2,353.8 276.0,353.8 276.7,353.8 277.5,353.8 278.2,353.8 279.0,353.8 279.7,353.8 280.5,353.8 281.2,353.8 282.0,353.8 282.7,353.8 283.5,353.8 284.2,353.8 285.0,353.8 285.7,353.7 286.5,353.7 287.2,353.7 288.0,353.7 288.7,353.7 289.5,353.7 290.2,353.7 291.0,353.6 291.7,353.6 292.5,353.6 293.2,353.6 294.0,353.5 294.7,353.5 295.5,353.5 296.2,353.4 297.0,353.4 297.7,353.3 298.4,353.3 299.2,353.2 299.9,353.2 300.7,353.1 301.4,353.1 302.2,353.0 302.9,353.0 303.7,352.9 304.4,352.9 305.2,352.8 305.9,352.8 306.7,352.8 307.4,352.7 308.2,352.7 308.9,352.7 309.7,352.6 310.4,352.6 311.2,352.6 311.9,352.6 312.7,352.6 313.4,352.6 314.2,352.6 314.9,352.7 315.7,352.7 316.4,352.7 317.2,352.7 317.9,352.8 318.7,352.8 319.4,352.9 320.2,352.9 320.9,352.9 321.7,353.0 322.4,353.0 323.2,353.1 323.9,353.1 324.6,353.2 325.4,353.2 326.1,353.3 326.9,353.3 327.6,353.4 328.4,353.4 329.1,353.4 329.9,353.5 330.6,353.5 331.4,353.5 332.1,353.6 332.9,353.6 333.6,353.6 334.4,353.6 335.1,353.7 335.9,353.7 336.6,353.7 337.4,353.7 338.1,353.7 338.9,353.7 339.6,353.7 340.4,353.8 341.1,353.8 341.9,353.8 342.6,353.8 343.4,353.8 344.1,353.8 344.9,353.8 345.6,353.8 346.4,353.8 347.1,353.8 347.9,353.8 348.6,353.8 349.4,353.8 350.1,353.8 350.8,353.8 351.6,353.8 352.3,353.8 353.1,353.8 353.8,353.8 354.6,353.8 355.3,353.8 356.1,353.8 356.8,353.8 357.6,353.8 358.3,353.8 359.1,353.8 359.8,353.8 360.6,353.8 361.3,353.8 362.1,353.8 362.8,353.8 363.6,353.8 364.3,353.8 365.1,353.8 365.8,353.8 366.6,353.8 367.3,353.8 368.1,353.8 368.8,353.8 369.6,353.8 370.3,353.8 371.1,353.8 371.8,353.8 372.6,353.8 373.3,353.8 374.1,353.8 374.8,353.8 375.6,353.8 376.3,353.8"/>
<polyline fill="none" stroke="#1a1aa8" stroke-width="1.30" stroke-linejoin="round" points="245.3,353.8 246.0,353.8 246.8,353.8 247.5,353.8 248.3,353.8 249.0,353.8 249.8,353.8 250.5,353.8 251.3,353.8 252.0,353.8 252.8,353.8 253.5,353.8 254.3,353.8 255.0,353.8 255.8,353.8 256.5,353.8 257.3,353.8 258.0,353.8 258.8,353.8 259.5,353.8 260.3,353.8 261.0,353.8 261.8,353.8 262.5,353.8 263.3,353.8 264.0,353.8 264.8,353.8 265.5,353.8 266.3,353.8 267.0,353.8 267.8,353.8 268.5,353.8 269.3,353.8 270.0,353.8 270.8,353.8 271.5,353.8 272.2,353.8 273.0,353.8 273.7,353.8 274.5,353.8 275.2,353.8 276.0,353.8 276.7,353.8 277.5,353.8 278.2,353.8 279.0,353.8 279.7,353.8 280.5,353.8 281.2,353.8 282.0,353.8 282.7,353.8 283.5,353.7 284.2,353.7 285.0,353.7 285.7,353.7 286.5,353.7 287.2,353.7 288.0,353.7 288.7,353.6 289.5,353.6 290.2,353.6 291.0,353.5 291.7,353.5 292.5,353.5 293.2,353.4 294.0,353.4 294.7,353.3 295.5,353.3 296.2,353.2 297.0,353.1 297.7,353.1 298.4,353.0 299.2,352.9 299.9,352.9 300.7,352.8 301.4,352.7 302.2,352.7 302.9,352.6 303.7,352.6 304.4,352.5 305.2,352.4 305.9,352.4 306.7,352.3 307.4,352.3 308.2,352.3 308.9,352.3 309.7,352.2 310.4,352.2 311.2,352.2 311.9,352.2 312.7,352.3 313.4,352.3 314.2,352.3 314.9,352.3 315.7,352.4 316.4,352.4 317.2,352.5 317.9,352.5 318.7,352.6 319.4,352.6 320.2,352.7 320.9,352.8 321.7,352.8 322.4,352.9 323.2,352.9 323.9,353.0 324.6,353.1 325.4,353.1 326.1,353.2 326.9,353.2 327.6,353.3 328.4,353.3 329.1,353.4 329.9,353.4 330.6,353.5 331.4,353.5 332.1,353.5 332.9,353.6 333.6,353.6 334.4,353.6 335.1,353.6 335.9,353.7 336.6,353.7 337.4,353.7 338.1,353.7 338.9,353.7 339.6,353.7 340.4,353.8 341.1,353.8 341.9,353.8 342.6,353.8 343.4,353.8 344.1,353.8 344.9,353.8 345.6,353.8 346.4,353.8 347.1,353.8 347.9,353.8 348.6,353.8 349.4,353.8 350.1,353.8 350.8,353.8 351.6,353.8 352.3,353.8 353.1,353.8 353.8,353.8 354.6,353.8 355.3,353.8 356.1,353.8 356.8,353.8 357.6,353.8 358.3,353.8 359.1,353.8 359.8,353.8 360.6,353.8 361.3,353.8 362.1,353.8 362.8,353.8 363.6,353.8 364.3,353.8 365.1,353.8 365.8,353.8 366.6,353.8 367.3,353.8 368.1,353.8 368.8,353.8 369.6,353.8 370.3,353.8 371.1,353.8 371.8,353.8 372.6,353.8 373.3,353.8 374.1,353.8 374.8,353.8 375.6,353.8 376.3,353.8"/></g>
<g><polyline fill="none" stroke="#000000" stroke-width="0.70" stroke-linejoin="round" points="320.5,176.6 320.9,176.6 321.2,176.6 321.6,176.6 321.9,176.6 322.3,176.6 322.7,176.6 323.0,176.6 323.4,176.6 323.8,176.6 324.1,176.6 324.5,176.6 324.8,176.6 325.2,176.6 325.6,176.6 325.9,176.6 326.3,176.6 326.6,176.6 327.0,176.6 327.4,176.6 327.7,176.6 328.1,176.6 328.5,176.6 328.8,176.6 329.2,176.6 329.5,176.6 329.9,176.6 330.3,176.6 330.6,176.6 331.0,176.6 331.4,176.6 331.7,176.6 332.1,176.6 332.4,176.6 332.8,176.6 333.2,176.6 333.5,176.6 333.9,176.6 334.2,176.6 334.6,176.6 335.0,176.6 335.3,176.6 335.7,176.6 336.1,176.6 336.4,176.6 336.8,176.6 337.1,176.6 337.5,176.6 337.9,176.6 338.2,176.6 338.6,176.6 338.9,176.6 339.3,176.6 339.7,176.6 340.0,176.6 340.4,176.6 340.8,176.6 341.1,176.6 341.5,176.6 341.8,176.6 342.2,176.6 342.6,176.6 342.9,176.6 343.3,176.6 343.7,176.6 344.0,176.6 344.4,176.6 344.7,176.6 345.1,176.6 345.5,176.6 345.8,176.6 346.2,176.6 346.5,176.6 346.9,176.6 347.3,176.6 347.6,176.6 348.0,176.6 348.4,176.6 348.7,176.6 349.1,176.6 349.4,176.6 349.8,176.6 350.2,176.6 350.5,176.6 350.9,176.6 351.2,176.6 351.6,176.6 352.0,176.6 352.3,176.6 352.7,176.6 353.1,176.6 353.4,176.6 353.8,176.6 354.1,176.6 354.5,176.6 354.9,176.6 355.2,176.6 355.6,176.6 355.9,176.6 356.3,176.6 356.7,176.6 357.0,176.6 357.4,176.6 357.8,176.6 358.1,176.6 358.5,176.6 358.8,176.6 359.2,176.6 359.6,176.6 359.9,176.6 360.3,176.6 360.7,176.6 361.0,176.6 361.4,176.6 361.7,176.6 362.1,176.6 362.5,176.6 362.8,176.6 363.2,176.6 363.5,176.6 363.9,176.6 364.3,176.6 364.6,176.6 365.0,176.6 365.4,176.6 365.7,176.6 366.1,176.6 366.4,176.6 366.8,176.6 367.2,176.6 367.5,176.6 367.9,176.6 368.2,176.6 368.6,176.6 369.0,176.6 369.3,176.6 369.7,176.6 370.1,176.6 370.4,176.6"/>
<polyline fill="none" stroke="#ff1a1a" stroke-width="0.70" stroke-linejoin="round" points="320.5,176.5 320.9,176.5 321.2,176.4 321.6,176.4 321.9,176.4 322.3,176.3 322.7,176.3 323.0,176.2 323.4,176.2 323.8,176.1 324.1,176.0 324.5,175.9 324.8,175.8 325.2,175.7 325.6,175.6 325.9,175.4 326.3,175.3 326.6,175.1 327.0,174.9 327.4,174.7 327.7,174.4 328.1,174.2 328.5,173.9 328.8,173.5 329.2,173.2 329.5,172.8 329.9,172.3 330.3,171.9 330.6,171.4 331.0,170.8 331.4,170.3 331.7,169.7 332.1,169.0 332.4,168.3 332.8,167.6 333.2,166.8 333.5,166.0 333.9,165.1 334.2,164.3 334.6,163.3 335.0,162.4 335.3,161.4 335.7,160.4 336.1,159.4 336.4,158.4 336.8,157.3 337.1,156.3 337.5,155.2 337.9,154.2 338.2,153.1 338.6,152.1 338.9,151.1 339.3,150.2 339.7,149.2 340.0,148.3 340.4,147.5 340.8,146.7 341.1,146.0 341.5,145.3 341.8,144.7 342.2,144.2 342.6,143.7 342.9,143.4 343.3,143.1 343.7,142.9 344.0,142.8 344.4,142.8 344.7,142.8 345.1,143.0 345.5,143.2 345.8,143.5 346.2,143.9 346.5,144.4 346.9,144.9 347.3,145.5 347.6,146.2 348.0,147.0 348.4,147.7 348.7,148.6 349.1,149.5 349.4,150.4 349.8,151.3 350.2,152.3 350.5,153.3 350.9,154.3 351.2,155.4 351.6,156.4 352.0,157.4 352.3,158.4 352.7,159.4 353.1,160.4 353.4,161.4 353.8,162.3 354.1,163.3 354.5,164.2 354.9,165.0 355.2,165.9 355.6,166.7 355.9,167.4 356.3,168.1 356.7,168.8 357.0,169.5 357.4,170.1 357.8,170.7 358.1,171.2 358.5,171.7 358.8,172.2 359.2,172.6 359.6,173.0 359.9,173.4 360.3,173.7 360.7,174.0 361.0,174.3 361.4,174.5 361.7,174.8 362.1,175.0 362.5,175.2 362.8,175.3 363.2,175.5 363.5,175.6 363.9,175.8 364.3,175.9 364.6,176.0 365.0,176.0 365.4,176.1 365.7,176.2 366.1,176.2 366.4,176.3 366.8,176.3 367.2,176.4 367.5,176.4 367.9,176.4 368.2,176.5 368.6,176.5 369.0,176.5 369.3,176.5 369.7,176.5 370.1,176.5 370.4,176.6"/>
<polyline fill="none" stroke="#3a7a98" stroke-width="0.70" stroke-linejoin="round" points="320.5,176.6 320.9,176.6 321.2,176.6 321.6,176.6 321.9,176.6 322.3,176.6 322.7,176.6 323.0,176.6 323.4,176.6 323.8,176.6 324.1,176.6 324.5,176.6 324.8,176.6 325.2,176.6 325.6,176.6 325.9,176.6 326.3,176.6 326.6,176.6 327.0,176.5 327.4,176.5 327.7,176.5 328.1,176.5 328.5,176.5 328.8,176.5 329.2,176.5 329.5,176.4 329.9,176.4 330.3,176.4 330.6,176.4 331.0,176.3 331.4,176.3 331.7,176.3 332.1,176.2 332.4,176.2 332.8,176.1 333.2,176.1 333.5,176.0 333.9,176.0 334.2,175.9 334.6,175.9 335.0,175.8 335.3,175.7 335.7,175.6 336.1,175.6 336.4,175.5 336.8,175.4 337.1,175.3 337.5,175.2 337.9,175.1 338.2,175.0 338.6,174.9 338.9,174.8 339.3,174.7 339.7,174.6 340.0,174.5 340.4,174.4 340.8,174.3 341.1,174.3 341.5,174.2 341.8,174.1 342.2,174.0 342.6,174.0 342.9,173.9 343.3,173.9 343.7,173.8 344.0,173.8 344.4,173.7 344.7,173.7 345.1,173.7 345.5,173.7 345.8,173.7 346.2,173.7 346.5,173.8 346.9,173.8 347.3,173.8 347.6,173.9 348.0,173.9 348.4,174.0 348.7,174.0 349.1,174.1 349.4,174.2 349.8,174.3 350.2,174.3 350.5,174.4 350.9,174.5 351.2,174.6 351.6,174.7 352.0,174.8 352.3,174.9 352.7,175.0 353.1,175.1 353.4,175.2 353.8,175.2 354.1,175.3 354.5,175.4 354.9,175.5 355.2,175.6 355.6,175.6 355.9,175.7 356.3,175.8 356.7,175.9 357.0,175.9 357.4,176.0 357.8,176.0 358.1,176.1 358.5,176.1 358.8,176.2 359.2,176.2 359.6,176.3 359.9,176.3 360.3,176.3 360.7,176.4 361.0,176.4 361.4,176.4 361.7,176.4 362.1,176.5 362.5,176.5 362.8,176.5 363.2,176.5 363.5,176.5 363.9,176.5 364.3,176.5 364.6,176.5 365.0,176.6 365.4,176.6 365.7,176.6 366.1,176.6 366.4,176.6 366.8,176.6 367.2,176.6 367.5,176.6 367.9,176.6 368.2,176.6 368.6,176.6 369.0,176.6 369.3,176.6 369.7,176.6 370.1,176.6 370.4,176.6"/>
<polyline fill="none" stroke="#9a9a60" stroke-width="0.70" stroke-linejoin="round" points="320.5,176.6 320.9,176.6 321.2,176.6 321.6,176.6 321.9,176.6 322.3,176.6 322.7,176.6 323.0,176.6 323.4,176.6 323.8,176.6 324.1,176.6 324.5,176.6 324.8,176.6 325.2,176.6 325.6,176.6 325.9,176.6 326.3,176.6 326.6,176.6 327.0,176.6 327.4,176.6 327.7,176.5 328.1,176.5 328.5,176.5 328.8,176.5 329.2,176.5 329.5,176.5 329.9,176.5 330.3,176.5 330.6,176.4 331.0,176.4 331.4,176.4 331.7,176.4 332.1,176.3 332.4,176.3 332.8,176.3 333.2,176.2 333.5,176.2 333.9,176.2 334.2,176.1 334.6,176.1 335.0,176.0 335.3,176.0 335.7,175.9 336.1,175.8 336.4,175.8 336.8,175.7 337.1,175.7 337.5,175.6 337.9,175.5 338.2,175.4 338.6,175.4 338.9,175.3 339.3,175.2 339.7,175.2 340.0,175.1 340.4,175.0 340.8,175.0 341.1,174.9 341.5,174.8 341.8,174.8 342.2,174.7 342.6,174.7 342.9,174.6 343.3,174.6 343.7,174.6 344.0,174.5 344.4,174.5 344.7,174.5 345.1,174.5 345.5,174.5 345.8,174.5 346.2,174.5 346.5,174.5 346.9,174.6 347.3,174.6 347.6,174.6 348.0,174.7 348.4,174.7 348.7,174.7 349.1,174.8 349.4,174.8 349.8,174.9 350.2,175.0 350.5,175.0 350.9,175.1 351.2,175.1 351.6,175.2 352.0,175.3 352.3,175.3 352.7,175.4 353.1,175.5 353.4,175.5 353.8,175.6 354.1,175.7 354.5,175.7 354.9,175.8 355.2,175.9 355.6,175.9 355.9,176.0 356.3,176.0 356.7,176.1 357.0,176.1 357.4,176.1 357.8,176.2 358.1,176.2 358.5,176.3 358.8,176.3 359.2,176.3 359.6,176.4 359.9,176.4 360.3,176.4 360.7,176.4 361.0,176.4 361.4,176.5 361.7,176.5 362.1,176.5 362.5,176.5 362.8,176.5 363.2,176.5 363.5,176.5 363.9,176.5 364.3,176.6 364.6,176.6 365.0,176.6 365.4,176.6 365.7,176.6 366.1,176.6 366.4,176.6 366.8,176.6 367.2,176.6 367.5,176.6 367.9,176.6 368.2,176.6 368.6,176.6 369.0,176.6 369.3,176.6 369.7,176.6 370.1,176.6 370.4,176.6"/>
<polyline fill="none" stroke="#a02050" stroke-width="0.70" stroke-linejoin="round" points="320.5,176.6 320.9,176.6 321.2,176.6 321.6,176.6 321.9,176.6 322.3,176.6 322.7,176.6 323.0,176.6 323.4,176.6 323.8,176.6 324.1,176.6 324.5,176.6 324.8,176.6 325.2,176.6 325.6,176.6 325.9,176.6 326.3,176.5 326.6,176.5 327.0,176.5 327.4,176.5 327.7,176.5 328.1,176.5 328.5,176.5 328.8,176.5 329.2,176.4 329.5,176.4 329.9,176.4 330.3,176.3 330.6,176.3 331.0,176.3 331.4,176.2 331.7,176.2 332.1,176.1 332.4,176.1 332.8,176.0 333.2,176.0 333.5,175.9 333.9,175.8 334.2,175.7 334.6,175.7 335.0,175.6 335.3,175.5 335.7,175.4 336.1,175.3 336.4,175.2 336.8,175.1 337.1,174.9 337.5,174.8 337.9,174.7 338.2,174.6 338.6,174.5 338.9,174.3 339.3,174.2 339.7,174.1 340.0,174.0 340.4,173.9 340.8,173.7 341.1,173.6 341.5,173.5 341.8,173.4 342.2,173.3 342.6,173.2 342.9,173.2 343.3,173.1 343.7,173.0 344.0,173.0 344.4,173.0 344.7,172.9 345.1,172.9 345.5,172.9 345.8,172.9 346.2,173.0 346.5,173.0 346.9,173.0 347.3,173.1 347.6,173.1 348.0,173.2 348.4,173.3 348.7,173.3 349.1,173.4 349.4,173.5 349.8,173.6 350.2,173.7 350.5,173.8 350.9,173.9 351.2,174.1 351.6,174.2 352.0,174.3 352.3,174.4 352.7,174.5 353.1,174.6 353.4,174.8 353.8,174.9 354.1,175.0 354.5,175.1 354.9,175.2 355.2,175.3 355.6,175.4 355.9,175.5 356.3,175.6 356.7,175.7 357.0,175.7 357.4,175.8 357.8,175.9 358.1,175.9 358.5,176.0 358.8,176.1 359.2,176.1 359.6,176.2 359.9,176.2 360.3,176.3 360.7,176.3 361.0,176.3 361.4,176.4 361.7,176.4 362.1,176.4 362.5,176.4 362.8,176.5 363.2,176.5 363.5,176.5 363.9,176.5 364.3,176.5 364.6,176.5 365.0,176.5 365.4,176.5 365.7,176.6 366.1,176.6 366.4,176.6 366.8,176.6 367.2,176.6 367.5,176.6 367.9,176.6 368.2,176.6 368.6,176.6 369.0,176.6 369.3,176.6 369.7,176.6 370.1,176.6 370.4,176.6"/>
<polyline fill="none" stroke="#8a30c8" stroke-width="0.70" stroke-linejoin="round" points="320.5,176.6 320.9,176.6 321.2,176.6 321.6,176.6 321.9,176.6 322.3,176.6 322.7,176.6 323.0,176.6 323.4,176.6 323.8,176.6 324.1,176.6 324.5,176.6 324.8,176.6 325.2,176.6 325.6,176.6 325.9,176.6 326.3,176.6 326.6,176.6 327.0,176.6 327.4,176.6 327.7,176.5 328.1,176.5 328.5,176.5 328.8,176.5 329.2,176.5 329.5,176.5 329.9,176.5 330.3,176.5 330.6,176.4 331.0,176.4 331.4,176.4 331.7,176.4 332.1,176.3 332.4,176.3 332.8,176.3 333.2,176.2 333.5,176.2 333.9,176.2 334.2,176.1 334.6,176.1 335.0,176.0 335.3,176.0 335.7,175.9 336.1,175.8 336.4,175.8 336.8,175.7 337.1,175.7 337.5,175.6 337.9,175.5 338.2,175.4 338.6,175.4 338.9,175.3 339.3,175.2 339.7,175.2 340.0,175.1 340.4,175.0 340.8,175.0 341.1,174.9 341.5,174.8 341.8,174.8 342.2,174.7 342.6,174.7 342.9,174.6 343.3,174.6 343.7,174.6 344.0,174.5 344.4,174.5 344.7,174.5 345.1,174.5 345.5,174.5 345.8,174.5 346.2,174.5 346.5,174.5 346.9,174.6 347.3,174.6 347.6,174.6 348.0,174.7 348.4,174.7 348.7,174.7 349.1,174.8 349.4,174.8 349.8,174.9 350.2,175.0 350.5,175.0 350.9,175.1 351.2,175.1 351.6,175.2 352.0,175.3 352.3,175.3 352.7,175.4 353.1,175.5 353.4,175.5 353.8,175.6 354.1,175.7 354.5,175.7 354.9,175.8 355.2,175.9 355.6,175.9 355.9,176.0 356.3,176.0 356.7,176.1 357.0,176.1 357.4,176.1 357.8,176.2 358.1,176.2 358.5,176.3 358.8,176.3 359.2,176.3 359.6,176.4 359.9,176.4 360.3,176.4 360.7,176.4 361.0,176.4 361.4,176.5 361.7,176.5 362.1,176.5 362.5,176.5 362.8,176.5 363.2,176.5 363.5,176.5 363.9,176.5 364.3,176.6 364.6,176.6 365.0,176.6 365.4,176.6 365.7,176.6 366.1,176.6 366.4,176.6 366.8,176.6 367.2,176.6 367.5,176.6 367.9,176.6 368.2,176.6 368.6,176.6 369.0,176.6 369.3,176.6 369.7,176.6 370.1,176.6 370.4,176.6"/>
<polyline fill="none" stroke="#9020c0" stroke-width="0.70" stroke-linejoin="round" points="320.5,176.6 320.9,176.6 321.2,176.6 321.6,176.6 321.9,176.6 322.3,176.6 322.7,176.6 323.0,176.6 323.4,176.6 323.8,176.6 324.1,176.6 324.5,176.6 324.8,176.6 325.2,176.6 325.6,176.6 325.9,176.6 326.3,176.6 326.6,176.6 327.0,176.6 327.4,176.5 327.7,176.5 328.1,176.5 328.5,176.5 328.8,176.5 329.2,176.5 329.5,176.5 329.9,176.4 330.3,176.4 330.6,176.4 331.0,176.4 331.4,176.3 331.7,176.3 332.1,176.3 332.4,176.2 332.8,176.2 333.2,176.1 333.5,176.1 333.9,176.0 334.2,176.0 334.6,175.9 335.0,175.9 335.3,175.8 335.7,175.7 336.1,175.7 336.4,175.6 336.8,175.5 337.1,175.4 337.5,175.3 337.9,175.2 338.2,175.2 338.6,175.1 338.9,175.0 339.3,174.9 339.7,174.8 340.0,174.7 340.4,174.6 340.8,174.6 341.1,174.5 341.5,174.4 341.8,174.3 342.2,174.3 342.6,174.2 342.9,174.2 343.3,174.1 343.7,174.1 344.0,174.0 344.4,174.0 344.7,174.0 345.1,174.0 345.5,174.0 345.8,174.0 346.2,174.0 346.5,174.0 346.9,174.0 347.3,174.1 347.6,174.1 348.0,174.2 348.4,174.2 348.7,174.3 349.1,174.3 349.4,174.4 349.8,174.5 350.2,174.5 350.5,174.6 350.9,174.7 351.2,174.8 351.6,174.9 352.0,175.0 352.3,175.0 352.7,175.1 353.1,175.2 353.4,175.3 353.8,175.4 354.1,175.4 354.5,175.5 354.9,175.6 355.2,175.7 355.6,175.7 355.9,175.8 356.3,175.9 356.7,175.9 357.0,176.0 357.4,176.0 357.8,176.1 358.1,176.1 358.5,176.2 358.8,176.2 359.2,176.3 359.6,176.3 359.9,176.3 360.3,176.4 360.7,176.4 361.0,176.4 361.4,176.4 361.7,176.4 362.1,176.5 362.5,176.5 362.8,176.5 363.2,176.5 363.5,176.5 363.9,176.5 364.3,176.5 364.6,176.5 365.0,176.6 365.4,176.6 365.7,176.6 366.1,176.6 366.4,176.6 366.8,176.6 367.2,176.6 367.5,176.6 367.9,176.6 368.2,176.6 368.6,176.6 369.0,176.6 369.3,176.6 369.7,176.6 370.1,176.6 370.4,176.6"/>
<polyline fill="none" stroke="#1f9a50" stroke-width="0.70" stroke-linejoin="round" points="320.5,176.6 320.9,176.6 321.2,176.6 321.6,176.6 321.9,176.6 322.3,176.6 322.7,176.6 323.0,176.6 323.4,176.6 323.8,176.6 324.1,176.6 324.5,176.6 324.8,176.6 325.2,176.6 325.6,176.6 325.9,176.6 326.3,176.6 326.6,176.5 327.0,176.5 327.4,176.5 327.7,176.5 328.1,176.5 328.5,176.5 328.8,176.5 329.2,176.5 329.5,176.4 329.9,176.4 330.3,176.4 330.6,176.4 331.0,176.3 331.4,176.3 331.7,176.2 332.1,176.2 332.4,176.2 332.8,176.1 333.2,176.1 333.5,176.0 333.9,175.9 334.2,175.9 334.6,175.8 335.0,175.7 335.3,175.6 335.7,175.6 336.1,175.5 336.4,175.4 336.8,175.3 337.1,175.2 337.5,175.1 337.9,175.0 338.2,174.9 338.6,174.8 338.9,174.7 339.3,174.6 339.7,174.4 340.0,174.3 340.4,174.2 340.8,174.1 341.1,174.1 341.5,174.0 341.8,173.9 342.2,173.8 342.6,173.7 342.9,173.7 343.3,173.6 343.7,173.6 344.0,173.5 344.4,173.5 344.7,173.5 345.1,173.5 345.5,173.5 345.8,173.5 346.2,173.5 346.5,173.5 346.9,173.5 347.3,173.6 347.6,173.6 348.0,173.7 348.4,173.7 348.7,173.8 349.1,173.9 349.4,174.0 349.8,174.0 350.2,174.1 350.5,174.2 350.9,174.3 351.2,174.4 351.6,174.5 352.0,174.6 352.3,174.7 352.7,174.8 353.1,174.9 353.4,175.0 353.8,175.1 354.1,175.2 354.5,175.3 354.9,175.4 355.2,175.5 355.6,175.6 355.9,175.6 356.3,175.7 356.7,175.8 357.0,175.9 357.4,175.9 357.8,176.0 358.1,176.0 358.5,176.1 358.8,176.1 359.2,176.2 359.6,176.2 359.9,176.3 360.3,176.3 360.7,176.3 361.0,176.4 361.4,176.4 361.7,176.4 362.1,176.4 362.5,176.5 362.8,176.5 363.2,176.5 363.5,176.5 363.9,176.5 364.3,176.5 364.6,176.5 365.0,176.5 365.4,176.6 365.7,176.6 366.1,176.6 366.4,176.6 366.8,176.6 367.2,176.6 367.5,176.6 367.9,176.6 368.2,176.6 368.6,176.6 369.0,176.6 369.3,176.6 369.7,176.6 370.1,176.6 370.4,176.6"/>
<polyline fill="none" stroke="#ff1a8c" stroke-width="0.70" stroke-linejoin="round" points="320.5,176.6 320.9,176.6 321.2,176.6 321.6,176.6 321.9,176.6 322.3,176.6 322.7,176.6 323.0,176.6 323.4,176.6 323.8,176.6 324.1,176.6 324.5,176.6 324.8,176.6 325.2,176.5 325.6,176.5 325.9,176.5 326.3,176.5 326.6,176.5 327.0,176.5 327.4,176.5 327.7,176.4 328.1,176.4 328.5,176.4 328.8,176.4 329.2,176.3 329.5,176.3 329.9,176.2 330.3,176.2 330.6,176.1 331.0,176.1 331.4,176.0 331.7,175.9 332.1,175.8 332.4,175.8 332.8,175.7 333.2,175.6 333.5,175.5 333.9,175.4 334.2,175.2 334.6,175.1 335.0,175.0 335.3,174.8 335.7,174.7 336.1,174.5 336.4,174.4 336.8,174.2 337.1,174.1 337.5,173.9 337.9,173.7 338.2,173.5 338.6,173.4 338.9,173.2 339.3,173.0 339.7,172.9 340.0,172.7 340.4,172.6 340.8,172.4 341.1,172.3 341.5,172.1 341.8,172.0 342.2,171.9 342.6,171.8 342.9,171.7 343.3,171.6 343.7,171.6 344.0,171.5 344.4,171.5 344.7,171.5 345.1,171.5 345.5,171.5 345.8,171.6 346.2,171.6 346.5,171.7 346.9,171.7 347.3,171.8 347.6,171.9 348.0,172.0 348.4,172.1 348.7,172.3 349.1,172.4 349.4,172.5 349.8,172.7 350.2,172.8 350.5,173.0 350.9,173.2 351.2,173.3 351.6,173.5 352.0,173.6 352.3,173.8 352.7,174.0 353.1,174.1 353.4,174.3 353.8,174.4 354.1,174.6 354.5,174.7 354.9,174.9 355.2,175.0 355.6,175.1 355.9,175.2 356.3,175.3 356.7,175.5 357.0,175.6 357.4,175.6 357.8,175.7 358.1,175.8 358.5,175.9 358.8,176.0 359.2,176.0 359.6,176.1 359.9,176.1 360.3,176.2 360.7,176.2 361.0,176.3 361.4,176.3 361.7,176.4 362.1,176.4 362.5,176.4 362.8,176.4 363.2,176.5 363.5,176.5 363.9,176.5 364.3,176.5 364.6,176.5 365.0,176.5 365.4,176.5 365.7,176.6 366.1,176.6 366.4,176.6 366.8,176.6 367.2,176.6 367.5,176.6 367.9,176.6 368.2,176.6 368.6,176.6 369.0,176.6 369.3,176.6 369.7,176.6 370.1,176.6 370.4,176.6"/>
<polyline fill="none" stroke="#1a2a9a" stroke-width="0.70" stroke-linejoin="round" points="320.5,176.6 320.9,176.6 321.2,176.6 321.6,176.6 321.9,176.6 322.3,176.6 322.7,176.6 323.0,176.6 323.4,176.6 323.8,176.6 324.1,176.6 324.5,176.6 324.8,176.6 325.2,176.6 325.6,176.6 325.9,176.5 326.3,176.5 326.6,176.5 327.0,176.5 327.4,176.5 327.7,176.5 328.1,176.5 328.5,176.4 328.8,176.4 329.2,176.4 329.5,176.3 329.9,176.3 330.3,176.3 330.6,176.2 331.0,176.2 331.4,176.1 331.7,176.0 332.1,176.0 332.4,175.9 332.8,175.8 333.2,175.7 333.5,175.6 333.9,175.5 334.2,175.4 334.6,175.3 335.0,175.1 335.3,175.0 335.7,174.8 336.1,174.7 336.4,174.5 336.8,174.3 337.1,174.2 337.5,174.0 337.9,173.8 338.2,173.6 338.6,173.4 338.9,173.2 339.3,173.0 339.7,172.8 340.0,172.7 340.4,172.5 340.8,172.3 341.1,172.1 341.5,171.9 341.8,171.8 342.2,171.6 342.6,171.5 342.9,171.3 343.3,171.2 343.7,171.1 344.0,171.0 344.4,170.9 344.7,170.9 345.1,170.9 345.5,170.8 345.8,170.8 346.2,170.8 346.5,170.9 346.9,170.9 347.3,171.0 347.6,171.0 348.0,171.1 348.4,171.2 348.7,171.4 349.1,171.5 349.4,171.6 349.8,171.8 350.2,171.9 350.5,172.1 350.9,172.3 351.2,172.4 351.6,172.6 352.0,172.8 352.3,173.0 352.7,173.2 353.1,173.3 353.4,173.5 353.8,173.7 354.1,173.9 354.5,174.1 354.9,174.2 355.2,174.4 355.6,174.5 355.9,174.7 356.3,174.8 356.7,175.0 357.0,175.1 357.4,175.2 357.8,175.4 358.1,175.5 358.5,175.6 358.8,175.7 359.2,175.8 359.6,175.8 359.9,175.9 360.3,176.0 360.7,176.1 361.0,176.1 361.4,176.2 361.7,176.2 362.1,176.3 362.5,176.3 362.8,176.3 363.2,176.4 363.5,176.4 363.9,176.4 364.3,176.4 364.6,176.5 365.0,176.5 365.4,176.5 365.7,176.5 366.1,176.5 366.4,176.5 366.8,176.5 367.2,176.6 367.5,176.6 367.9,176.6 368.2,176.6 368.6,176.6 369.0,176.6 369.3,176.6 369.7,176.6 370.1,176.6 370.4,176.6"/>
<polyline fill="none" stroke="#1a1aa8" stroke-width="0.70" stroke-linejoin="round" points="320.5,176.6 320.9,176.6 321.2,176.6 321.6,176.6 321.9,176.6 322.3,176.6 322.7,176.6 323.0,176.6 323.4,176.6 323.8,176.5 324.1,176.5 324.5,176.5 324.8,176.5 325.2,176.5 325.6,176.5 325.9,176.4 326.3,176.4 326.6,176.4 327.0,176.3 327.4,176.3 327.7,176.3 328.1,176.2 328.5,176.1 328.8,176.1 329.2,176.0 329.5,175.9 329.9,175.8 330.3,175.7 330.6,175.6 331.0,175.5 331.4,175.3 331.7,175.2 332.1,175.0 332.4,174.8 332.8,174.6 333.2,174.4 333.5,174.2 333.9,174.0 334.2,173.7 334.6,173.4 335.0,173.1 335.3,172.9 335.7,172.5 336.1,172.2 336.4,171.9 336.8,171.5 337.1,171.2 337.5,170.8 337.9,170.5 338.2,170.1 338.6,169.8 338.9,169.4 339.3,169.0 339.7,168.7 340.0,168.3 340.4,168.0 340.8,167.7 341.1,167.4 341.5,167.1 341.8,166.9 342.2,166.6 342.6,166.4 342.9,166.2 343.3,166.1 343.7,166.0 344.0,165.9 344.4,165.8 344.7,165.8 345.1,165.8 345.5,165.8 345.8,165.9 346.2,166.0 346.5,166.1 346.9,166.3 347.3,166.5 347.6,166.7 348.0,166.9 348.4,167.1 348.7,167.4 349.1,167.7 349.4,168.0 349.8,168.3 350.2,168.6 350.5,169.0 350.9,169.3 351.2,169.6 351.6,170.0 352.0,170.3 352.3,170.7 352.7,171.0 353.1,171.3 353.4,171.7 353.8,172.0 354.1,172.3 354.5,172.6 354.9,172.9 355.2,173.2 355.6,173.4 355.9,173.7 356.3,173.9 356.7,174.2 357.0,174.4 357.4,174.6 357.8,174.8 358.1,174.9 358.5,175.1 358.8,175.3 359.2,175.4 359.6,175.5 359.9,175.6 360.3,175.7 360.7,175.8 361.0,175.9 361.4,176.0 361.7,176.1 362.1,176.1 362.5,176.2 362.8,176.3 363.2,176.3 363.5,176.3 363.9,176.4 364.3,176.4 364.6,176.4 365.0,176.5 365.4,176.5 365.7,176.5 366.1,176.5 366.4,176.5 366.8,176.5 367.2,176.5 367.5,176.6 367.9,176.6 368.2,176.6 368.6,176.6 369.0,176.6 369.3,176.6 369.7,176.6 370.1,176.6 370.4,176.6"/>
<rect x="320.50" y="139.50" width="50.10" height="37.10" fill="none" stroke="#222" stroke-width="0.7"/>
<line x1="319.30" y1="176.60" x2="320.50" y2="176.60" stroke="#333" stroke-width="0.5"/>
<text x="318.70" y="177.70" text-anchor="end" font-size="3.3" fill="#333">0</text>
<line x1="319.30" y1="166.10" x2="320.50" y2="166.10" stroke="#333" stroke-width="0.5"/>
<text x="318.70" y="167.20" text-anchor="end" font-size="3.3" fill="#333">200</text>
<line x1="319.30" y1="155.61" x2="320.50" y2="155.61" stroke="#333" stroke-width="0.5"/>
<text x="318.70" y="156.71" text-anchor="end" font-size="3.3" fill="#333">400</text>
<line x1="319.30" y1="145.11" x2="320.50" y2="145.11" stroke="#333" stroke-width="0.5"/>
<text x="318.70" y="146.21" text-anchor="end" font-size="3.3" fill="#333">600</text>
<line x1="322.20" y1="176.60" x2="322.20" y2="177.80" stroke="#333" stroke-width="0.5"/>
<text x="322.20" y="181.20" text-anchor="middle" font-size="3.2" fill="#333">500</text>
<line x1="331.24" y1="176.60" x2="331.24" y2="177.80" stroke="#333" stroke-width="0.5"/>
<text x="331.24" y="181.20" text-anchor="middle" font-size="3.2" fill="#333">550</text>
<line x1="340.29" y1="176.60" x2="340.29" y2="177.80" stroke="#333" stroke-width="0.5"/>
<text x="340.29" y="181.20" text-anchor="middle" font-size="3.2" fill="#333">600</text>
<line x1="349.33" y1="176.60" x2="349.33" y2="177.80" stroke="#333" stroke-width="0.5"/>
<text x="349.33" y="181.20" text-anchor="middle" font-size="3.2" fill="#333">650</text>
<line x1="358.37" y1="176.60" x2="358.37" y2="177.80" stroke="#333" stroke-width="0.5"/>
<text x="358.37" y="181.20" text-anchor="middle" font-size="3.2" fill="#333">700</text>
<line x1="367.42" y1="176.60" x2="367.42" y2="177.80" stroke="#333" stroke-width="0.5"/>
<text x="367.42" y="181.20" text-anchor="middle" font-size="3.2" fill="#333">750</text>
<text x="345.55" y="185.00" text-anchor="middle" font-size="3.6" fill="#222" textLength="27" lengthAdjust="spacingAndGlyphs">Wavelength / nm</text>
<text transform="translate(310.90,158.55) rotate(-90)" text-anchor="middle" font-size="3.1" fill="#333">FL Intensity / a.u.</text>
<line x1="362.10" y1="142.70" x2="366.10" y2="142.70" stroke="#000000" stroke-width="0.6"/>
<text x="366.40" y="143.30" font-size="1.9" fill="#c44">10:0</text>
<line x1="362.10" y1="145.25" x2="366.10" y2="145.25" stroke="#ff1a1a" stroke-width="0.6"/>
<text x="366.40" y="145.85" font-size="1.9" fill="#c44">9:1</text>
<line x1="362.10" y1="147.80" x2="366.10" y2="147.80" stroke="#1a1aa8" stroke-width="0.6"/>
<text x="366.40" y="148.40" font-size="1.9" fill="#c44">8:2</text>
<line x1="362.10" y1="150.35" x2="366.10" y2="150.35" stroke="#ff1a8c" stroke-width="0.6"/>
<text x="366.40" y="150.95" font-size="1.9" fill="#c44">7:3</text>
<line x1="362.10" y1="152.90" x2="366.10" y2="152.90" stroke="#1f9a50" stroke-width="0.6"/>
<text x="366.40" y="153.50" font-size="1.9" fill="#c44">6:4</text>
<line x1="362.10" y1="155.45" x2="366.10" y2="155.45" stroke="#1a2a9a" stroke-width="0.6"/>
<text x="366.40" y="156.05" font-size="1.9" fill="#c44">5:5</text>
<line x1="362.10" y1="158.00" x2="366.10" y2="158.00" stroke="#9020c0" stroke-width="0.6"/>
<text x="366.40" y="158.60" font-size="1.9" fill="#c44">4:6</text>
<line x1="362.10" y1="160.55" x2="366.10" y2="160.55" stroke="#8a30c8" stroke-width="0.6"/>
<text x="366.40" y="161.15" font-size="1.9" fill="#c44">3:7</text>
<line x1="362.10" y1="163.10" x2="366.10" y2="163.10" stroke="#a02050" stroke-width="0.6"/>
<text x="366.40" y="163.70" font-size="1.9" fill="#c44">2:8</text>
<line x1="362.10" y1="165.65" x2="366.10" y2="165.65" stroke="#9a9a60" stroke-width="0.6"/>
<text x="366.40" y="166.25" font-size="1.9" fill="#c44">1:9</text>
<line x1="362.10" y1="168.20" x2="366.10" y2="168.20" stroke="#3a7a98" stroke-width="0.6"/>
<text x="366.40" y="168.80" font-size="1.9" fill="#c44">0:10</text>
<text x="361.10" y="143.30" text-anchor="end" font-size="1.9" fill="#555">Tol:DMSO / V:V</text>
<polyline fill="none" stroke="#000000" stroke-width="0.70" stroke-linejoin="round" points="322.3,303.6 322.7,303.6 323.0,303.6 323.4,303.6 323.8,303.6 324.1,303.6 324.5,303.6 324.8,303.6 325.2,303.6 325.6,303.6 325.9,303.6 326.3,303.6 326.7,303.6 327.0,303.6 327.4,303.6 327.7,303.6 328.1,303.6 328.5,303.6 328.8,303.6 329.2,303.6 329.6,303.6 329.9,303.6 330.3,303.6 330.7,303.6 331.0,303.6 331.4,303.6 331.7,303.6 332.1,303.6 332.5,303.6 332.8,303.6 333.2,303.6 333.6,303.6 333.9,303.6 334.3,303.6 334.6,303.6 335.0,303.6 335.4,303.6 335.7,303.6 336.1,303.6 336.5,303.6 336.8,303.6 337.2,303.6 337.6,303.6 337.9,303.6 338.3,303.6 338.6,303.6 339.0,303.6 339.4,303.6 339.7,303.6 340.1,303.6 340.5,303.6 340.8,303.6 341.2,303.6 341.5,303.6 341.9,303.6 342.3,303.6 342.6,303.6 343.0,303.6 343.4,303.6 343.7,303.6 344.1,303.6 344.5,303.6 344.8,303.6 345.2,303.6 345.5,303.6 345.9,303.6 346.3,303.6 346.6,303.6 347.0,303.6 347.4,303.6 347.7,303.6 348.1,303.6 348.4,303.6 348.8,303.6 349.2,303.6 349.5,303.6 349.9,303.6 350.3,303.6 350.6,303.6 351.0,303.6 351.4,303.6 351.7,303.6 352.1,303.6 352.4,303.6 352.8,303.6 353.2,303.6 353.5,303.6 353.9,303.6 354.3,303.6 354.6,303.6 355.0,303.6 355.3,303.6 355.7,303.6 356.1,303.6 356.4,303.6 356.8,303.6 357.2,303.6 357.5,303.6 357.9,303.6 358.3,303.6 358.6,303.6 359.0,303.6 359.3,303.6 359.7,303.6 360.1,303.6 360.4,303.6 360.8,303.6 361.2,303.6 361.5,303.6 361.9,303.6 362.2,303.6 362.6,303.6 363.0,303.6 363.3,303.6 363.7,303.6 364.1,303.6 364.4,303.6 364.8,303.6 365.2,303.6 365.5,303.6 365.9,303.6 366.2,303.6 366.6,303.6 367.0,303.6 367.3,303.6 367.7,303.6 368.1,303.6 368.4,303.6 368.8,303.6 369.1,303.6 369.5,303.6 369.9,303.6 370.2,303.6 370.6,303.6 371.0,303.6 371.3,303.6 371.7,303.6 372.1,303.6 372.4,303.6"/>
<polyline fill="none" stroke="#ff1a1a" stroke-width="0.70" stroke-linejoin="round" points="322.3,301.7 322.7,301.7 323.0,301.7 323.4,301.7 323.8,301.7 324.1,301.7 324.5,301.7 324.8,301.7 325.2,301.7 325.6,301.7 325.9,301.6 326.3,301.6 326.7,301.6 327.0,301.5 327.4,301.4 327.7,301.3 328.1,301.1 328.5,300.9 328.8,300.5 329.2,300.1 329.6,299.5 329.9,298.9 330.3,298.2 330.7,297.5 331.0,296.9 331.4,296.4 331.7,296.0 332.1,295.8 332.5,295.8 332.8,295.8 333.2,296.0 333.6,296.1 333.9,296.2 334.3,296.1 334.6,295.9 335.0,295.6 335.4,295.2 335.7,294.6 336.1,293.9 336.5,293.1 336.8,292.3 337.2,291.3 337.6,290.3 337.9,289.3 338.3,288.2 338.6,287.0 339.0,285.9 339.4,284.7 339.7,283.5 340.1,282.2 340.5,281.0 340.8,279.8 341.2,278.6 341.5,277.5 341.9,276.4 342.3,275.4 342.6,274.4 343.0,273.5 343.4,272.7 343.7,272.0 344.1,271.4 344.5,270.9 344.8,270.5 345.2,270.2 345.5,270.1 345.9,270.1 346.3,270.2 346.6,270.3 347.0,270.6 347.4,270.9 347.7,271.3 348.1,271.7 348.4,272.2 348.8,272.8 349.2,273.5 349.5,274.2 349.9,274.9 350.3,275.7 350.6,276.5 351.0,277.4 351.4,278.3 351.7,279.2 352.1,280.2 352.4,281.2 352.8,282.1 353.2,283.1 353.5,284.1 353.9,285.0 354.3,286.0 354.6,286.9 355.0,287.8 355.3,288.7 355.7,289.6 356.1,290.5 356.4,291.3 356.8,292.2 357.2,292.9 357.5,293.7 357.9,294.4 358.3,295.1 358.6,295.8 359.0,296.4 359.3,297.0 359.7,297.5 360.1,298.0 360.4,298.5 360.8,299.0 361.2,299.4 361.5,299.8 361.9,300.2 362.2,300.5 362.6,300.8 363.0,301.1 363.3,301.4 363.7,301.6 364.1,301.8 364.4,302.0 364.8,302.2 365.2,302.4 365.5,302.5 365.9,302.6 366.2,302.7 366.6,302.9 367.0,302.9 367.3,303.0 367.7,303.1 368.1,303.2 368.4,303.2 368.8,303.3 369.1,303.3 369.5,303.4 369.9,303.4 370.2,303.4 370.6,303.4 371.0,303.5 371.3,303.5 371.7,303.5 372.1,303.5 372.4,303.5"/>
<polyline fill="none" stroke="#3a7a98" stroke-width="0.70" stroke-linejoin="round" points="322.3,302.6 322.7,302.4 323.0,302.3 323.4,302.2 323.8,302.2 324.1,302.1 324.5,302.1 324.8,302.2 325.2,302.2 325.6,302.3 325.9,302.5 326.3,302.6 326.7,302.8 327.0,302.9 327.4,303.1 327.7,303.2 328.1,303.4 328.5,303.5 328.8,303.5 329.2,303.5 329.6,303.5 329.9,303.5 330.3,303.4 330.7,303.3 331.0,303.2 331.4,303.0 331.7,302.8 332.1,302.6 332.5,302.4 332.8,302.3 333.2,302.1 333.6,302.0 333.9,301.8 334.3,301.8 334.6,301.7 335.0,301.7 335.4,301.7 335.7,301.7 336.1,301.8 336.5,301.9 336.8,302.0 337.2,302.0 337.6,302.1 337.9,302.2 338.3,302.2 338.6,302.3 339.0,302.2 339.4,302.2 339.7,302.1 340.1,302.0 340.5,301.8 340.8,301.6 341.2,301.4 341.5,301.2 341.9,301.0 342.3,300.8 342.6,300.6 343.0,300.4 343.4,300.2 343.7,300.1 344.1,300.0 344.5,299.9 344.8,299.9 345.2,299.9 345.5,299.9 345.9,299.9 346.3,300.0 346.6,300.1 347.0,300.2 347.4,300.3 347.7,300.4 348.1,300.5 348.4,300.6 348.8,300.7 349.2,300.8 349.5,300.8 349.9,300.9 350.3,301.0 350.6,301.0 351.0,301.1 351.4,301.1 351.7,301.2 352.1,301.2 352.4,301.3 352.8,301.4 353.2,301.5 353.5,301.6 353.9,301.7 354.3,301.8 354.6,301.9 355.0,302.0 355.3,302.1 355.7,302.2 356.1,302.4 356.4,302.5 356.8,302.5 357.2,302.6 357.5,302.7 357.9,302.8 358.3,302.8 358.6,302.9 359.0,303.0 359.3,303.0 359.7,303.1 360.1,303.1 360.4,303.2 360.8,303.2 361.2,303.2 361.5,303.3 361.9,303.3 362.2,303.4 362.6,303.4 363.0,303.4 363.3,303.4 363.7,303.4 364.1,303.5 364.4,303.5 364.8,303.5 365.2,303.5 365.5,303.5 365.9,303.5 366.2,303.5 366.6,303.5 367.0,303.6 367.3,303.6 367.7,303.6 368.1,303.6 368.4,303.6 368.8,303.6 369.1,303.6 369.5,303.6 369.9,303.6 370.2,303.6 370.6,303.6 371.0,303.6 371.3,303.6 371.7,303.6 372.1,303.6 372.4,303.6"/>
<polyline fill="none" stroke="#9a9a60" stroke-width="0.70" stroke-linejoin="round" points="322.3,303.2 322.7,303.0 323.0,302.8 323.4,302.6 323.8,302.4 324.1,302.2 324.5,302.1 324.8,301.9 325.2,301.8 325.6,301.8 325.9,301.7 326.3,301.8 326.7,301.8 327.0,301.9 327.4,302.1 327.7,302.3 328.1,302.5 328.5,302.7 328.8,302.9 329.2,303.0 329.6,303.2 329.9,303.3 330.3,303.4 330.7,303.5 331.0,303.5 331.4,303.5 331.7,303.4 332.1,303.3 332.5,303.1 332.8,302.9 333.2,302.7 333.6,302.4 333.9,302.2 334.3,302.0 334.6,301.8 335.0,301.6 335.4,301.4 335.7,301.3 336.1,301.2 336.5,301.1 336.8,301.1 337.2,301.2 337.6,301.2 337.9,301.3 338.3,301.5 338.6,301.6 339.0,301.7 339.4,301.8 339.7,301.9 340.1,302.0 340.5,302.0 340.8,302.0 341.2,301.9 341.5,301.8 341.9,301.7 342.3,301.5 342.6,301.3 343.0,301.1 343.4,300.9 343.7,300.7 344.1,300.6 344.5,300.4 344.8,300.2 345.2,300.1 345.5,300.1 345.9,300.0 346.3,300.0 346.6,300.0 347.0,300.1 347.4,300.2 347.7,300.3 348.1,300.4 348.4,300.5 348.8,300.7 349.2,300.8 349.5,301.0 349.9,301.1 350.3,301.2 350.6,301.3 351.0,301.4 351.4,301.5 351.7,301.6 352.1,301.6 352.4,301.7 352.8,301.8 353.2,301.8 353.5,301.9 353.9,301.9 354.3,302.0 354.6,302.1 355.0,302.2 355.3,302.3 355.7,302.4 356.1,302.5 356.4,302.6 356.8,302.7 357.2,302.7 357.5,302.8 357.9,302.9 358.3,302.9 358.6,303.0 359.0,303.0 359.3,303.1 359.7,303.1 360.1,303.2 360.4,303.2 360.8,303.3 361.2,303.3 361.5,303.3 361.9,303.4 362.2,303.4 362.6,303.4 363.0,303.4 363.3,303.4 363.7,303.5 364.1,303.5 364.4,303.5 364.8,303.5 365.2,303.5 365.5,303.5 365.9,303.5 366.2,303.5 366.6,303.6 367.0,303.6 367.3,303.6 367.7,303.6 368.1,303.6 368.4,303.6 368.8,303.6 369.1,303.6 369.5,303.6 369.9,303.6 370.2,303.6 370.6,303.6 371.0,303.6 371.3,303.6 371.7,303.6 372.1,303.6 372.4,303.6"/>
<polyline fill="none" stroke="#a02050" stroke-width="0.70" stroke-linejoin="round" points="322.3,303.6 322.7,303.6 323.0,303.5 323.4,303.5 323.8,303.4 324.1,303.2 324.5,303.1 324.8,302.9 325.2,302.7 325.6,302.6 325.9,302.4 326.3,302.3 326.7,302.2 327.0,302.1 327.4,302.1 327.7,302.1 328.1,302.1 328.5,302.2 328.8,302.3 329.2,302.4 329.6,302.6 329.9,302.7 330.3,302.9 330.7,303.0 331.0,303.1 331.4,303.2 331.7,303.3 332.1,303.3 332.5,303.4 332.8,303.3 333.2,303.2 333.6,303.1 333.9,303.0 334.3,302.8 334.6,302.6 335.0,302.4 335.4,302.1 335.7,301.9 336.1,301.7 336.5,301.5 336.8,301.3 337.2,301.1 337.6,301.0 337.9,300.8 338.3,300.8 338.6,300.7 339.0,300.7 339.4,300.8 339.7,300.8 340.1,300.8 340.5,300.8 340.8,300.9 341.2,300.9 341.5,300.9 341.9,300.8 342.3,300.8 342.6,300.7 343.0,300.6 343.4,300.4 343.7,300.3 344.1,300.1 344.5,300.0 344.8,299.8 345.2,299.7 345.5,299.5 345.9,299.4 346.3,299.3 346.6,299.3 347.0,299.2 347.4,299.2 347.7,299.2 348.1,299.3 348.4,299.4 348.8,299.5 349.2,299.6 349.5,299.7 349.9,299.9 350.3,300.0 350.6,300.2 351.0,300.3 351.4,300.5 351.7,300.6 352.1,300.8 352.4,300.9 352.8,301.0 353.2,301.1 353.5,301.3 353.9,301.4 354.3,301.5 354.6,301.6 355.0,301.7 355.3,301.8 355.7,301.9 356.1,302.1 356.4,302.2 356.8,302.3 357.2,302.4 357.5,302.5 357.9,302.6 358.3,302.6 358.6,302.7 359.0,302.8 359.3,302.9 359.7,302.9 360.1,303.0 360.4,303.1 360.8,303.1 361.2,303.2 361.5,303.2 361.9,303.2 362.2,303.3 362.6,303.3 363.0,303.4 363.3,303.4 363.7,303.4 364.1,303.4 364.4,303.5 364.8,303.5 365.2,303.5 365.5,303.5 365.9,303.5 366.2,303.5 366.6,303.5 367.0,303.5 367.3,303.6 367.7,303.6 368.1,303.6 368.4,303.6 368.8,303.6 369.1,303.6 369.5,303.6 369.9,303.6 370.2,303.6 370.6,303.6 371.0,303.6 371.3,303.6 371.7,303.6 372.1,303.6 372.4,303.6"/>
<polyline fill="none" stroke="#8a30c8" stroke-width="0.70" stroke-linejoin="round" points="322.3,303.2 322.7,303.4 323.0,303.5 323.4,303.5 323.8,303.6 324.1,303.6 324.5,303.6 324.8,303.5 325.2,303.4 325.6,303.3 325.9,303.1 326.3,303.0 326.7,302.8 327.0,302.6 327.4,302.5 327.7,302.3 328.1,302.2 328.5,302.1 328.8,302.1 329.2,302.1 329.6,302.1 329.9,302.1 330.3,302.2 330.7,302.3 331.0,302.4 331.4,302.6 331.7,302.7 332.1,302.9 332.5,303.0 332.8,303.1 333.2,303.2 333.6,303.2 333.9,303.2 334.3,303.2 334.6,303.1 335.0,303.0 335.4,302.9 335.7,302.7 336.1,302.5 336.5,302.2 336.8,302.0 337.2,301.7 337.6,301.5 337.9,301.3 338.3,301.0 338.6,300.9 339.0,300.7 339.4,300.6 339.7,300.6 340.1,300.5 340.5,300.5 340.8,300.5 341.2,300.5 341.5,300.6 341.9,300.6 342.3,300.6 342.6,300.6 343.0,300.7 343.4,300.6 343.7,300.6 344.1,300.6 344.5,300.5 344.8,300.4 345.2,300.4 345.5,300.3 345.9,300.2 346.3,300.1 346.6,300.0 347.0,299.9 347.4,299.9 347.7,299.8 348.1,299.8 348.4,299.8 348.8,299.8 349.2,299.9 349.5,299.9 349.9,300.0 350.3,300.2 350.6,300.3 351.0,300.4 351.4,300.6 351.7,300.7 352.1,300.9 352.4,301.0 352.8,301.2 353.2,301.3 353.5,301.5 353.9,301.6 354.3,301.7 354.6,301.8 355.0,301.9 355.3,302.0 355.7,302.1 356.1,302.2 356.4,302.3 356.8,302.4 357.2,302.5 357.5,302.6 357.9,302.7 358.3,302.7 358.6,302.8 359.0,302.9 359.3,302.9 359.7,303.0 360.1,303.1 360.4,303.1 360.8,303.2 361.2,303.2 361.5,303.2 361.9,303.3 362.2,303.3 362.6,303.4 363.0,303.4 363.3,303.4 363.7,303.4 364.1,303.4 364.4,303.5 364.8,303.5 365.2,303.5 365.5,303.5 365.9,303.5 366.2,303.5 366.6,303.5 367.0,303.6 367.3,303.6 367.7,303.6 368.1,303.6 368.4,303.6 368.8,303.6 369.1,303.6 369.5,303.6 369.9,303.6 370.2,303.6 370.6,303.6 371.0,303.6 371.3,303.6 371.7,303.6 372.1,303.6 372.4,303.6"/>
<polyline fill="none" stroke="#9020c0" stroke-width="0.70" stroke-linejoin="round" points="322.3,302.3 322.7,302.4 323.0,302.7 323.4,302.9 323.8,303.0 324.1,303.2 324.5,303.4 324.8,303.5 325.2,303.6 325.6,303.6 325.9,303.6 326.3,303.5 326.7,303.4 327.0,303.3 327.4,303.1 327.7,302.9 328.1,302.7 328.5,302.5 328.8,302.3 329.2,302.1 329.6,301.9 329.9,301.8 330.3,301.7 330.7,301.6 331.0,301.6 331.4,301.6 331.7,301.7 332.1,301.8 332.5,301.9 332.8,302.1 333.2,302.3 333.6,302.4 333.9,302.6 334.3,302.7 334.6,302.8 335.0,302.8 335.4,302.8 335.7,302.8 336.1,302.7 336.5,302.6 336.8,302.4 337.2,302.1 337.6,301.9 337.9,301.6 338.3,301.3 338.6,300.9 339.0,300.6 339.4,300.3 339.7,300.1 340.1,299.9 340.5,299.7 340.8,299.5 341.2,299.4 341.5,299.3 341.9,299.3 342.3,299.3 342.6,299.3 343.0,299.3 343.4,299.4 343.7,299.4 344.1,299.5 344.5,299.5 344.8,299.6 345.2,299.6 345.5,299.6 345.9,299.6 346.3,299.6 346.6,299.5 347.0,299.5 347.4,299.4 347.7,299.4 348.1,299.3 348.4,299.3 348.8,299.3 349.2,299.3 349.5,299.3 349.9,299.4 350.3,299.4 350.6,299.5 351.0,299.6 351.4,299.8 351.7,299.9 352.1,300.1 352.4,300.3 352.8,300.5 353.2,300.7 353.5,300.9 353.9,301.0 354.3,301.2 354.6,301.4 355.0,301.5 355.3,301.7 355.7,301.8 356.1,301.9 356.4,302.0 356.8,302.1 357.2,302.3 357.5,302.4 357.9,302.5 358.3,302.5 358.6,302.6 359.0,302.7 359.3,302.8 359.7,302.9 360.1,302.9 360.4,303.0 360.8,303.1 361.2,303.1 361.5,303.2 361.9,303.2 362.2,303.3 362.6,303.3 363.0,303.3 363.3,303.4 363.7,303.4 364.1,303.4 364.4,303.4 364.8,303.5 365.2,303.5 365.5,303.5 365.9,303.5 366.2,303.5 366.6,303.5 367.0,303.5 367.3,303.5 367.7,303.6 368.1,303.6 368.4,303.6 368.8,303.6 369.1,303.6 369.5,303.6 369.9,303.6 370.2,303.6 370.6,303.6 371.0,303.6 371.3,303.6 371.7,303.6 372.1,303.6 372.4,303.6"/>
<polyline fill="none" stroke="#1f9a50" stroke-width="0.70" stroke-linejoin="round" points="322.3,302.1 322.7,302.0 323.0,301.8 323.4,301.8 323.8,301.7 324.1,301.8 324.5,301.8 324.8,301.9 325.2,302.1 325.6,302.2 325.9,302.4 326.3,302.6 326.7,302.8 327.0,303.0 327.4,303.2 327.7,303.3 328.1,303.4 328.5,303.5 328.8,303.5 329.2,303.5 329.6,303.4 329.9,303.3 330.3,303.1 330.7,303.0 331.0,302.7 331.4,302.5 331.7,302.3 332.1,302.0 332.5,301.8 332.8,301.6 333.2,301.5 333.6,301.3 333.9,301.2 334.3,301.2 334.6,301.1 335.0,301.2 335.4,301.2 335.7,301.3 336.1,301.4 336.5,301.5 336.8,301.6 337.2,301.7 337.6,301.7 337.9,301.7 338.3,301.7 338.6,301.7 339.0,301.6 339.4,301.4 339.7,301.3 340.1,301.0 340.5,300.8 340.8,300.5 341.2,300.2 341.5,299.9 341.9,299.6 342.3,299.4 342.6,299.1 343.0,298.9 343.4,298.8 343.7,298.6 344.1,298.6 344.5,298.5 344.8,298.5 345.2,298.5 345.5,298.6 345.9,298.7 346.3,298.8 346.6,299.0 347.0,299.1 347.4,299.2 347.7,299.4 348.1,299.5 348.4,299.6 348.8,299.8 349.2,299.9 349.5,299.9 349.9,300.0 350.3,300.1 350.6,300.2 351.0,300.2 351.4,300.3 351.7,300.4 352.1,300.5 352.4,300.6 352.8,300.7 353.2,300.8 353.5,301.0 353.9,301.1 354.3,301.3 354.6,301.4 355.0,301.6 355.3,301.8 355.7,301.9 356.1,302.1 356.4,302.2 356.8,302.3 357.2,302.4 357.5,302.5 357.9,302.6 358.3,302.7 358.6,302.8 359.0,302.8 359.3,302.9 359.7,303.0 360.1,303.0 360.4,303.1 360.8,303.1 361.2,303.2 361.5,303.2 361.9,303.3 362.2,303.3 362.6,303.3 363.0,303.4 363.3,303.4 363.7,303.4 364.1,303.4 364.4,303.5 364.8,303.5 365.2,303.5 365.5,303.5 365.9,303.5 366.2,303.5 366.6,303.5 367.0,303.6 367.3,303.6 367.7,303.6 368.1,303.6 368.4,303.6 368.8,303.6 369.1,303.6 369.5,303.6 369.9,303.6 370.2,303.6 370.6,303.6 371.0,303.6 371.3,303.6 371.7,303.6 372.1,303.6 372.4,303.6"/>
<polyline fill="none" stroke="#ff1a8c" stroke-width="0.70" stroke-linejoin="round" points="322.3,303.1 322.7,302.9 323.0,302.8 323.4,302.6 323.8,302.5 324.1,302.3 324.5,302.2 324.8,302.1 325.2,302.1 325.6,302.1 325.9,302.1 326.3,302.2 326.7,302.3 327.0,302.4 327.4,302.5 327.7,302.7 328.1,302.8 328.5,303.0 328.8,303.1 329.2,303.2 329.6,303.3 329.9,303.3 330.3,303.3 330.7,303.3 331.0,303.2 331.4,303.1 331.7,303.0 332.1,302.8 332.5,302.6 332.8,302.3 333.2,302.1 333.6,301.8 333.9,301.6 334.3,301.4 334.6,301.1 335.0,300.9 335.4,300.8 335.7,300.6 336.1,300.5 336.5,300.4 336.8,300.3 337.2,300.3 337.6,300.3 337.9,300.3 338.3,300.2 338.6,300.2 339.0,300.2 339.4,300.2 339.7,300.1 340.1,300.0 340.5,299.9 340.8,299.7 341.2,299.5 341.5,299.3 341.9,299.1 342.3,298.8 342.6,298.6 343.0,298.4 343.4,298.2 343.7,298.0 344.1,297.8 344.5,297.7 344.8,297.6 345.2,297.6 345.5,297.6 345.9,297.6 346.3,297.6 346.6,297.7 347.0,297.9 347.4,298.0 347.7,298.2 348.1,298.4 348.4,298.6 348.8,298.7 349.2,298.9 349.5,299.1 349.9,299.3 350.3,299.5 350.6,299.7 351.0,299.8 351.4,300.0 351.7,300.2 352.1,300.3 352.4,300.4 352.8,300.6 353.2,300.7 353.5,300.9 353.9,301.0 354.3,301.2 354.6,301.3 355.0,301.5 355.3,301.7 355.7,301.8 356.1,302.0 356.4,302.1 356.8,302.3 357.2,302.4 357.5,302.5 357.9,302.6 358.3,302.7 358.6,302.8 359.0,302.8 359.3,302.9 359.7,303.0 360.1,303.1 360.4,303.1 360.8,303.2 361.2,303.2 361.5,303.3 361.9,303.3 362.2,303.3 362.6,303.4 363.0,303.4 363.3,303.4 363.7,303.4 364.1,303.5 364.4,303.5 364.8,303.5 365.2,303.5 365.5,303.5 365.9,303.5 366.2,303.5 366.6,303.6 367.0,303.6 367.3,303.6 367.7,303.6 368.1,303.6 368.4,303.6 368.8,303.6 369.1,303.6 369.5,303.6 369.9,303.6 370.2,303.6 370.6,303.6 371.0,303.6 371.3,303.6 371.7,303.6 372.1,303.6 372.4,303.6"/>
<polyline fill="none" stroke="#1a2a9a" stroke-width="0.70" stroke-linejoin="round" points="322.3,302.1 322.7,302.2 323.0,302.2 323.4,302.3 323.8,302.5 324.1,302.6 324.5,302.8 324.8,302.9 325.2,303.1 325.6,303.2 325.9,303.4 326.3,303.5 326.7,303.5 327.0,303.6 327.4,303.6 327.7,303.5 328.1,303.5 328.5,303.3 328.8,303.2 329.2,303.1 329.6,302.9 329.9,302.7 330.3,302.5 330.7,302.3 331.0,302.2 331.4,302.0 331.7,301.9 332.1,301.8 332.5,301.8 332.8,301.8 333.2,301.8 333.6,301.8 333.9,301.8 334.3,301.9 334.6,302.0 335.0,302.1 335.4,302.1 335.7,302.2 336.1,302.2 336.5,302.2 336.8,302.1 337.2,302.0 337.6,301.9 337.9,301.7 338.3,301.5 338.6,301.2 339.0,300.9 339.4,300.6 339.7,300.3 340.1,299.9 340.5,299.6 340.8,299.3 341.2,299.0 341.5,298.7 341.9,298.4 342.3,298.2 342.6,298.0 343.0,297.9 343.4,297.7 343.7,297.7 344.1,297.6 344.5,297.6 344.8,297.5 345.2,297.5 345.5,297.5 345.9,297.6 346.3,297.6 346.6,297.6 347.0,297.6 347.4,297.7 347.7,297.7 348.1,297.7 348.4,297.7 348.8,297.8 349.2,297.8 349.5,297.8 349.9,297.9 350.3,298.0 350.6,298.1 351.0,298.2 351.4,298.3 351.7,298.5 352.1,298.6 352.4,298.8 352.8,299.0 353.2,299.2 353.5,299.5 353.9,299.7 354.3,299.9 354.6,300.1 355.0,300.4 355.3,300.6 355.7,300.8 356.1,301.0 356.4,301.2 356.8,301.3 357.2,301.5 357.5,301.6 357.9,301.8 358.3,301.9 358.6,302.1 359.0,302.2 359.3,302.3 359.7,302.4 360.1,302.5 360.4,302.6 360.8,302.7 361.2,302.8 361.5,302.9 361.9,303.0 362.2,303.0 362.6,303.1 363.0,303.2 363.3,303.2 363.7,303.3 364.1,303.3 364.4,303.3 364.8,303.4 365.2,303.4 365.5,303.4 365.9,303.4 366.2,303.5 366.6,303.5 367.0,303.5 367.3,303.5 367.7,303.5 368.1,303.5 368.4,303.5 368.8,303.6 369.1,303.6 369.5,303.6 369.9,303.6 370.2,303.6 370.6,303.6 371.0,303.6 371.3,303.6 371.7,303.6 372.1,303.6 372.4,303.6"/>
<polyline fill="none" stroke="#1a1aa8" stroke-width="0.70" stroke-linejoin="round" points="322.3,303.6 322.7,303.5 323.0,303.4 323.4,303.3 323.8,303.2 324.1,303.0 324.5,302.8 324.8,302.7 325.2,302.5 325.6,302.4 325.9,302.3 326.3,302.2 326.7,302.1 327.0,302.1 327.4,302.1 327.7,302.1 328.1,302.2 328.5,302.3 328.8,302.4 329.2,302.6 329.6,302.7 329.9,302.8 330.3,303.0 330.7,303.1 331.0,303.2 331.4,303.2 331.7,303.2 332.1,303.2 332.5,303.2 332.8,303.1 333.2,302.9 333.6,302.7 333.9,302.5 334.3,302.3 334.6,302.1 335.0,301.8 335.4,301.5 335.7,301.3 336.1,301.0 336.5,300.8 336.8,300.6 337.2,300.5 337.6,300.3 337.9,300.2 338.3,300.2 338.6,300.1 339.0,300.1 339.4,300.1 339.7,300.1 340.1,300.1 340.5,300.1 340.8,300.0 341.2,300.0 341.5,299.9 341.9,299.8 342.3,299.6 342.6,299.5 343.0,299.3 343.4,299.1 343.7,298.9 344.1,298.7 344.5,298.5 344.8,298.3 345.2,298.1 345.5,298.0 345.9,297.9 346.3,297.8 346.6,297.7 347.0,297.7 347.4,297.7 347.7,297.7 348.1,297.8 348.4,297.9 348.8,298.0 349.2,298.2 349.5,298.3 349.9,298.5 350.3,298.7 350.6,298.8 351.0,299.0 351.4,299.2 351.7,299.3 352.1,299.5 352.4,299.7 352.8,299.8 353.2,299.9 353.5,300.1 353.9,300.2 354.3,300.4 354.6,300.5 355.0,300.7 355.3,300.8 355.7,301.0 356.1,301.2 356.4,301.3 356.8,301.5 357.2,301.6 357.5,301.8 357.9,301.9 358.3,302.0 358.6,302.1 359.0,302.2 359.3,302.4 359.7,302.5 360.1,302.6 360.4,302.6 360.8,302.7 361.2,302.8 361.5,302.9 361.9,303.0 362.2,303.0 362.6,303.1 363.0,303.1 363.3,303.2 363.7,303.2 364.1,303.3 364.4,303.3 364.8,303.3 365.2,303.4 365.5,303.4 365.9,303.4 366.2,303.4 366.6,303.5 367.0,303.5 367.3,303.5 367.7,303.5 368.1,303.5 368.4,303.5 368.8,303.5 369.1,303.5 369.5,303.6 369.9,303.6 370.2,303.6 370.6,303.6 371.0,303.6 371.3,303.6 371.7,303.6 372.1,303.6 372.4,303.6"/>
<rect x="322.30" y="266.60" width="50.30" height="37.00" fill="none" stroke="#222" stroke-width="0.7"/>
<line x1="321.10" y1="303.60" x2="322.30" y2="303.60" stroke="#333" stroke-width="0.5"/>
<text x="320.50" y="304.70" text-anchor="end" font-size="3.3" fill="#333">0</text>
<line x1="321.10" y1="294.35" x2="322.30" y2="294.35" stroke="#333" stroke-width="0.5"/>
<text x="320.50" y="295.45" text-anchor="end" font-size="3.3" fill="#333">50</text>
<line x1="321.10" y1="285.10" x2="322.30" y2="285.10" stroke="#333" stroke-width="0.5"/>
<text x="320.50" y="286.20" text-anchor="end" font-size="3.3" fill="#333">100</text>
<line x1="321.10" y1="275.85" x2="322.30" y2="275.85" stroke="#333" stroke-width="0.5"/>
<text x="320.50" y="276.95" text-anchor="end" font-size="3.3" fill="#333">150</text>
<line x1="321.10" y1="266.60" x2="322.30" y2="266.60" stroke="#333" stroke-width="0.5"/>
<text x="320.50" y="267.70" text-anchor="end" font-size="3.3" fill="#333">200</text>
<line x1="323.66" y1="303.60" x2="323.66" y2="304.80" stroke="#333" stroke-width="0.5"/>
<text x="323.66" y="308.20" text-anchor="middle" font-size="3.2" fill="#333">500</text>
<line x1="332.74" y1="303.60" x2="332.74" y2="304.80" stroke="#333" stroke-width="0.5"/>
<text x="332.74" y="308.20" text-anchor="middle" font-size="3.2" fill="#333">550</text>
<line x1="341.82" y1="303.60" x2="341.82" y2="304.80" stroke="#333" stroke-width="0.5"/>
<text x="341.82" y="308.20" text-anchor="middle" font-size="3.2" fill="#333">600</text>
<line x1="350.90" y1="303.60" x2="350.90" y2="304.80" stroke="#333" stroke-width="0.5"/>
<text x="350.90" y="308.20" text-anchor="middle" font-size="3.2" fill="#333">650</text>
<line x1="359.98" y1="303.60" x2="359.98" y2="304.80" stroke="#333" stroke-width="0.5"/>
<text x="359.98" y="308.20" text-anchor="middle" font-size="3.2" fill="#333">700</text>
<line x1="369.06" y1="303.60" x2="369.06" y2="304.80" stroke="#333" stroke-width="0.5"/>
<text x="369.06" y="308.20" text-anchor="middle" font-size="3.2" fill="#333">750</text>
<text x="347.45" y="312.00" text-anchor="middle" font-size="3.6" fill="#222" textLength="27" lengthAdjust="spacingAndGlyphs">Wavelength / nm</text>
<text transform="translate(312.70,285.60) rotate(-90)" text-anchor="middle" font-size="3.1" fill="#333">FL Intensity / a.u.</text>
<line x1="364.10" y1="269.80" x2="368.10" y2="269.80" stroke="#000000" stroke-width="0.6"/>
<text x="368.40" y="270.40" font-size="1.9" fill="#c44">10:0</text>
<line x1="364.10" y1="272.35" x2="368.10" y2="272.35" stroke="#ff1a1a" stroke-width="0.6"/>
<text x="368.40" y="272.95" font-size="1.9" fill="#c44">9:1</text>
<line x1="364.10" y1="274.90" x2="368.10" y2="274.90" stroke="#1a1aa8" stroke-width="0.6"/>
<text x="368.40" y="275.50" font-size="1.9" fill="#c44">8:2</text>
<line x1="364.10" y1="277.45" x2="368.10" y2="277.45" stroke="#ff1a8c" stroke-width="0.6"/>
<text x="368.40" y="278.05" font-size="1.9" fill="#c44">7:3</text>
<line x1="364.10" y1="280.00" x2="368.10" y2="280.00" stroke="#1f9a50" stroke-width="0.6"/>
<text x="368.40" y="280.60" font-size="1.9" fill="#c44">6:4</text>
<line x1="364.10" y1="282.55" x2="368.10" y2="282.55" stroke="#1a2a9a" stroke-width="0.6"/>
<text x="368.40" y="283.15" font-size="1.9" fill="#c44">5:5</text>
<line x1="364.10" y1="285.10" x2="368.10" y2="285.10" stroke="#9020c0" stroke-width="0.6"/>
<text x="368.40" y="285.70" font-size="1.9" fill="#c44">4:6</text>
<line x1="364.10" y1="287.65" x2="368.10" y2="287.65" stroke="#8a30c8" stroke-width="0.6"/>
<text x="368.40" y="288.25" font-size="1.9" fill="#c44">3:7</text>
<line x1="364.10" y1="290.20" x2="368.10" y2="290.20" stroke="#a02050" stroke-width="0.6"/>
<text x="368.40" y="290.80" font-size="1.9" fill="#c44">2:8</text>
<line x1="364.10" y1="292.75" x2="368.10" y2="292.75" stroke="#9a9a60" stroke-width="0.6"/>
<text x="368.40" y="293.35" font-size="1.9" fill="#c44">1:9</text>
<line x1="364.10" y1="295.30" x2="368.10" y2="295.30" stroke="#3a7a98" stroke-width="0.6"/>
<text x="368.40" y="295.90" font-size="1.9" fill="#c44">0:10</text>
<text x="363.10" y="270.40" text-anchor="end" font-size="1.9" fill="#555">Diox:H<tspan font-size="1.4" dy="0.4">2</tspan><tspan dy="-0.4">O / V:V</tspan></text>
<line x1="311.00" y1="218.00" x2="328.22" y2="192.56" stroke="#e0102a" stroke-width="1.40"/>
<polygon points="331.30,188.00 330.50,194.10 325.94,191.01" fill="#e0102a"/>
<line x1="312.60" y1="348.40" x2="329.51" y2="323.55" stroke="#e0102a" stroke-width="1.40"/>
<polygon points="332.60,319.00 331.78,325.09 327.23,322.00" fill="#e0102a"/></g>
<g><rect x="50.80" y="5.10" width="130.20" height="92.10" fill="none" stroke="#000" stroke-width="1.30"/>
<line x1="50.80" y1="97.20" x2="50.80" y2="101.70" stroke="#000" stroke-width="1.30"/>
<line x1="72.50" y1="97.20" x2="72.50" y2="101.70" stroke="#000" stroke-width="1.30"/>
<line x1="94.20" y1="97.20" x2="94.20" y2="101.70" stroke="#000" stroke-width="1.30"/>
<line x1="115.90" y1="97.20" x2="115.90" y2="101.70" stroke="#000" stroke-width="1.30"/>
<line x1="137.60" y1="97.20" x2="137.60" y2="101.70" stroke="#000" stroke-width="1.30"/>
<line x1="159.30" y1="97.20" x2="159.30" y2="101.70" stroke="#000" stroke-width="1.30"/>
<line x1="181.00" y1="97.20" x2="181.00" y2="101.70" stroke="#000" stroke-width="1.30"/>
<line x1="46.30" y1="97.20" x2="50.80" y2="97.20" stroke="#000" stroke-width="1.30"/>
<line x1="46.30" y1="78.78" x2="50.80" y2="78.78" stroke="#000" stroke-width="1.30"/>
<line x1="46.30" y1="60.36" x2="50.80" y2="60.36" stroke="#000" stroke-width="1.30"/>
<line x1="46.30" y1="41.94" x2="50.80" y2="41.94" stroke="#000" stroke-width="1.30"/>
<line x1="46.30" y1="23.52" x2="50.80" y2="23.52" stroke="#000" stroke-width="1.30"/>
<line x1="46.30" y1="5.10" x2="50.80" y2="5.10" stroke="#000" stroke-width="1.30"/>
<text class="b" x="42.50" y="100.02" text-anchor="end" font-size="8.30">0.00</text>
<text class="b" x="42.50" y="81.60" text-anchor="end" font-size="8.30">0.05</text>
<text class="b" x="42.50" y="63.18" text-anchor="end" font-size="8.30">0.10</text>
<text class="b" x="42.50" y="44.76" text-anchor="end" font-size="8.30">0.15</text>
<text class="b" x="42.50" y="26.34" text-anchor="end" font-size="8.30">0.20</text>
<text class="b" x="42.50" y="7.92" text-anchor="end" font-size="8.30">0.25</text>
<text class="b" x="50.80" y="112.20" text-anchor="middle" font-size="8.30">350</text>
<text class="b" x="72.50" y="112.20" text-anchor="middle" font-size="8.30">400</text>
<text class="b" x="94.20" y="112.20" text-anchor="middle" font-size="8.30">450</text>
<text class="b" x="115.90" y="112.20" text-anchor="middle" font-size="8.30">500</text>
<text class="b" x="137.60" y="112.20" text-anchor="middle" font-size="8.30">550</text>
<text class="b" x="159.30" y="112.20" text-anchor="middle" font-size="8.30">600</text>
<text class="b" x="181.00" y="112.20" text-anchor="middle" font-size="8.30">650</text>
<text class="b" transform="translate(119.20,121.30) scale(0.88,1)" x="0" y="0" text-anchor="middle" font-size="10.20" textLength="79.5" lengthAdjust="spacing">Wavelength / nm</text>
<text class="b" transform="translate(23.80,56.20) rotate(-90)" text-anchor="middle" font-size="10.00" textLength="48.4" lengthAdjust="spacingAndGlyphs">Absorption</text>
<rect x="244.40" y="5.20" width="131.10" height="92.10" fill="none" stroke="#000" stroke-width="1.30"/>
<line x1="249.10" y1="97.30" x2="249.10" y2="101.80" stroke="#000" stroke-width="1.30"/>
<line x1="274.38" y1="97.30" x2="274.38" y2="101.80" stroke="#000" stroke-width="1.30"/>
<line x1="299.66" y1="97.30" x2="299.66" y2="101.80" stroke="#000" stroke-width="1.30"/>
<line x1="324.94" y1="97.30" x2="324.94" y2="101.80" stroke="#000" stroke-width="1.30"/>
<line x1="350.22" y1="97.30" x2="350.22" y2="101.80" stroke="#000" stroke-width="1.30"/>
<line x1="375.50" y1="97.30" x2="375.50" y2="101.80" stroke="#000" stroke-width="1.30"/>
<line x1="239.10" y1="97.30" x2="244.40" y2="97.30" stroke="#000" stroke-width="1.30"/>
<line x1="239.10" y1="68.96" x2="244.40" y2="68.96" stroke="#000" stroke-width="1.30"/>
<line x1="239.10" y1="40.62" x2="244.40" y2="40.62" stroke="#000" stroke-width="1.30"/>
<line x1="239.10" y1="12.28" x2="244.40" y2="12.28" stroke="#000" stroke-width="1.30"/>
<text class="b" x="236.30" y="100.12" text-anchor="end" font-size="8.30">0</text>
<text class="b" x="236.30" y="71.78" text-anchor="end" font-size="8.30">2000</text>
<text class="b" x="236.30" y="43.45" text-anchor="end" font-size="8.30">4000</text>
<text class="b" x="236.30" y="15.11" text-anchor="end" font-size="8.30">6000</text>
<text class="b" x="249.10" y="112.20" text-anchor="middle" font-size="8.30">500</text>
<text class="b" x="274.38" y="112.20" text-anchor="middle" font-size="8.30">550</text>
<text class="b" x="299.66" y="112.20" text-anchor="middle" font-size="8.30">600</text>
<text class="b" x="324.94" y="112.20" text-anchor="middle" font-size="8.30">650</text>
<text class="b" x="350.22" y="112.20" text-anchor="middle" font-size="8.30">700</text>
<text class="b" x="375.50" y="112.20" text-anchor="middle" font-size="8.30">750</text>
<text class="b" transform="translate(310.40,121.30) scale(0.88,1)" x="0" y="0" text-anchor="middle" font-size="10.20" textLength="79.5" lengthAdjust="spacing">Wavelength / nm</text>
<text class="b" transform="translate(215.50,55.10) rotate(-90)" text-anchor="middle" font-size="10.50" textLength="74.7" lengthAdjust="spacingAndGlyphs">Fl. Intensity / a.u.</text>
<rect x="51.10" y="133.60" width="130.70" height="91.90" fill="none" stroke="#000" stroke-width="1.30"/>
<line x1="51.10" y1="225.50" x2="51.10" y2="230.00" stroke="#000" stroke-width="1.30"/>
<line x1="72.88" y1="225.50" x2="72.88" y2="230.00" stroke="#000" stroke-width="1.30"/>
<line x1="94.67" y1="225.50" x2="94.67" y2="230.00" stroke="#000" stroke-width="1.30"/>
<line x1="116.45" y1="225.50" x2="116.45" y2="230.00" stroke="#000" stroke-width="1.30"/>
<line x1="138.23" y1="225.50" x2="138.23" y2="230.00" stroke="#000" stroke-width="1.30"/>
<line x1="160.02" y1="225.50" x2="160.02" y2="230.00" stroke="#000" stroke-width="1.30"/>
<line x1="181.80" y1="225.50" x2="181.80" y2="230.00" stroke="#000" stroke-width="1.30"/>
<line x1="46.60" y1="225.50" x2="51.10" y2="225.50" stroke="#000" stroke-width="1.30"/>
<line x1="46.60" y1="207.12" x2="51.10" y2="207.12" stroke="#000" stroke-width="1.30"/>
<line x1="46.60" y1="188.74" x2="51.10" y2="188.74" stroke="#000" stroke-width="1.30"/>
<line x1="46.60" y1="170.36" x2="51.10" y2="170.36" stroke="#000" stroke-width="1.30"/>
<line x1="46.60" y1="151.98" x2="51.10" y2="151.98" stroke="#000" stroke-width="1.30"/>
<line x1="46.60" y1="133.60" x2="51.10" y2="133.60" stroke="#000" stroke-width="1.30"/>
<text class="b" x="43.20" y="228.32" text-anchor="end" font-size="8.30">0.00</text>
<text class="b" x="43.20" y="209.94" text-anchor="end" font-size="8.30">0.05</text>
<text class="b" x="43.20" y="191.56" text-anchor="end" font-size="8.30">0.10</text>
<text class="b" x="43.20" y="173.18" text-anchor="end" font-size="8.30">0.15</text>
<text class="b" x="43.20" y="154.80" text-anchor="end" font-size="8.30">0.20</text>
<text class="b" x="43.20" y="136.42" text-anchor="end" font-size="8.30">0.25</text>
<text class="b" x="51.10" y="240.40" text-anchor="middle" font-size="8.30">350</text>
<text class="b" x="72.88" y="240.40" text-anchor="middle" font-size="8.30">400</text>
<text class="b" x="94.67" y="240.40" text-anchor="middle" font-size="8.30">450</text>
<text class="b" x="116.45" y="240.40" text-anchor="middle" font-size="8.30">500</text>
<text class="b" x="138.23" y="240.40" text-anchor="middle" font-size="8.30">550</text>
<text class="b" x="160.02" y="240.40" text-anchor="middle" font-size="8.30">600</text>
<text class="b" x="181.80" y="240.40" text-anchor="middle" font-size="8.30">650</text>
<text class="b" transform="translate(119.20,249.50) scale(0.88,1)" x="0" y="0" text-anchor="middle" font-size="10.20" textLength="79.5" lengthAdjust="spacing">Wavelength / nm</text>
<text class="b" transform="translate(26.80,184.40) rotate(-90)" text-anchor="middle" font-size="10.00" textLength="47.8" lengthAdjust="spacingAndGlyphs">Absorption</text>
<rect x="244.40" y="133.30" width="131.40" height="92.00" fill="none" stroke="#000" stroke-width="1.30"/>
<line x1="244.40" y1="225.30" x2="244.40" y2="229.80" stroke="#000" stroke-width="1.30"/>
<line x1="263.17" y1="225.30" x2="263.17" y2="229.80" stroke="#000" stroke-width="1.30"/>
<line x1="281.94" y1="225.30" x2="281.94" y2="229.80" stroke="#000" stroke-width="1.30"/>
<line x1="300.71" y1="225.30" x2="300.71" y2="229.80" stroke="#000" stroke-width="1.30"/>
<line x1="319.49" y1="225.30" x2="319.49" y2="229.80" stroke="#000" stroke-width="1.30"/>
<line x1="338.26" y1="225.30" x2="338.26" y2="229.80" stroke="#000" stroke-width="1.30"/>
<line x1="357.03" y1="225.30" x2="357.03" y2="229.80" stroke="#000" stroke-width="1.30"/>
<line x1="375.80" y1="225.30" x2="375.80" y2="229.80" stroke="#000" stroke-width="1.30"/>
<line x1="239.10" y1="225.30" x2="244.40" y2="225.30" stroke="#000" stroke-width="1.30"/>
<line x1="239.10" y1="204.86" x2="244.40" y2="204.86" stroke="#000" stroke-width="1.30"/>
<line x1="239.10" y1="184.41" x2="244.40" y2="184.41" stroke="#000" stroke-width="1.30"/>
<line x1="239.10" y1="163.97" x2="244.40" y2="163.97" stroke="#000" stroke-width="1.30"/>
<line x1="239.10" y1="143.52" x2="244.40" y2="143.52" stroke="#000" stroke-width="1.30"/>
<text class="b" x="236.30" y="228.12" text-anchor="end" font-size="8.30">0</text>
<text class="b" x="236.30" y="207.68" text-anchor="end" font-size="8.30">2000</text>
<text class="b" x="236.30" y="187.23" text-anchor="end" font-size="8.30">4000</text>
<text class="b" x="236.30" y="166.79" text-anchor="end" font-size="8.30">6000</text>
<text class="b" x="236.30" y="146.34" text-anchor="end" font-size="8.30">8000</text>
<text class="b" x="244.40" y="240.40" text-anchor="middle" font-size="8.30">450</text>
<text class="b" x="263.17" y="240.40" text-anchor="middle" font-size="8.30">500</text>
<text class="b" x="281.94" y="240.40" text-anchor="middle" font-size="8.30">550</text>
<text class="b" x="300.71" y="240.40" text-anchor="middle" font-size="8.30">600</text>
<text class="b" x="319.49" y="240.40" text-anchor="middle" font-size="8.30">650</text>
<text class="b" x="338.26" y="240.40" text-anchor="middle" font-size="8.30">700</text>
<text class="b" x="357.03" y="240.40" text-anchor="middle" font-size="8.30">750</text>
<text class="b" x="375.80" y="240.40" text-anchor="middle" font-size="8.30">800</text>
<text class="b" transform="translate(310.40,249.50) scale(0.88,1)" x="0" y="0" text-anchor="middle" font-size="10.20" textLength="79.5" lengthAdjust="spacing">Wavelength / nm</text>
<text class="b" transform="translate(217.20,182.75) rotate(-90)" text-anchor="middle" font-size="10.50" textLength="74.1" lengthAdjust="spacingAndGlyphs">Fl. Intensity / a.u.</text>
<rect x="50.60" y="262.10" width="130.20" height="91.70" fill="none" stroke="#000" stroke-width="1.30"/>
<line x1="50.60" y1="353.80" x2="50.60" y2="358.30" stroke="#000" stroke-width="1.30"/>
<line x1="69.20" y1="353.80" x2="69.20" y2="358.30" stroke="#000" stroke-width="1.30"/>
<line x1="87.80" y1="353.80" x2="87.80" y2="358.30" stroke="#000" stroke-width="1.30"/>
<line x1="106.40" y1="353.80" x2="106.40" y2="358.30" stroke="#000" stroke-width="1.30"/>
<line x1="125.00" y1="353.80" x2="125.00" y2="358.30" stroke="#000" stroke-width="1.30"/>
<line x1="143.60" y1="353.80" x2="143.60" y2="358.30" stroke="#000" stroke-width="1.30"/>
<line x1="162.20" y1="353.80" x2="162.20" y2="358.30" stroke="#000" stroke-width="1.30"/>
<line x1="180.80" y1="353.80" x2="180.80" y2="358.30" stroke="#000" stroke-width="1.30"/>
<line x1="46.10" y1="353.80" x2="50.60" y2="353.80" stroke="#000" stroke-width="1.30"/>
<line x1="46.10" y1="335.46" x2="50.60" y2="335.46" stroke="#000" stroke-width="1.30"/>
<line x1="46.10" y1="317.12" x2="50.60" y2="317.12" stroke="#000" stroke-width="1.30"/>
<line x1="46.10" y1="298.78" x2="50.60" y2="298.78" stroke="#000" stroke-width="1.30"/>
<line x1="46.10" y1="280.44" x2="50.60" y2="280.44" stroke="#000" stroke-width="1.30"/>
<line x1="46.10" y1="262.10" x2="50.60" y2="262.10" stroke="#000" stroke-width="1.30"/>
<text class="b" x="42.50" y="356.62" text-anchor="end" font-size="8.30">0.00</text>
<text class="b" x="42.50" y="338.28" text-anchor="end" font-size="8.30">0.05</text>
<text class="b" x="42.50" y="319.94" text-anchor="end" font-size="8.30">0.10</text>
<text class="b" x="42.50" y="301.60" text-anchor="end" font-size="8.30">0.15</text>
<text class="b" x="42.50" y="283.26" text-anchor="end" font-size="8.30">0.20</text>
<text class="b" x="42.50" y="264.92" text-anchor="end" font-size="8.30">0.25</text>
<text class="b" x="50.60" y="369.60" text-anchor="middle" font-size="8.30">350</text>
<text class="b" x="69.20" y="369.60" text-anchor="middle" font-size="8.30">400</text>
<text class="b" x="87.80" y="369.60" text-anchor="middle" font-size="8.30">450</text>
<text class="b" x="106.40" y="369.60" text-anchor="middle" font-size="8.30">500</text>
<text class="b" x="125.00" y="369.60" text-anchor="middle" font-size="8.30">550</text>
<text class="b" x="143.60" y="369.60" text-anchor="middle" font-size="8.30">600</text>
<text class="b" x="162.20" y="369.60" text-anchor="middle" font-size="8.30">650</text>
<text class="b" x="180.80" y="369.60" text-anchor="middle" font-size="8.30">700</text>
<text class="b" transform="translate(119.20,378.50) scale(0.88,1)" x="0" y="0" text-anchor="middle" font-size="10.20" textLength="79.5" lengthAdjust="spacing">Wavelength / nm</text>
<text class="b" transform="translate(23.80,313.20) rotate(-90)" text-anchor="middle" font-size="10.00" textLength="47.5" lengthAdjust="spacingAndGlyphs">Absorption</text>
<rect x="245.30" y="262.20" width="131.00" height="91.60" fill="none" stroke="#000" stroke-width="1.30"/>
<line x1="245.30" y1="353.80" x2="245.30" y2="358.30" stroke="#000" stroke-width="1.30"/>
<line x1="264.01" y1="353.80" x2="264.01" y2="358.30" stroke="#000" stroke-width="1.30"/>
<line x1="282.73" y1="353.80" x2="282.73" y2="358.30" stroke="#000" stroke-width="1.30"/>
<line x1="301.44" y1="353.80" x2="301.44" y2="358.30" stroke="#000" stroke-width="1.30"/>
<line x1="320.16" y1="353.80" x2="320.16" y2="358.30" stroke="#000" stroke-width="1.30"/>
<line x1="338.87" y1="353.80" x2="338.87" y2="358.30" stroke="#000" stroke-width="1.30"/>
<line x1="357.59" y1="353.80" x2="357.59" y2="358.30" stroke="#000" stroke-width="1.30"/>
<line x1="376.30" y1="353.80" x2="376.30" y2="358.30" stroke="#000" stroke-width="1.30"/>
<line x1="240.00" y1="353.80" x2="245.30" y2="353.80" stroke="#000" stroke-width="1.30"/>
<line x1="240.00" y1="327.63" x2="245.30" y2="327.63" stroke="#000" stroke-width="1.30"/>
<line x1="240.00" y1="301.46" x2="245.30" y2="301.46" stroke="#000" stroke-width="1.30"/>
<line x1="240.00" y1="275.29" x2="245.30" y2="275.29" stroke="#000" stroke-width="1.30"/>
<text class="b" x="236.30" y="356.62" text-anchor="end" font-size="8.30">0</text>
<text class="b" x="236.30" y="330.45" text-anchor="end" font-size="8.30">2000</text>
<text class="b" x="236.30" y="304.28" text-anchor="end" font-size="8.30">4000</text>
<text class="b" x="236.30" y="278.11" text-anchor="end" font-size="8.30">6000</text>
<text class="b" x="245.30" y="369.60" text-anchor="middle" font-size="8.30">450</text>
<text class="b" x="264.01" y="369.60" text-anchor="middle" font-size="8.30">500</text>
<text class="b" x="282.73" y="369.60" text-anchor="middle" font-size="8.30">550</text>
<text class="b" x="301.44" y="369.60" text-anchor="middle" font-size="8.30">600</text>
<text class="b" x="320.16" y="369.60" text-anchor="middle" font-size="8.30">650</text>
<text class="b" x="338.87" y="369.60" text-anchor="middle" font-size="8.30">700</text>
<text class="b" x="357.59" y="369.60" text-anchor="middle" font-size="8.30">750</text>
<text class="b" x="376.30" y="369.60" text-anchor="middle" font-size="8.30">800</text>
<text class="b" transform="translate(310.40,378.50) scale(0.88,1)" x="0" y="0" text-anchor="middle" font-size="10.20" textLength="79.5" lengthAdjust="spacing">Wavelength / nm</text>
<text class="b" transform="translate(216.90,311.50) rotate(-90)" text-anchor="middle" font-size="10.50" textLength="74.8" lengthAdjust="spacingAndGlyphs">Fl. Intensity / a.u.</text>
<line x1="154.00" y1="11.50" x2="165.60" y2="11.50" stroke="#000000" stroke-width="1.40"/>
<text x="166.40" y="13.84" font-size="6.30" stroke="#111" stroke-width="0.12">10:0</text>
<line x1="154.00" y1="19.50" x2="165.60" y2="19.50" stroke="#ff1a1a" stroke-width="1.40"/>
<text x="166.40" y="21.79" font-size="6.30" stroke="#111" stroke-width="0.12">9:1</text>
<line x1="154.00" y1="27.50" x2="165.60" y2="27.50" stroke="#1a1aa8" stroke-width="1.40"/>
<text x="166.40" y="29.74" font-size="6.30" stroke="#111" stroke-width="0.12">8:2</text>
<line x1="154.00" y1="35.50" x2="165.60" y2="35.50" stroke="#ff1a8c" stroke-width="1.40"/>
<text x="166.40" y="37.69" font-size="6.30" stroke="#111" stroke-width="0.12">7:3</text>
<line x1="154.00" y1="43.50" x2="165.60" y2="43.50" stroke="#1f9a50" stroke-width="1.40"/>
<text x="166.40" y="45.64" font-size="6.30" stroke="#111" stroke-width="0.12">6:4</text>
<line x1="154.00" y1="51.50" x2="165.60" y2="51.50" stroke="#1a2a9a" stroke-width="1.40"/>
<text x="166.40" y="53.59" font-size="6.30" stroke="#111" stroke-width="0.12">5:5</text>
<line x1="154.00" y1="59.50" x2="165.60" y2="59.50" stroke="#9020c0" stroke-width="1.40"/>
<text x="166.40" y="61.54" font-size="6.30" stroke="#111" stroke-width="0.12">4:6</text>
<line x1="154.00" y1="67.50" x2="165.60" y2="67.50" stroke="#8a30c8" stroke-width="1.40"/>
<text x="166.40" y="69.49" font-size="6.30" stroke="#111" stroke-width="0.12">3:7</text>
<line x1="154.00" y1="75.50" x2="165.60" y2="75.50" stroke="#a02050" stroke-width="1.40"/>
<text x="166.40" y="77.44" font-size="6.30" stroke="#111" stroke-width="0.12">2:8</text>
<line x1="154.00" y1="83.50" x2="165.60" y2="83.50" stroke="#9a9a60" stroke-width="1.40"/>
<text x="166.40" y="85.39" font-size="6.30" stroke="#111" stroke-width="0.12">1:9</text>
<line x1="154.00" y1="91.50" x2="165.60" y2="91.50" stroke="#3a7a98" stroke-width="1.40"/>
<text x="166.40" y="93.34" font-size="6.30" stroke="#111" stroke-width="0.12">0:10</text>
<text x="121.50" y="13.57" font-size="5.20" textLength="28.9" lengthAdjust="spacingAndGlyphs">Diox:EA / V:V</text>
<line x1="348.70" y1="11.50" x2="360.00" y2="11.50" stroke="#000000" stroke-width="1.40"/>
<text x="360.80" y="13.54" font-size="6.30" stroke="#111" stroke-width="0.12">10:0</text>
<line x1="348.70" y1="19.50" x2="360.00" y2="19.50" stroke="#ff1a1a" stroke-width="1.40"/>
<text x="360.80" y="21.49" font-size="6.30" stroke="#111" stroke-width="0.12">9:1</text>
<line x1="348.70" y1="27.50" x2="360.00" y2="27.50" stroke="#1a1aa8" stroke-width="1.40"/>
<text x="360.80" y="29.44" font-size="6.30" stroke="#111" stroke-width="0.12">8:2</text>
<line x1="348.70" y1="35.50" x2="360.00" y2="35.50" stroke="#ff1a8c" stroke-width="1.40"/>
<text x="360.80" y="37.39" font-size="6.30" stroke="#111" stroke-width="0.12">7:3</text>
<line x1="348.70" y1="43.50" x2="360.00" y2="43.50" stroke="#1f9a50" stroke-width="1.40"/>
<text x="360.80" y="45.34" font-size="6.30" stroke="#111" stroke-width="0.12">6:4</text>
<line x1="348.70" y1="51.50" x2="360.00" y2="51.50" stroke="#1a2a9a" stroke-width="1.40"/>
<text x="360.80" y="53.29" font-size="6.30" stroke="#111" stroke-width="0.12">5:5</text>
<line x1="348.70" y1="59.50" x2="360.00" y2="59.50" stroke="#9020c0" stroke-width="1.40"/>
<text x="360.80" y="61.24" font-size="6.30" stroke="#111" stroke-width="0.12">4:6</text>
<line x1="348.70" y1="67.50" x2="360.00" y2="67.50" stroke="#8a30c8" stroke-width="1.40"/>
<text x="360.80" y="69.19" font-size="6.30" stroke="#111" stroke-width="0.12">3:7</text>
<line x1="348.70" y1="75.50" x2="360.00" y2="75.50" stroke="#a02050" stroke-width="1.40"/>
<text x="360.80" y="77.14" font-size="6.30" stroke="#111" stroke-width="0.12">2:8</text>
<line x1="348.70" y1="82.50" x2="360.00" y2="82.50" stroke="#9a9a60" stroke-width="1.40"/>
<text x="360.80" y="85.09" font-size="6.30" stroke="#111" stroke-width="0.12">1:9</text>
<line x1="348.70" y1="90.50" x2="360.00" y2="90.50" stroke="#3a7a98" stroke-width="1.40"/>
<text x="360.80" y="93.04" font-size="6.30" stroke="#111" stroke-width="0.12">0:10</text>
<text x="316.70" y="13.27" font-size="5.20" textLength="29.1" lengthAdjust="spacingAndGlyphs">Diox:EA / V:V</text>
<line x1="155.50" y1="139.50" x2="167.30" y2="139.50" stroke="#000000" stroke-width="1.40"/>
<text x="168.10" y="141.64" font-size="6.30" stroke="#111" stroke-width="0.12">10:0</text>
<line x1="155.50" y1="147.50" x2="167.30" y2="147.50" stroke="#ff1a1a" stroke-width="1.40"/>
<text x="168.10" y="149.54" font-size="6.30" stroke="#111" stroke-width="0.12">9:1</text>
<line x1="155.50" y1="155.50" x2="167.30" y2="155.50" stroke="#1a1aa8" stroke-width="1.40"/>
<text x="168.10" y="157.44" font-size="6.30" stroke="#111" stroke-width="0.12">8:2</text>
<line x1="155.50" y1="163.50" x2="167.30" y2="163.50" stroke="#ff1a8c" stroke-width="1.40"/>
<text x="168.10" y="165.34" font-size="6.30" stroke="#111" stroke-width="0.12">7:3</text>
<line x1="155.50" y1="171.50" x2="167.30" y2="171.50" stroke="#1f9a50" stroke-width="1.40"/>
<text x="168.10" y="173.24" font-size="6.30" stroke="#111" stroke-width="0.12">6:4</text>
<line x1="155.50" y1="179.50" x2="167.30" y2="179.50" stroke="#1a2a9a" stroke-width="1.40"/>
<text x="168.10" y="181.14" font-size="6.30" stroke="#111" stroke-width="0.12">5:5</text>
<line x1="155.50" y1="186.50" x2="167.30" y2="186.50" stroke="#9020c0" stroke-width="1.40"/>
<text x="168.10" y="189.04" font-size="6.30" stroke="#111" stroke-width="0.12">4:6</text>
<line x1="155.50" y1="194.50" x2="167.30" y2="194.50" stroke="#8a30c8" stroke-width="1.40"/>
<text x="168.10" y="196.94" font-size="6.30" stroke="#111" stroke-width="0.12">3:7</text>
<line x1="155.50" y1="202.50" x2="167.30" y2="202.50" stroke="#a02050" stroke-width="1.40"/>
<text x="168.10" y="204.84" font-size="6.30" stroke="#111" stroke-width="0.12">2:8</text>
<line x1="155.50" y1="210.50" x2="167.30" y2="210.50" stroke="#9a9a60" stroke-width="1.40"/>
<text x="168.10" y="212.74" font-size="6.30" stroke="#111" stroke-width="0.12">1:9</text>
<line x1="155.50" y1="218.50" x2="167.30" y2="218.50" stroke="#3a7a98" stroke-width="1.40"/>
<text x="168.10" y="220.64" font-size="6.30" stroke="#111" stroke-width="0.12">0:10</text>
<text x="120.30" y="141.37" font-size="5.20" textLength="34.2" lengthAdjust="spacingAndGlyphs">Tol:DMSO / V:V</text>
<line x1="247.00" y1="140.50" x2="258.80" y2="140.50" stroke="#000000" stroke-width="1.40"/>
<text x="259.60" y="142.14" font-size="6.30" stroke="#111" stroke-width="0.12">10:0</text>
<line x1="247.00" y1="148.50" x2="258.80" y2="148.50" stroke="#ff1a1a" stroke-width="1.40"/>
<text x="259.60" y="150.22" font-size="6.30" stroke="#111" stroke-width="0.12">9:1</text>
<line x1="247.00" y1="156.50" x2="258.80" y2="156.50" stroke="#1a1aa8" stroke-width="1.40"/>
<text x="259.60" y="158.30" font-size="6.30" stroke="#111" stroke-width="0.12">8:2</text>
<line x1="247.00" y1="164.50" x2="258.80" y2="164.50" stroke="#ff1a8c" stroke-width="1.40"/>
<text x="259.60" y="166.38" font-size="6.30" stroke="#111" stroke-width="0.12">7:3</text>
<line x1="247.00" y1="172.50" x2="258.80" y2="172.50" stroke="#1f9a50" stroke-width="1.40"/>
<text x="259.60" y="174.46" font-size="6.30" stroke="#111" stroke-width="0.12">6:4</text>
<line x1="247.00" y1="180.50" x2="258.80" y2="180.50" stroke="#1a2a9a" stroke-width="1.40"/>
<text x="259.60" y="182.54" font-size="6.30" stroke="#111" stroke-width="0.12">5:5</text>
<line x1="247.00" y1="188.50" x2="258.80" y2="188.50" stroke="#9020c0" stroke-width="1.40"/>
<text x="259.60" y="190.62" font-size="6.30" stroke="#111" stroke-width="0.12">4:6</text>
<line x1="247.00" y1="196.50" x2="258.80" y2="196.50" stroke="#8a30c8" stroke-width="1.40"/>
<text x="259.60" y="198.70" font-size="6.30" stroke="#111" stroke-width="0.12">3:7</text>
<line x1="247.00" y1="204.50" x2="258.80" y2="204.50" stroke="#a02050" stroke-width="1.40"/>
<text x="259.60" y="206.78" font-size="6.30" stroke="#111" stroke-width="0.12">2:8</text>
<line x1="247.00" y1="212.50" x2="258.80" y2="212.50" stroke="#9a9a60" stroke-width="1.40"/>
<text x="259.60" y="214.86" font-size="6.30" stroke="#111" stroke-width="0.12">1:9</text>
<line x1="247.00" y1="220.50" x2="258.80" y2="220.50" stroke="#3a7a98" stroke-width="1.40"/>
<text x="259.60" y="222.94" font-size="6.30" stroke="#111" stroke-width="0.12">0:10</text>
<text x="275.20" y="141.87" font-size="5.20" textLength="33.3" lengthAdjust="spacingAndGlyphs">Tol:DMSO / V:V</text>
<line x1="154.30" y1="267.50" x2="165.90" y2="267.50" stroke="#000000" stroke-width="1.40"/>
<text x="166.70" y="269.44" font-size="6.30" stroke="#111" stroke-width="0.12">10:0</text>
<line x1="154.30" y1="275.50" x2="165.90" y2="275.50" stroke="#ff1a1a" stroke-width="1.40"/>
<text x="166.70" y="277.39" font-size="6.30" stroke="#111" stroke-width="0.12">9:1</text>
<line x1="154.30" y1="283.50" x2="165.90" y2="283.50" stroke="#1a1aa8" stroke-width="1.40"/>
<text x="166.70" y="285.34" font-size="6.30" stroke="#111" stroke-width="0.12">8:2</text>
<line x1="154.30" y1="291.50" x2="165.90" y2="291.50" stroke="#ff1a8c" stroke-width="1.40"/>
<text x="166.70" y="293.29" font-size="6.30" stroke="#111" stroke-width="0.12">7:3</text>
<line x1="154.30" y1="299.50" x2="165.90" y2="299.50" stroke="#1f9a50" stroke-width="1.40"/>
<text x="166.70" y="301.24" font-size="6.30" stroke="#111" stroke-width="0.12">6:4</text>
<line x1="154.30" y1="307.50" x2="165.90" y2="307.50" stroke="#1a2a9a" stroke-width="1.40"/>
<text x="166.70" y="309.19" font-size="6.30" stroke="#111" stroke-width="0.12">5:5</text>
<line x1="154.30" y1="315.50" x2="165.90" y2="315.50" stroke="#9020c0" stroke-width="1.40"/>
<text x="166.70" y="317.14" font-size="6.30" stroke="#111" stroke-width="0.12">4:6</text>
<line x1="154.30" y1="322.50" x2="165.90" y2="322.50" stroke="#8a30c8" stroke-width="1.40"/>
<text x="166.70" y="325.09" font-size="6.30" stroke="#111" stroke-width="0.12">3:7</text>
<line x1="154.30" y1="330.50" x2="165.90" y2="330.50" stroke="#a02050" stroke-width="1.40"/>
<text x="166.70" y="333.04" font-size="6.30" stroke="#111" stroke-width="0.12">2:8</text>
<line x1="154.30" y1="338.50" x2="165.90" y2="338.50" stroke="#9a9a60" stroke-width="1.40"/>
<text x="166.70" y="340.99" font-size="6.30" stroke="#111" stroke-width="0.12">1:9</text>
<line x1="154.30" y1="346.50" x2="165.90" y2="346.50" stroke="#3a7a98" stroke-width="1.40"/>
<text x="166.70" y="348.94" font-size="6.30" stroke="#111" stroke-width="0.12">0:10</text>
<text x="120.00" y="269.17" font-size="5.20" textLength="31.9" lengthAdjust="spacingAndGlyphs">Diox:H<tspan font-size="3.4" dy="1">2</tspan><tspan dy="-1">O / V:V</tspan></text>
<line x1="247.00" y1="268.50" x2="258.40" y2="268.50" stroke="#000000" stroke-width="1.40"/>
<text x="259.20" y="270.74" font-size="6.30" stroke="#111" stroke-width="0.12">10:0</text>
<line x1="247.00" y1="276.50" x2="258.40" y2="276.50" stroke="#ff1a1a" stroke-width="1.40"/>
<text x="259.20" y="278.81" font-size="6.30" stroke="#111" stroke-width="0.12">9:1</text>
<line x1="247.00" y1="284.50" x2="258.40" y2="284.50" stroke="#1a1aa8" stroke-width="1.40"/>
<text x="259.20" y="286.88" font-size="6.30" stroke="#111" stroke-width="0.12">8:2</text>
<line x1="247.00" y1="292.50" x2="258.40" y2="292.50" stroke="#ff1a8c" stroke-width="1.40"/>
<text x="259.20" y="294.95" font-size="6.30" stroke="#111" stroke-width="0.12">7:3</text>
<line x1="247.00" y1="300.50" x2="258.40" y2="300.50" stroke="#1f9a50" stroke-width="1.40"/>
<text x="259.20" y="303.02" font-size="6.30" stroke="#111" stroke-width="0.12">6:4</text>
<line x1="247.00" y1="308.50" x2="258.40" y2="308.50" stroke="#1a2a9a" stroke-width="1.40"/>
<text x="259.20" y="311.09" font-size="6.30" stroke="#111" stroke-width="0.12">5:5</text>
<line x1="247.00" y1="317.50" x2="258.40" y2="317.50" stroke="#9020c0" stroke-width="1.40"/>
<text x="259.20" y="319.16" font-size="6.30" stroke="#111" stroke-width="0.12">4:6</text>
<line x1="247.00" y1="325.50" x2="258.40" y2="325.50" stroke="#8a30c8" stroke-width="1.40"/>
<text x="259.20" y="327.23" font-size="6.30" stroke="#111" stroke-width="0.12">3:7</text>
<line x1="247.00" y1="333.50" x2="258.40" y2="333.50" stroke="#a02050" stroke-width="1.40"/>
<text x="259.20" y="335.30" font-size="6.30" stroke="#111" stroke-width="0.12">2:8</text>
<line x1="247.00" y1="341.50" x2="258.40" y2="341.50" stroke="#9a9a60" stroke-width="1.40"/>
<text x="259.20" y="343.37" font-size="6.30" stroke="#111" stroke-width="0.12">1:9</text>
<line x1="247.00" y1="349.50" x2="258.40" y2="349.50" stroke="#3a7a98" stroke-width="1.40"/>
<text x="259.20" y="351.44" font-size="6.30" stroke="#111" stroke-width="0.12">0:10</text>
<text x="275.40" y="270.47" font-size="5.20" textLength="31.5" lengthAdjust="spacingAndGlyphs">Diox:H<tspan font-size="3.4" dy="1">2</tspan><tspan dy="-1">O / V:V</tspan></text>
<text class="b" x="1.70" y="10.35" font-size="11.00">(A)</text>
<text class="b" x="198.50" y="10.15" font-size="11.00">(B)</text>
<text class="b" x="1.60" y="130.75" font-size="11.00">(C)</text>
<text class="b" x="198.70" y="130.95" font-size="11.00">(D)</text>
<text class="b" x="1.60" y="263.05" font-size="11.00">(E)</text>
<text class="b" x="198.40" y="261.85" font-size="11.00">(F)</text></g>
</svg>
</body></html>
